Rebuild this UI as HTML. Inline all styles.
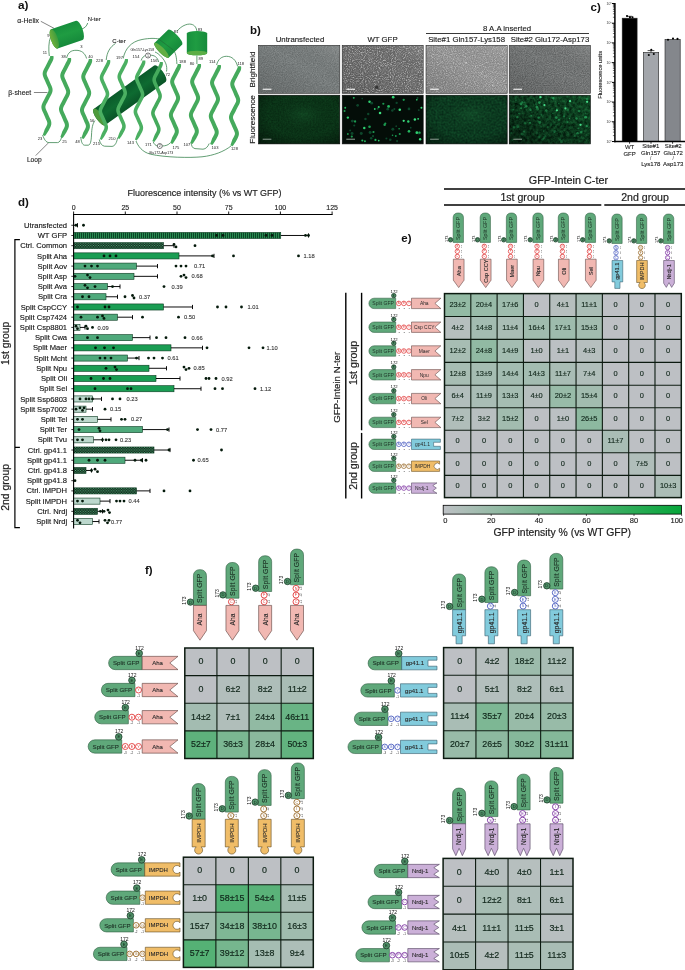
<!DOCTYPE html>
<html><head><meta charset="utf-8"><title>Figure</title>
<style>
html,body{margin:0;padding:0;background:#fff;}
svg{display:block;font-family:"Liberation Sans", sans-serif;}
text{font-family:"Liberation Sans", sans-serif;}
</style></head><body>
<svg width="685" height="970" viewBox="0 0 685 970">
<rect width="685" height="970" fill="#fff"/>
<defs>
<filter id="bf1" x="0" y="0" width="100%" height="100%" color-interpolation-filters="sRGB"><feTurbulence type="fractalNoise" baseFrequency="0.9" numOctaves="2" seed="2" result="t"/><feColorMatrix in="t" type="matrix" values="0.2 0 0 0 0.37  0.2 0 0 0 0.39  0.2 0 0 0 0.39  0 0 0 0 1" result="c"/><feComposite in="c" in2="SourceGraphic" operator="in"/></filter>
<filter id="bf2" x="0" y="0" width="100%" height="100%" color-interpolation-filters="sRGB"><feTurbulence type="fractalNoise" baseFrequency="0.93" numOctaves="2" seed="5" result="t"/><feColorMatrix in="t" type="matrix" values="1 0 0 0 0  1 0 0 0 0  1 0 0 0 0  0 0 0 0 1" result="g"/><feComponentTransfer in="g" result="c"><feFuncR type="table" tableValues="0.33 0.35 0.37 0.39 0.41 0.45 0.52 0.62 0.72 0.8 0.9"/><feFuncG type="table" tableValues="0.33 0.35 0.37 0.39 0.41 0.45 0.52 0.62 0.72 0.8 0.9"/><feFuncB type="table" tableValues="0.33 0.35 0.37 0.39 0.41 0.45 0.52 0.62 0.72 0.8 0.9"/></feComponentTransfer><feComposite in="c" in2="SourceGraphic" operator="in"/></filter>
<filter id="bf3" x="0" y="0" width="100%" height="100%" color-interpolation-filters="sRGB"><feTurbulence type="fractalNoise" baseFrequency="0.9" numOctaves="2" seed="7" result="t"/><feColorMatrix in="t" type="matrix" values="1 0 0 0 0  1 0 0 0 0  1 0 0 0 0  0 0 0 0 1" result="g"/><feComponentTransfer in="g" result="c"><feFuncR type="table" tableValues="0.45 0.48 0.51 0.54 0.56 0.59 0.64 0.69 0.76 0.85 1"/><feFuncG type="table" tableValues="0.45 0.48 0.51 0.54 0.56 0.59 0.64 0.69 0.76 0.85 1"/><feFuncB type="table" tableValues="0.45 0.48 0.51 0.54 0.56 0.59 0.64 0.69 0.76 0.85 1"/></feComponentTransfer><feComposite in="c" in2="SourceGraphic" operator="in"/></filter>
<filter id="bf4" x="0" y="0" width="100%" height="100%" color-interpolation-filters="sRGB"><feTurbulence type="fractalNoise" baseFrequency="0.9" numOctaves="2" seed="11" result="t"/><feColorMatrix in="t" type="matrix" values="0.26 0 0 0 0.32  0.26 0 0 0 0.33  0.26 0 0 0 0.33  0 0 0 0 1" result="c"/><feComposite in="c" in2="SourceGraphic" operator="in"/></filter>
<filter id="fl1" x="0" y="0" width="100%" height="100%" color-interpolation-filters="sRGB"><feTurbulence type="fractalNoise" baseFrequency="0.6" numOctaves="2" seed="4" result="t"/><feColorMatrix in="t" type="matrix" values="0.04 0 0 0 0.02  0.12 0 0 0 0.14  0.06 0 0 0 0.06  0 0 0 0 1" result="c"/><feComposite in="c" in2="SourceGraphic" operator="in"/></filter>
<filter id="fl3" x="0" y="0" width="100%" height="100%" color-interpolation-filters="sRGB"><feTurbulence type="fractalNoise" baseFrequency="0.5" numOctaves="2" seed="8" result="t"/><feColorMatrix in="t" type="matrix" values="0.07 0 0 0 0.01  0.22 0 0 0 0.12  0.11 0 0 0 0.07  0 0 0 0 1" result="c"/><feComposite in="c" in2="SourceGraphic" operator="in"/></filter>
<filter id="fl4" x="0" y="0" width="100%" height="100%" color-interpolation-filters="sRGB"><feTurbulence type="fractalNoise" baseFrequency="0.33" numOctaves="3" seed="9" result="t"/><feColorMatrix in="t" type="matrix" values="0.13 0 0 0 -0.02  0.42 0 0 0 0.02  0.23 0 0 0 -0  0 0 0 0 1" result="c"/><feComposite in="c" in2="SourceGraphic" operator="in"/></filter>
<filter id="blur1" x="-50%" y="-50%" width="200%" height="200%"><feGaussianBlur stdDeviation="0.55"/></filter>
<filter id="blur2" x="-50%" y="-50%" width="200%" height="200%"><feGaussianBlur stdDeviation="0.8"/></filter>
<linearGradient id="vg1" x1="0" y1="1" x2="1" y2="0"><stop offset="0" stop-color="#000" stop-opacity="0.16"/><stop offset="0.55" stop-color="#000" stop-opacity="0"/><stop offset="1" stop-color="#fff" stop-opacity="0.14"/></linearGradient>
<radialGradient id="vg2" cx="0.55" cy="0.4" r="0.8"><stop offset="0" stop-color="#2a8a4a" stop-opacity="0.2"/><stop offset="0.55" stop-color="#000" stop-opacity="0"/><stop offset="1" stop-color="#000" stop-opacity="0.5"/></radialGradient>
<linearGradient id="vg4" x1="0" y1="1" x2="1" y2="0"><stop offset="0" stop-color="#000" stop-opacity="0.45"/><stop offset="0.5" stop-color="#000" stop-opacity="0.05"/><stop offset="1" stop-color="#3c6" stop-opacity="0.12"/></linearGradient>
<linearGradient id="hA" x1="0" y1="0" x2="0" y2="1" gradientUnits="objectBoundingBox"><stop offset="0" stop-color="#178f3d"/><stop offset="0.45" stop-color="#1f9c42"/><stop offset="1" stop-color="#168a3b"/></linearGradient>
<linearGradient id="hB" x1="0" y1="0" x2="0" y2="1" gradientUnits="objectBoundingBox"><stop offset="0" stop-color="#0a5a2a"/><stop offset="0.5" stop-color="#0e6b31"/><stop offset="1" stop-color="#0a5427"/></linearGradient>
<linearGradient id="capA" x1="0" y1="0" x2="1" y2="0"><stop offset="0" stop-color="#74b03c"/><stop offset="1" stop-color="#3c9c3e"/></linearGradient>
<pattern id="pwt" width="2" height="8" patternUnits="userSpaceOnUse"><rect width="2" height="8" fill="#0a4527"/><rect x="0" width="1" height="8" fill="#27894e"/></pattern>
<pattern id="pck" width="2.554" height="2.554" patternUnits="userSpaceOnUse" patternTransform="translate(0.2 244.40)"><rect width="2.6" height="2.6" fill="#031208"/><circle cx="1.277" cy="1.277" r="0.7" fill="#5cba88"/><circle cx="0" cy="0" r="0.7" fill="#5cba88"/><circle cx="2.554" cy="0" r="0.7" fill="#5cba88"/><circle cx="0" cy="2.554" r="0.7" fill="#5cba88"/><circle cx="2.554" cy="2.554" r="0.7" fill="#5cba88"/></pattern>
<linearGradient id="cb" x1="0" y1="0" x2="1" y2="0"><stop offset="0" stop-color="#bdc0c4"/><stop offset="1" stop-color="#06a63a"/></linearGradient>
</defs>
<g><text x="250" y="34" font-size="11.5" text-anchor="start" font-weight="bold" fill="#111">b)</text>
<text x="300" y="42" font-size="7.8" text-anchor="middle" font-weight="normal" fill="#222" stroke="#222" stroke-width="0.14">Untransfected</text>
<text x="382.5" y="42" font-size="7.8" text-anchor="middle" font-weight="normal" fill="#222" stroke="#222" stroke-width="0.14">WT GFP</text>
<text x="466.6" y="42" font-size="7.8" text-anchor="middle" font-weight="normal" fill="#222" stroke="#222" stroke-width="0.14">Site#1 Gln157-Lys158</text>
<text x="550" y="42" font-size="7.8" text-anchor="middle" font-weight="normal" fill="#222" stroke="#222" stroke-width="0.14">Site#2 Glu172-Asp173</text>
<text x="507" y="31" font-size="7.8" text-anchor="middle" font-weight="normal" fill="#222" stroke="#222" stroke-width="0.14">8 A.A inserted</text>
<line x1="426" y1="33.5" x2="589" y2="33.5" stroke="#222" stroke-width="0.9"/>
<text x="255.3" y="69.5" font-size="8.1" text-anchor="middle" font-weight="normal" fill="#222" transform="rotate(-90 255.3 69.5)" stroke="#222" stroke-width="0.15">Brightfield</text>
<text x="255.3" y="119.5" font-size="8.1" text-anchor="middle" font-weight="normal" fill="#222" transform="rotate(-90 255.3 119.5)" stroke="#222" stroke-width="0.15">Fluorescence</text>
<rect x="258.6" y="45.3" width="81.2" height="48" fill="#888" filter="url(#bf1)"/>
<rect x="258.6" y="45.3" width="81.2" height="48" fill="url(#vg1)"/>
<rect x="342.2" y="45.3" width="81" height="48" fill="#888" filter="url(#bf2)"/>
<rect x="342.2" y="45.3" width="81" height="48" fill="url(#vg1)"/>
<rect x="426" y="45.3" width="81.2" height="48" fill="#888" filter="url(#bf3)"/>
<rect x="426" y="45.3" width="81.2" height="48" fill="url(#vg1)"/>
<rect x="509.2" y="45.3" width="81.2" height="48" fill="#888" filter="url(#bf4)"/>
<rect x="509.2" y="45.3" width="81.2" height="48" fill="url(#vg1)"/>
<circle cx="376.8" cy="87.3" r="1.8" fill="#222" opacity="0.7" filter="url(#blur1)"/>
<rect x="258.6" y="95.2" width="81.2" height="48.7" fill="#888" filter="url(#fl1)"/>
<rect x="258.6" y="95.2" width="81.2" height="48.7" fill="url(#vg2)"/>
<rect x="342.2" y="95.2" width="81" height="48.7" fill="#040d08"/>
<rect x="426" y="95.2" width="81.2" height="48.7" fill="#888" filter="url(#fl3)"/>
<rect x="426" y="95.2" width="81.2" height="48.7" fill="url(#vg2)"/>
<rect x="509.2" y="95.2" width="81.2" height="48.7" fill="#888" filter="url(#fl4)"/>
<rect x="509.2" y="95.2" width="81.2" height="48.7" fill="url(#vg4)"/>
<g filter="url(#blur1)"><circle cx="345.23" cy="107.7" r="0.94" fill="#25b860"/><circle cx="344.57" cy="110.99" r="1.02" fill="#1c9a50"/><circle cx="347.86" cy="117.56" r="1.18" fill="#2fd070"/><circle cx="355.08" cy="121.5" r="1.16" fill="#1c9a50"/><circle cx="353.77" cy="97.85" r="0.96" fill="#25b860"/><circle cx="347.86" cy="133.98" r="0.92" fill="#1c9a50"/><circle cx="351.8" cy="136.61" r="1.12" fill="#1c9a50"/><circle cx="362.31" cy="140.55" r="1.04" fill="#25b860"/><circle cx="364.94" cy="141.21" r="0.94" fill="#25b860"/><circle cx="369.54" cy="126.76" r="1.32" fill="#1c9a50"/><circle cx="364.28" cy="128.07" r="1.24" fill="#2fd070"/><circle cx="374.79" cy="109.02" r="0.9" fill="#2fd070"/><circle cx="378.74" cy="107.05" r="0.98" fill="#2fd070"/><circle cx="380.05" cy="112.96" r="1.29" fill="#3fe080"/><circle cx="383.34" cy="103.76" r="1.08" fill="#1c9a50"/><circle cx="384.65" cy="124.79" r="1.23" fill="#1c9a50"/><circle cx="385.31" cy="123.47" r="1.04" fill="#1c9a50"/><circle cx="388.59" cy="106.39" r="1.38" fill="#25b860"/><circle cx="393.19" cy="97.19" r="1.33" fill="#2fd070"/><circle cx="392.53" cy="135.3" r="0.82" fill="#1c9a50"/><circle cx="395.82" cy="135.96" r="0.93" fill="#1c9a50"/><circle cx="399.76" cy="109.67" r="1.27" fill="#3fe080"/><circle cx="399.76" cy="133.98" r="1.05" fill="#1c9a50"/><circle cx="403.7" cy="99.82" r="1.14" fill="#1c9a50"/><circle cx="403.7" cy="120.84" r="1.15" fill="#3fe080"/><circle cx="408.3" cy="121.5" r="1.21" fill="#2fd070"/><circle cx="408.96" cy="131.36" r="1.31" fill="#25b860"/><circle cx="414.87" cy="119.53" r="1.22" fill="#3fe080"/><circle cx="416.84" cy="132.67" r="1.38" fill="#2fd070"/><circle cx="419.47" cy="132.67" r="1.23" fill="#25b860"/><circle cx="420.13" cy="139.24" r="1.18" fill="#3fe080"/><circle cx="418.16" cy="118.87" r="0.97" fill="#2fd070"/><circle cx="373.48" cy="132.01" r="1.09" fill="#1c9a50"/><circle cx="378.74" cy="140.55" r="0.85" fill="#2fd070"/><circle cx="375.45" cy="139.9" r="1.05" fill="#25b860"/><circle cx="399.1" cy="128.73" r="0.81" fill="#1c9a50"/><circle cx="369.54" cy="101.79" r="1.26" fill="#2fd070"/><circle cx="416.84" cy="99.82" r="0.83" fill="#2fd070"/><circle cx="421.44" cy="107.7" r="1.03" fill="#3fe080"/><circle cx="386.42" cy="138.48" r="1" fill="#12603a" opacity="0.7"/><circle cx="362.17" cy="98.62" r="0.81" fill="#12603a" opacity="0.7"/><circle cx="352.33" cy="121.1" r="1.46" fill="#12603a" opacity="0.7"/><circle cx="418.8" cy="110.12" r="0.98" fill="#12603a" opacity="0.7"/><circle cx="397.11" cy="141.09" r="1.04" fill="#12603a" opacity="0.7"/><circle cx="371.74" cy="103.22" r="1.4" fill="#12603a" opacity="0.7"/><circle cx="373.01" cy="136.15" r="1.07" fill="#12603a" opacity="0.7"/><circle cx="410.75" cy="127.64" r="0.87" fill="#12603a" opacity="0.7"/><circle cx="418.91" cy="133.52" r="0.99" fill="#12603a" opacity="0.7"/><circle cx="392.84" cy="129.2" r="1.46" fill="#12603a" opacity="0.7"/><circle cx="377.68" cy="108.62" r="1.01" fill="#12603a" opacity="0.7"/><circle cx="370.1" cy="132.48" r="1.49" fill="#12603a" opacity="0.7"/><circle cx="368.25" cy="113.94" r="1.21" fill="#12603a" opacity="0.7"/><circle cx="354.26" cy="125.51" r="1.03" fill="#12603a" opacity="0.7"/><circle cx="371.17" cy="138.28" r="1.23" fill="#12603a" opacity="0.7"/><circle cx="365.48" cy="119.03" r="1.21" fill="#12603a" opacity="0.7"/><circle cx="417.52" cy="97.96" r="1.06" fill="#12603a" opacity="0.7"/><circle cx="392.35" cy="110.44" r="1.22" fill="#12603a" opacity="0.7"/><circle cx="357.66" cy="105.34" r="1.33" fill="#12603a" opacity="0.7"/><circle cx="408.98" cy="108.89" r="1.35" fill="#12603a" opacity="0.7"/><circle cx="352.08" cy="133.59" r="1.48" fill="#12603a" opacity="0.7"/><circle cx="396.65" cy="102.91" r="1.15" fill="#12603a" opacity="0.7"/><circle cx="394.34" cy="109.12" r="1.03" fill="#12603a" opacity="0.7"/><circle cx="396.21" cy="126.23" r="0.87" fill="#12603a" opacity="0.7"/><circle cx="390.26" cy="139.71" r="1.27" fill="#12603a" opacity="0.7"/><circle cx="361.28" cy="133.44" r="1.47" fill="#12603a" opacity="0.7"/><circle cx="350.16" cy="130.39" r="0.95" fill="#12603a" opacity="0.7"/><circle cx="387.77" cy="109.18" r="1.35" fill="#12603a" opacity="0.7"/></g>
<g filter="url(#blur1)"><circle cx="536.26" cy="103.79" r="1.22" fill="#2fc870" opacity="0.21"/><circle cx="552.8" cy="113.46" r="0.75" fill="#2fc870" opacity="0.39"/><circle cx="513.92" cy="116.51" r="0.76" fill="#2fc870" opacity="0.16"/><circle cx="544.11" cy="134.21" r="0.8" fill="#2fc870" opacity="0.2"/><circle cx="559.94" cy="139.65" r="1.16" fill="#2fc870" opacity="0.27"/><circle cx="587.15" cy="99.1" r="1.39" fill="#2fc870" opacity="0.4"/><circle cx="522.25" cy="102.3" r="0.95" fill="#2fc870" opacity="0.48"/><circle cx="525.1" cy="123.17" r="1.21" fill="#2fc870" opacity="0.25"/><circle cx="553.72" cy="99.83" r="0.75" fill="#2fc870" opacity="0.3"/><circle cx="564.07" cy="116.24" r="0.95" fill="#2fc870" opacity="0.43"/><circle cx="546.35" cy="110.49" r="1.34" fill="#2fc870" opacity="0.46"/><circle cx="530.04" cy="122.85" r="1.12" fill="#2fc870" opacity="0.42"/><circle cx="567.9" cy="109.96" r="1.48" fill="#2fc870" opacity="0.26"/><circle cx="543.61" cy="131.07" r="0.82" fill="#2fc870" opacity="0.29"/><circle cx="514.06" cy="127.07" r="1.31" fill="#2fc870" opacity="0.27"/><circle cx="579.29" cy="111.12" r="1.26" fill="#2fc870" opacity="0.49"/><circle cx="556.23" cy="117.53" r="1.37" fill="#2fc870" opacity="0.55"/><circle cx="547.98" cy="126.89" r="0.75" fill="#2fc870" opacity="0.39"/><circle cx="561.48" cy="141.69" r="1.36" fill="#2fc870" opacity="0.23"/><circle cx="541.09" cy="127.09" r="0.72" fill="#2fc870" opacity="0.29"/><circle cx="524.11" cy="102.27" r="0.75" fill="#2fc870" opacity="0.47"/><circle cx="521.09" cy="108.14" r="1.01" fill="#2fc870" opacity="0.46"/><circle cx="517.29" cy="117.21" r="1.14" fill="#2fc870" opacity="0.41"/><circle cx="574.9" cy="135.88" r="0.92" fill="#2fc870" opacity="0.32"/><circle cx="538.98" cy="136.79" r="1.47" fill="#2fc870" opacity="0.17"/><circle cx="524.74" cy="107.44" r="0.89" fill="#2fc870" opacity="0.34"/><circle cx="556.95" cy="108.82" r="0.7" fill="#2fc870" opacity="0.38"/><circle cx="539.8" cy="122.49" r="1.46" fill="#2fc870" opacity="0.38"/><circle cx="551.21" cy="124.79" r="1.24" fill="#2fc870" opacity="0.18"/><circle cx="581.16" cy="132.1" r="1.4" fill="#2fc870" opacity="0.49"/><circle cx="541.61" cy="114.95" r="0.78" fill="#2fc870" opacity="0.4"/><circle cx="515.86" cy="100.03" r="0.87" fill="#2fc870" opacity="0.23"/><circle cx="537.52" cy="99.37" r="0.7" fill="#2fc870" opacity="0.26"/><circle cx="518.91" cy="113.36" r="0.72" fill="#2fc870" opacity="0.43"/><circle cx="558.9" cy="103.68" r="0.9" fill="#2fc870" opacity="0.36"/><circle cx="539.4" cy="102.53" r="1.38" fill="#2fc870" opacity="0.6"/><circle cx="547.35" cy="118.77" r="0.77" fill="#2fc870" opacity="0.2"/><circle cx="537.73" cy="108.91" r="1.36" fill="#2fc870" opacity="0.24"/><circle cx="512.8" cy="139.79" r="1.12" fill="#2fc870" opacity="0.12"/><circle cx="553.37" cy="98.22" r="1.12" fill="#2fc870" opacity="0.66"/><circle cx="578.34" cy="128.33" r="0.91" fill="#2fc870" opacity="0.33"/><circle cx="524.03" cy="131.74" r="1.13" fill="#2fc870" opacity="0.32"/><circle cx="536.71" cy="107.04" r="1.35" fill="#2fc870" opacity="0.56"/><circle cx="577.51" cy="133.27" r="1.35" fill="#2fc870" opacity="0.45"/><circle cx="528.69" cy="120.29" r="0.98" fill="#2fc870" opacity="0.15"/><circle cx="513.18" cy="109.57" r="0.91" fill="#2fc870" opacity="0.37"/><circle cx="585.61" cy="117.13" r="1.45" fill="#2fc870" opacity="0.67"/><circle cx="585.49" cy="113.41" r="0.88" fill="#2fc870" opacity="0.32"/><circle cx="526.34" cy="106.2" r="1.2" fill="#2fc870" opacity="0.5"/><circle cx="576.55" cy="118.58" r="1.22" fill="#2fc870" opacity="0.55"/><circle cx="517.61" cy="126.73" r="1.43" fill="#2fc870" opacity="0.33"/><circle cx="569.51" cy="118.51" r="0.84" fill="#2fc870" opacity="0.52"/><circle cx="536.94" cy="133.04" r="1.48" fill="#2fc870" opacity="0.24"/><circle cx="542.31" cy="139.61" r="1.28" fill="#2fc870" opacity="0.17"/><circle cx="520.91" cy="103.8" r="1.42" fill="#2fc870" opacity="0.46"/><circle cx="522.4" cy="134.19" r="1.48" fill="#2fc870" opacity="0.28"/><circle cx="538.33" cy="121.69" r="0.8" fill="#2fc870" opacity="0.16"/><circle cx="586.73" cy="126.24" r="1.12" fill="#2fc870" opacity="0.6"/><circle cx="544.84" cy="136.23" r="1.36" fill="#2fc870" opacity="0.19"/><circle cx="530.64" cy="110.18" r="0.89" fill="#2fc870" opacity="0.38"/><circle cx="531.23" cy="115.86" r="0.8" fill="#2fc870" opacity="0.47"/><circle cx="538.6" cy="117.62" r="1.17" fill="#2fc870" opacity="0.48"/><circle cx="543.81" cy="138.3" r="1.1" fill="#2fc870" opacity="0.28"/><circle cx="551.83" cy="97.84" r="1.05" fill="#2fc870" opacity="0.29"/><circle cx="511.31" cy="132.96" r="0.84" fill="#2fc870" opacity="0.21"/><circle cx="567.57" cy="122.04" r="0.96" fill="#2fc870" opacity="0.39"/><circle cx="554.32" cy="132.29" r="0.78" fill="#2fc870" opacity="0.34"/><circle cx="530.38" cy="109.46" r="1.32" fill="#2fc870" opacity="0.35"/><circle cx="554.81" cy="131.2" r="1.43" fill="#2fc870" opacity="0.3"/><circle cx="558.78" cy="119.75" r="1.11" fill="#2fc870" opacity="0.45"/><circle cx="540.48" cy="97.19" r="1.15" fill="#45dc88"/><circle cx="565.45" cy="108.36" r="1.15" fill="#45dc88"/><circle cx="587.13" cy="101.79" r="1.15" fill="#45dc88"/><circle cx="570.05" cy="101.13" r="1.15" fill="#45dc88"/><circle cx="556.91" cy="110.33" r="1.15" fill="#45dc88"/><circle cx="580.56" cy="124.79" r="1.15" fill="#45dc88"/><circle cx="544.42" cy="105.07" r="1.15" fill="#45dc88"/></g>
<rect x="258.6" y="45.3" width="81.2" height="48" fill="none" stroke="#2a2a2a" stroke-width="0.6"/>
<rect x="258.6" y="95.2" width="81.2" height="48.7" fill="none" stroke="#0a0a0a" stroke-width="0.6"/>
<rect x="262.7" y="88.7" width="8.7" height="1.05" fill="#fff"/>
<rect x="262.7" y="138.7" width="8.7" height="1.05" fill="#8a9a90"/>
<rect x="342.2" y="45.3" width="81" height="48" fill="none" stroke="#2a2a2a" stroke-width="0.6"/>
<rect x="342.2" y="95.2" width="81" height="48.7" fill="none" stroke="#0a0a0a" stroke-width="0.6"/>
<rect x="346.3" y="88.7" width="8.7" height="1.05" fill="#fff"/>
<rect x="346.3" y="138.7" width="8.7" height="1.05" fill="#8a9a90"/>
<rect x="426" y="45.3" width="81.2" height="48" fill="none" stroke="#2a2a2a" stroke-width="0.6"/>
<rect x="426" y="95.2" width="81.2" height="48.7" fill="none" stroke="#0a0a0a" stroke-width="0.6"/>
<rect x="430.1" y="88.7" width="8.7" height="1.05" fill="#fff"/>
<rect x="430.1" y="138.7" width="8.7" height="1.05" fill="#8a9a90"/>
<rect x="509.2" y="45.3" width="81.2" height="48" fill="none" stroke="#2a2a2a" stroke-width="0.6"/>
<rect x="509.2" y="95.2" width="81.2" height="48.7" fill="none" stroke="#0a0a0a" stroke-width="0.6"/>
<rect x="513.3" y="88.7" width="8.7" height="1.05" fill="#fff"/>
<rect x="513.3" y="138.7" width="8.7" height="1.05" fill="#8a9a90"/></g>
<g><text x="18" y="8.7" font-size="11.8" text-anchor="start" font-weight="bold" fill="#111">a)</text>
<text x="17.3" y="22.9" font-size="6.9" text-anchor="start" font-weight="normal" fill="#222" stroke="#222" stroke-width="0.12">α-Helix</text>
<line x1="40.8" y1="21.3" x2="54" y2="28.3" stroke="#333" stroke-width="0.6"/>
<text x="87.7" y="21.4" font-size="5.8" text-anchor="start" font-weight="normal" fill="#222" stroke="#222" stroke-width="0.1">N-ter</text>
<text x="112.3" y="43.2" font-size="6" text-anchor="start" font-weight="normal" fill="#222" stroke="#222" stroke-width="0.11">C-ter</text>
<text x="8.2" y="94.8" font-size="6.85" text-anchor="start" font-weight="normal" fill="#222" stroke="#222" stroke-width="0.12">β-sheet</text>
<line x1="33.9" y1="92.5" x2="47.5" y2="92.5" stroke="#333" stroke-width="0.6"/>
<text x="26.9" y="162.1" font-size="6.65" text-anchor="start" font-weight="normal" fill="#222" stroke="#222" stroke-width="0.12">Loop</text>
<line x1="35.7" y1="155.6" x2="48.2" y2="143.1" stroke="#333" stroke-width="0.6"/>
<path d="M87.7,23 C86.8,26 84.8,28 81.8,29" fill="none" stroke="#2f7d45" stroke-width="0.75"/>
<path d="M50.6,37 C48.5,42 48.5,50 49.3,56" fill="none" stroke="#2f7d45" stroke-width="0.75"/>
<path d="M42.6,135 C44,139 46,142.6 49,142.6 L57.5,142.6 C59.5,142.6 61,140 61.7,136.8" fill="none" stroke="#2f7d45" stroke-width="0.75"/>
<path d="M66.6,58 C68,52.5 71,50.3 76,50.3 C81.5,50.3 85,53 86.6,58.5" fill="none" stroke="#2f7d45" stroke-width="0.75"/>
<path d="M80.7,137 C81.2,141 82,144.8 84.5,145.2 L88,145.2 C90.5,145.2 91.2,141 91.5,135 C91.8,128 92.5,124 95,120.5" fill="none" stroke="#2f7d45" stroke-width="0.75"/>
<path d="M115.5,43.5 C110,47 107,52 106.2,60" fill="none" stroke="#2f7d45" stroke-width="0.75"/>
<path d="M99.3,139.5 C100,143.5 102,145.8 104.5,146.2 L112,146.4 C115,146.2 116.8,142.5 117.6,137.7" fill="none" stroke="#2f7d45" stroke-width="0.75"/>
<path d="M123.2,58.5 C125,49 131,41.5 142,39.5 C150,38 155,38.2 159,39 L173.3,50 C175.5,52.5 176.6,57 176.9,64" fill="none" stroke="#2f7d45" stroke-width="0.75"/>
<path d="M141.2,60.5 C142,57.5 144,55.8 145.7,55.5" fill="none" stroke="#2f7d45" stroke-width="0.75"/>
<path d="M150.3,55.3 C154,55 157.5,57 158.7,62" fill="none" stroke="#2f7d45" stroke-width="0.75"/>
<path d="M166.5,71.5 C167.5,66 165.5,61.5 162,57.5 C159,54 156.5,52.5 155,52" fill="none" stroke="#2f7d45" stroke-width="0.75"/>
<path d="M176.8,31.5 C181,26 187,23.5 191,24.2 C195,25 196.5,28 196.9,31.5" fill="none" stroke="#2f7d45" stroke-width="0.75"/>
<path d="M196.9,55.5 L196.9,64" fill="none" stroke="#2f7d45" stroke-width="0.75"/>
<path d="M216.6,65 C218,59 222,56.3 226.5,56.3 C232,56.3 236,60 237.6,66.3" fill="none" stroke="#2f7d45" stroke-width="0.75"/>
<path d="M136,141 C138,146 142,152 150.5,154.2 C165,157.5 190,158 202,156.8 C214,155.5 224,151.5 231,146" fill="none" stroke="#2f7d45" stroke-width="0.75"/>
<path d="M153.2,141.8 C154,144 155.5,145.6 157.5,146" fill="none" stroke="#2f7d45" stroke-width="0.75"/>
<path d="M162.1,146 C165.5,146 168.5,145 170.3,142.8" fill="none" stroke="#2f7d45" stroke-width="0.75"/>
<path d="M191,142.5 C191.5,146 192.5,148.3 195,148.6 L203,149.2 C206,149 208,146.5 209.2,143.5" fill="none" stroke="#2f7d45" stroke-width="0.75"/>
<g transform="translate(54.3 38.9) rotate(-18.8)"><path d="M0,-10.2 L26.4,-10.2 A3.5,10.2 0 0 1 26.4,10.2 L0,10.2 A3.5,10.2 0 0 1 0,-10.2Z" fill="url(#hA)"/><ellipse cx="0" cy="0" rx="3.5" ry="10.2" fill="url(#capA)"/></g>
<g transform="translate(197 53) rotate(-90)"><path d="M0,-10.2 L19.6,-10.2 A2.3,10.2 0 0 1 19.6,10.2 L0,10.2 A2.3,10.2 0 0 1 0,-10.2Z" fill="url(#hA)"/><ellipse cx="0" cy="0" rx="2.3" ry="10.2" fill="#5cae46"/></g>
<g transform="translate(161.5 50.3) rotate(-44)"><path d="M0,-10.2 L19,-10.2 A2.8,10.2 0 0 1 19,10.2 L0,10.2 A2.8,10.2 0 0 1 0,-10.2Z" fill="url(#hA)"/><ellipse cx="0" cy="0" rx="2.8" ry="10.2" fill="#62ae44"/></g>
<path d="M158.7,39 L173.3,50" fill="none" stroke="#1f6e38" stroke-width="0.7"/>
<g transform="translate(99.5 117) rotate(-35.7)"><path d="M0,-10 L74.5,-10 A3.4,10 0 0 1 74.5,10 L0,10 A3.4,10 0 0 1 0,-10Z" fill="url(#hB)"/><ellipse cx="0" cy="0" rx="3.4" ry="10" fill="#4f9a3c"/></g>
<path d="M50.23,56.02 L50.08,57.09 L49.72,57.96 L49.25,58.97 L48.67,60.12 L47.99,61.36 L47.31,62.65 L46.66,63.94 L46.03,65.19 L45.4,66.42 L44.73,67.67 L44.03,68.98 L43.36,70.4 L42.85,71.96 L42.63,73.63 L42.79,75.3 L43.23,76.85 L43.81,78.26 L44.41,79.56 L44.98,80.79 L45.52,82.02 L46.05,83.29 L46.61,84.58 L47.2,85.86 L47.77,87.09 L48.24,88.21 L48.53,89.19 L48.61,90.04 L48.5,90.89 L48.18,91.85 L47.66,92.96 L47,94.17 L46.31,95.45 L45.65,96.74 L45.02,98.01 L44.39,99.25 L43.74,100.48 L43.04,101.76 L42.35,103.13 L41.76,104.63 L41.42,106.27 L41.43,107.96 L41.78,109.57 L42.32,111.03 L42.92,112.36 L43.51,113.62 L44.06,114.84 L44.58,116.09 L45.13,117.37 L45.71,118.67 L46.3,119.93 L46.82,121.09 L47.18,122.13 L47.35,123.02 L47.31,123.85 L47.08,124.76 L46.62,125.81 L46.01,126.99 L45.32,128.25 L44.65,129.54 L44.18,130.91 L43.74,132.25 L43.27,133.58 L42.77,134.93 L44.88,136.07 L45.75,134.9 L46.59,133.7 L47.41,132.52 L48.2,131.36 L48.85,130.13 L49.54,128.87 L50.24,127.52 L50.86,126.05 L51.27,124.44 L51.34,122.74 L51.05,121.11 L50.54,119.62 L49.94,118.26 L49.35,117 L48.79,115.77 L48.26,114.53 L47.73,113.25 L47.15,111.96 L46.56,110.69 L46.01,109.5 L45.61,108.43 L45.41,107.51 L45.4,106.68 L45.59,105.8 L46,104.77 L46.58,103.62 L47.26,102.38 L47.95,101.09 L48.6,99.8 L49.22,98.54 L49.85,97.31 L50.52,96.07 L51.23,94.76 L51.89,93.34 L52.4,91.78 L52.61,90.1 L52.46,88.43 L52.01,86.88 L51.43,85.48 L50.83,84.18 L50.26,82.95 L49.73,81.71 L49.2,80.45 L48.63,79.16 L48.04,77.87 L47.47,76.65 L47,75.53 L46.72,74.55 L46.63,73.7 L46.75,72.85 L47.07,71.89 L47.6,70.78 L48.25,69.57 L48.94,68.29 L49.6,67 L50.23,65.73 L50.86,64.49 L51.51,63.26 L52.21,61.98 L52.9,60.61 L53.43,59.08 L53.6,57.44 L53.43,55.98Z" fill="#45aa5c"/>
<path d="M67.83,58.02 L67.68,59.09 L67.32,59.96 L66.85,60.97 L66.27,62.12 L65.59,63.36 L64.91,64.65 L64.26,65.94 L63.63,67.19 L63,68.42 L62.33,69.67 L61.63,70.98 L60.96,72.4 L60.45,73.96 L60.23,75.63 L60.39,77.3 L60.83,78.85 L61.41,80.26 L62.01,81.56 L62.58,82.79 L63.12,84.02 L63.65,85.29 L64.21,86.58 L64.8,87.86 L65.37,89.09 L65.84,90.21 L66.13,91.19 L66.21,92.04 L66.1,92.89 L65.78,93.85 L65.26,94.96 L64.6,96.17 L63.91,97.45 L63.25,98.74 L62.62,100.01 L61.99,101.25 L61.34,102.48 L60.64,103.76 L59.95,105.13 L59.36,106.63 L59.02,108.27 L59.03,109.96 L59.38,111.57 L59.92,113.03 L60.52,114.36 L61.11,115.62 L61.66,116.84 L62.18,118.09 L62.73,119.37 L63.31,120.67 L63.9,121.93 L64.42,123.09 L64.78,124.13 L64.95,125.02 L64.91,125.85 L64.68,126.76 L64.22,127.81 L63.61,128.99 L62.92,130.25 L62.25,131.54 L61.78,132.91 L61.34,134.25 L60.87,135.58 L60.37,136.93 L62.48,138.07 L63.35,136.9 L64.19,135.7 L65.01,134.52 L65.8,133.36 L66.45,132.13 L67.14,130.87 L67.84,129.52 L68.46,128.05 L68.87,126.44 L68.94,124.74 L68.65,123.11 L68.14,121.62 L67.54,120.26 L66.95,119 L66.39,117.77 L65.86,116.53 L65.33,115.25 L64.75,113.96 L64.16,112.69 L63.61,111.5 L63.21,110.43 L63.01,109.51 L63,108.68 L63.19,107.8 L63.6,106.77 L64.18,105.62 L64.86,104.38 L65.55,103.09 L66.2,101.8 L66.82,100.54 L67.45,99.31 L68.12,98.07 L68.83,96.76 L69.49,95.34 L70,93.78 L70.21,92.1 L70.06,90.43 L69.61,88.88 L69.03,87.48 L68.43,86.18 L67.86,84.95 L67.33,83.71 L66.8,82.45 L66.23,81.16 L65.64,79.87 L65.07,78.65 L64.6,77.53 L64.32,76.55 L64.23,75.7 L64.35,74.85 L64.67,73.89 L65.2,72.78 L65.85,71.57 L66.54,70.29 L67.2,69 L67.83,67.73 L68.46,66.49 L69.11,65.26 L69.81,63.98 L70.5,62.61 L71.03,61.08 L71.2,59.44 L71.03,57.98Z" fill="#45aa5c"/>
<path d="M88.83,59.02 L88.68,60.09 L88.32,60.96 L87.85,61.97 L87.27,63.12 L86.59,64.36 L85.91,65.65 L85.26,66.94 L84.63,68.19 L84,69.42 L83.33,70.67 L82.63,71.98 L81.96,73.4 L81.45,74.96 L81.23,76.63 L81.39,78.3 L81.83,79.85 L82.41,81.26 L83.01,82.56 L83.58,83.79 L84.12,85.02 L84.65,86.29 L85.21,87.58 L85.8,88.86 L86.37,90.09 L86.84,91.21 L87.13,92.19 L87.21,93.04 L87.1,93.89 L86.78,94.85 L86.26,95.96 L85.6,97.17 L84.91,98.45 L84.25,99.74 L83.62,101.01 L82.99,102.25 L82.34,103.48 L81.64,104.76 L80.95,106.13 L80.36,107.63 L80.02,109.27 L80.03,110.96 L80.38,112.57 L80.92,114.03 L81.52,115.36 L82.11,116.62 L82.66,117.84 L83.18,119.09 L83.73,120.37 L84.31,121.67 L84.9,122.93 L85.42,124.09 L85.78,125.13 L85.95,126.02 L85.91,126.85 L85.68,127.76 L85.22,128.81 L84.61,129.99 L83.92,131.25 L83.25,132.54 L82.78,133.91 L82.34,135.25 L81.87,136.58 L81.37,137.93 L83.48,139.07 L84.35,137.9 L85.19,136.7 L86.01,135.52 L86.8,134.36 L87.45,133.13 L88.14,131.87 L88.84,130.52 L89.46,129.05 L89.87,127.44 L89.94,125.74 L89.65,124.11 L89.14,122.62 L88.54,121.26 L87.95,120 L87.39,118.77 L86.86,117.53 L86.33,116.25 L85.75,114.96 L85.16,113.69 L84.61,112.5 L84.21,111.43 L84.01,110.51 L84,109.68 L84.19,108.8 L84.6,107.77 L85.18,106.62 L85.86,105.38 L86.55,104.09 L87.2,102.8 L87.82,101.54 L88.45,100.31 L89.12,99.07 L89.83,97.76 L90.49,96.34 L91,94.78 L91.21,93.1 L91.06,91.43 L90.61,89.88 L90.03,88.48 L89.43,87.18 L88.86,85.95 L88.33,84.71 L87.8,83.45 L87.23,82.16 L86.64,80.87 L86.07,79.65 L85.6,78.53 L85.32,77.55 L85.23,76.7 L85.35,75.85 L85.67,74.89 L86.2,73.78 L86.85,72.57 L87.54,71.29 L88.2,70 L88.83,68.73 L89.46,67.49 L90.11,66.26 L90.81,64.98 L91.5,63.61 L92.03,62.08 L92.2,60.44 L92.03,58.98Z" fill="#45aa5c"/>
<path d="M107.29,60.01 L107.16,61.1 L106.81,62.02 L106.34,63.05 L105.75,64.21 L105.07,65.46 L104.38,66.74 L103.74,68.03 L103.11,69.28 L102.48,70.52 L101.81,71.77 L101.11,73.07 L100.45,74.47 L99.94,76 L99.73,77.64 L99.88,79.27 L100.32,80.79 L100.89,82.18 L101.49,83.47 L102.07,84.71 L102.6,85.94 L103.13,87.21 L103.69,88.5 L104.28,89.78 L104.86,91.01 L105.33,92.15 L105.62,93.15 L105.71,94.04 L105.6,94.93 L105.27,95.93 L104.73,97.05 L104.08,98.27 L103.39,99.54 L102.73,100.83 L102.1,102.1 L101.47,103.34 L100.82,104.58 L100.12,105.85 L99.43,107.21 L98.85,108.69 L98.52,110.29 L98.53,111.94 L98.87,113.51 L99.4,114.95 L100.01,116.28 L100.59,117.53 L101.14,118.76 L101.67,120.01 L102.21,121.29 L102.79,122.58 L103.38,123.84 L103.91,125.02 L104.28,126.08 L104.45,127 L104.41,127.88 L104.16,128.82 L103.7,129.9 L103.09,131.08 L102.4,132.34 L101.72,133.63 L101.24,134.99 L100.78,136.32 L100.29,137.65 L99.77,138.98 L101.67,140.02 L102.52,138.83 L103.35,137.63 L104.15,136.44 L104.93,135.27 L105.57,134.04 L106.26,132.77 L106.96,131.44 L107.57,129.99 L107.97,128.41 L108.04,126.76 L107.76,125.16 L107.25,123.69 L106.66,122.35 L106.06,121.08 L105.51,119.85 L104.98,118.61 L104.44,117.33 L103.87,116.04 L103.27,114.77 L102.73,113.57 L102.32,112.49 L102.11,111.54 L102.1,110.66 L102.3,109.74 L102.72,108.69 L103.31,107.53 L103.99,106.28 L104.67,104.99 L105.32,103.71 L105.94,102.45 L106.57,101.22 L107.25,99.97 L107.95,98.67 L108.61,97.26 L109.11,95.73 L109.31,94.1 L109.16,92.47 L108.72,90.95 L108.15,89.56 L107.55,88.27 L106.98,87.03 L106.44,85.79 L105.91,84.53 L105.35,83.24 L104.76,81.96 L104.19,80.73 L103.71,79.59 L103.42,78.59 L103.33,77.7 L103.45,76.81 L103.79,75.81 L104.32,74.69 L104.97,73.47 L105.66,72.2 L106.33,70.91 L106.96,69.64 L107.58,68.4 L108.24,67.16 L108.93,65.88 L109.62,64.52 L110.14,63.03 L110.32,61.42 L110.17,59.99Z" fill="#4bb062"/>
<path d="M124.99,59.01 L124.86,60.1 L124.51,61.02 L124.04,62.05 L123.45,63.21 L122.77,64.46 L122.08,65.74 L121.44,67.03 L120.81,68.28 L120.18,69.52 L119.51,70.77 L118.81,72.07 L118.15,73.47 L117.64,75 L117.43,76.64 L117.58,78.27 L118.02,79.79 L118.59,81.18 L119.19,82.47 L119.77,83.71 L120.3,84.94 L120.83,86.21 L121.39,87.5 L121.98,88.78 L122.56,90.01 L123.03,91.15 L123.32,92.15 L123.41,93.04 L123.3,93.93 L122.97,94.93 L122.43,96.05 L121.78,97.27 L121.09,98.54 L120.43,99.83 L119.8,101.1 L119.17,102.34 L118.52,103.58 L117.82,104.85 L117.13,106.21 L116.55,107.69 L116.22,109.29 L116.23,110.94 L116.57,112.51 L117.1,113.95 L117.71,115.28 L118.29,116.53 L118.84,117.76 L119.37,119.01 L119.91,120.29 L120.49,121.58 L121.08,122.84 L121.61,124.02 L121.98,125.08 L122.15,126 L122.11,126.88 L121.86,127.82 L121.4,128.9 L120.79,130.08 L120.1,131.34 L119.42,132.63 L118.94,133.99 L118.48,135.32 L117.99,136.65 L117.47,137.98 L119.37,139.02 L120.22,137.83 L121.05,136.63 L121.85,135.44 L122.63,134.27 L123.27,133.04 L123.96,131.77 L124.66,130.44 L125.27,128.99 L125.67,127.41 L125.74,125.76 L125.46,124.16 L124.95,122.69 L124.36,121.35 L123.76,120.08 L123.21,118.85 L122.68,117.61 L122.14,116.33 L121.57,115.04 L120.97,113.77 L120.43,112.57 L120.02,111.49 L119.81,110.54 L119.8,109.66 L120,108.74 L120.42,107.69 L121.01,106.53 L121.69,105.28 L122.37,103.99 L123.02,102.71 L123.64,101.45 L124.27,100.22 L124.95,98.97 L125.65,97.67 L126.31,96.26 L126.81,94.73 L127.01,93.1 L126.86,91.47 L126.42,89.95 L125.85,88.56 L125.25,87.27 L124.68,86.03 L124.14,84.79 L123.61,83.53 L123.05,82.24 L122.46,80.96 L121.89,79.73 L121.41,78.59 L121.12,77.59 L121.03,76.7 L121.15,75.81 L121.49,74.81 L122.02,73.69 L122.67,72.47 L123.36,71.2 L124.03,69.91 L124.66,68.64 L125.28,67.4 L125.94,66.16 L126.63,64.88 L127.32,63.52 L127.84,62.03 L128.02,60.42 L127.87,58.99Z" fill="#4bb062"/>
<path d="M142.39,60.51 L142.26,61.6 L141.91,62.52 L141.44,63.55 L140.85,64.71 L140.17,65.96 L139.48,67.24 L138.84,68.53 L138.21,69.78 L137.58,71.02 L136.91,72.27 L136.21,73.57 L135.55,74.97 L135.04,76.5 L134.83,78.14 L134.98,79.77 L135.42,81.29 L135.99,82.68 L136.59,83.97 L137.17,85.21 L137.7,86.44 L138.23,87.71 L138.79,89 L139.38,90.28 L139.96,91.51 L140.43,92.65 L140.72,93.65 L140.81,94.54 L140.7,95.43 L140.37,96.43 L139.83,97.55 L139.18,98.77 L138.49,100.04 L137.83,101.33 L137.2,102.6 L136.57,103.84 L135.92,105.08 L135.22,106.35 L134.53,107.71 L133.95,109.19 L133.62,110.79 L133.63,112.44 L133.97,114.01 L134.5,115.45 L135.11,116.78 L135.69,118.03 L136.24,119.26 L136.77,120.51 L137.31,121.79 L137.89,123.08 L138.48,124.34 L139.01,125.52 L139.38,126.58 L139.55,127.5 L139.51,128.38 L139.26,129.32 L138.8,130.4 L138.19,131.58 L137.5,132.84 L136.82,134.13 L136.34,135.49 L135.88,136.82 L135.39,138.15 L134.87,139.48 L136.77,140.52 L137.62,139.33 L138.45,138.13 L139.25,136.94 L140.03,135.77 L140.67,134.54 L141.36,133.27 L142.06,131.94 L142.67,130.49 L143.07,128.91 L143.14,127.26 L142.86,125.66 L142.35,124.19 L141.76,122.85 L141.16,121.58 L140.61,120.35 L140.08,119.11 L139.54,117.83 L138.97,116.54 L138.37,115.27 L137.83,114.07 L137.42,112.99 L137.21,112.04 L137.2,111.16 L137.4,110.24 L137.82,109.19 L138.41,108.03 L139.09,106.78 L139.77,105.49 L140.42,104.21 L141.04,102.95 L141.67,101.72 L142.35,100.47 L143.05,99.17 L143.71,97.76 L144.21,96.23 L144.41,94.6 L144.26,92.97 L143.82,91.45 L143.25,90.06 L142.65,88.77 L142.08,87.53 L141.54,86.29 L141.01,85.03 L140.45,83.74 L139.86,82.46 L139.29,81.23 L138.81,80.09 L138.52,79.09 L138.43,78.2 L138.55,77.31 L138.89,76.31 L139.42,75.19 L140.07,73.97 L140.76,72.7 L141.43,71.41 L142.06,70.14 L142.68,68.9 L143.34,67.66 L144.03,66.38 L144.72,65.02 L145.24,63.53 L145.42,61.92 L145.27,60.49Z" fill="#4bb062"/>
<path d="M159.89,62.01 L159.76,63.1 L159.41,64.02 L158.94,65.05 L158.35,66.21 L157.67,67.46 L156.98,68.74 L156.34,70.03 L155.71,71.28 L155.08,72.52 L154.41,73.77 L153.71,75.07 L153.05,76.47 L152.54,78 L152.33,79.64 L152.48,81.27 L152.92,82.79 L153.49,84.18 L154.09,85.47 L154.67,86.71 L155.2,87.94 L155.73,89.21 L156.29,90.5 L156.88,91.78 L157.46,93.01 L157.93,94.15 L158.22,95.15 L158.31,96.04 L158.2,96.93 L157.87,97.93 L157.33,99.05 L156.68,100.27 L155.99,101.54 L155.33,102.83 L154.7,104.1 L154.07,105.34 L153.42,106.58 L152.72,107.85 L152.03,109.21 L151.45,110.69 L151.12,112.29 L151.13,113.94 L151.47,115.51 L152,116.95 L152.61,118.28 L153.19,119.53 L153.74,120.76 L154.27,122.01 L154.81,123.29 L155.39,124.58 L155.98,125.84 L156.51,127.02 L156.88,128.08 L157.05,129 L157.01,129.88 L156.76,130.82 L156.3,131.9 L155.69,133.08 L155,134.34 L154.32,135.63 L153.84,136.99 L153.38,138.32 L152.89,139.65 L152.37,140.98 L154.27,142.02 L155.12,140.83 L155.95,139.63 L156.75,138.44 L157.53,137.27 L158.17,136.04 L158.86,134.77 L159.56,133.44 L160.17,131.99 L160.57,130.41 L160.64,128.76 L160.36,127.16 L159.85,125.69 L159.26,124.35 L158.66,123.08 L158.11,121.85 L157.58,120.61 L157.04,119.33 L156.47,118.04 L155.87,116.77 L155.33,115.57 L154.92,114.49 L154.71,113.54 L154.7,112.66 L154.9,111.74 L155.32,110.69 L155.91,109.53 L156.59,108.28 L157.27,106.99 L157.92,105.71 L158.54,104.45 L159.17,103.22 L159.85,101.97 L160.55,100.67 L161.21,99.26 L161.71,97.73 L161.91,96.1 L161.76,94.47 L161.32,92.95 L160.75,91.56 L160.15,90.27 L159.58,89.03 L159.04,87.79 L158.51,86.53 L157.95,85.24 L157.36,83.96 L156.79,82.73 L156.31,81.59 L156.02,80.59 L155.93,79.7 L156.05,78.81 L156.39,77.81 L156.92,76.69 L157.57,75.47 L158.26,74.2 L158.93,72.91 L159.56,71.64 L160.18,70.4 L160.84,69.16 L161.53,67.88 L162.22,66.52 L162.74,65.03 L162.92,63.42 L162.77,61.99Z" fill="#45aa5c"/>
<path d="M177.73,64.02 L177.58,65.09 L177.22,65.96 L176.75,66.97 L176.17,68.12 L175.49,69.36 L174.81,70.65 L174.16,71.94 L173.53,73.19 L172.9,74.42 L172.23,75.67 L171.53,76.98 L170.86,78.4 L170.35,79.96 L170.13,81.63 L170.29,83.3 L170.73,84.85 L171.31,86.26 L171.91,87.56 L172.48,88.79 L173.02,90.02 L173.55,91.29 L174.11,92.58 L174.7,93.86 L175.27,95.09 L175.74,96.21 L176.03,97.19 L176.11,98.04 L176,98.89 L175.68,99.85 L175.16,100.96 L174.5,102.17 L173.81,103.45 L173.15,104.74 L172.52,106.01 L171.89,107.25 L171.24,108.48 L170.54,109.76 L169.85,111.13 L169.26,112.63 L168.92,114.27 L168.93,115.96 L169.28,117.57 L169.82,119.03 L170.42,120.36 L171.01,121.62 L171.56,122.84 L172.08,124.09 L172.63,125.37 L173.21,126.67 L173.8,127.93 L174.32,129.09 L174.68,130.13 L174.85,131.02 L174.81,131.85 L174.58,132.76 L174.12,133.81 L173.51,134.99 L172.82,136.25 L172.15,137.54 L171.68,138.91 L171.24,140.25 L170.77,141.58 L170.27,142.93 L172.38,144.07 L173.25,142.9 L174.09,141.7 L174.91,140.52 L175.7,139.36 L176.35,138.13 L177.04,136.87 L177.74,135.52 L178.36,134.05 L178.77,132.44 L178.84,130.74 L178.55,129.11 L178.04,127.62 L177.44,126.26 L176.85,125 L176.29,123.77 L175.76,122.53 L175.23,121.25 L174.65,119.96 L174.06,118.69 L173.51,117.5 L173.11,116.43 L172.91,115.51 L172.9,114.68 L173.09,113.8 L173.5,112.77 L174.08,111.62 L174.76,110.38 L175.45,109.09 L176.1,107.8 L176.72,106.54 L177.35,105.31 L178.02,104.07 L178.73,102.76 L179.39,101.34 L179.9,99.78 L180.11,98.1 L179.96,96.43 L179.51,94.88 L178.93,93.48 L178.33,92.18 L177.76,90.95 L177.23,89.71 L176.7,88.45 L176.13,87.16 L175.54,85.87 L174.97,84.65 L174.5,83.53 L174.22,82.55 L174.13,81.7 L174.25,80.85 L174.57,79.89 L175.1,78.78 L175.75,77.57 L176.44,76.29 L177.1,75 L177.73,73.73 L178.36,72.49 L179.01,71.26 L179.71,69.98 L180.4,68.61 L180.93,67.08 L181.1,65.44 L180.93,63.98Z" fill="#45aa5c"/>
<path d="M197.73,64.02 L197.58,65.09 L197.22,65.96 L196.75,66.97 L196.17,68.12 L195.49,69.36 L194.81,70.65 L194.16,71.94 L193.53,73.19 L192.9,74.42 L192.23,75.67 L191.53,76.98 L190.86,78.4 L190.35,79.96 L190.13,81.63 L190.29,83.3 L190.73,84.85 L191.31,86.26 L191.91,87.56 L192.48,88.79 L193.02,90.02 L193.55,91.29 L194.11,92.58 L194.7,93.86 L195.27,95.09 L195.74,96.21 L196.03,97.19 L196.11,98.04 L196,98.89 L195.68,99.85 L195.16,100.96 L194.5,102.17 L193.81,103.45 L193.15,104.74 L192.52,106.01 L191.89,107.25 L191.24,108.48 L190.54,109.76 L189.85,111.13 L189.26,112.63 L188.92,114.27 L188.93,115.96 L189.28,117.57 L189.82,119.03 L190.42,120.36 L191.01,121.62 L191.56,122.84 L192.08,124.09 L192.63,125.37 L193.21,126.67 L193.8,127.93 L194.32,129.09 L194.68,130.13 L194.85,131.02 L194.81,131.85 L194.58,132.76 L194.12,133.81 L193.51,134.99 L192.82,136.25 L192.15,137.54 L191.68,138.91 L191.24,140.25 L190.77,141.58 L190.27,142.93 L192.38,144.07 L193.25,142.9 L194.09,141.7 L194.91,140.52 L195.7,139.36 L196.35,138.13 L197.04,136.87 L197.74,135.52 L198.36,134.05 L198.77,132.44 L198.84,130.74 L198.55,129.11 L198.04,127.62 L197.44,126.26 L196.85,125 L196.29,123.77 L195.76,122.53 L195.23,121.25 L194.65,119.96 L194.06,118.69 L193.51,117.5 L193.11,116.43 L192.91,115.51 L192.9,114.68 L193.09,113.8 L193.5,112.77 L194.08,111.62 L194.76,110.38 L195.45,109.09 L196.1,107.8 L196.72,106.54 L197.35,105.31 L198.02,104.07 L198.73,102.76 L199.39,101.34 L199.9,99.78 L200.11,98.1 L199.96,96.43 L199.51,94.88 L198.93,93.48 L198.33,92.18 L197.76,90.95 L197.23,89.71 L196.7,88.45 L196.13,87.16 L195.54,85.87 L194.97,84.65 L194.5,83.53 L194.22,82.55 L194.13,81.7 L194.25,80.85 L194.57,79.89 L195.1,78.78 L195.75,77.57 L196.44,76.29 L197.1,75 L197.73,73.73 L198.36,72.49 L199.01,71.26 L199.71,69.98 L200.4,68.61 L200.93,67.08 L201.1,65.44 L200.93,63.98Z" fill="#45aa5c"/>
<path d="M217.63,65.02 L217.48,66.09 L217.12,66.96 L216.65,67.97 L216.07,69.12 L215.39,70.36 L214.71,71.65 L214.06,72.94 L213.43,74.19 L212.8,75.42 L212.13,76.67 L211.43,77.98 L210.76,79.4 L210.25,80.96 L210.03,82.63 L210.19,84.3 L210.63,85.85 L211.21,87.26 L211.81,88.56 L212.38,89.79 L212.92,91.02 L213.45,92.29 L214.01,93.58 L214.6,94.86 L215.17,96.09 L215.64,97.21 L215.93,98.19 L216.01,99.04 L215.9,99.89 L215.58,100.85 L215.06,101.96 L214.4,103.17 L213.71,104.45 L213.05,105.74 L212.42,107.01 L211.79,108.25 L211.14,109.48 L210.44,110.76 L209.75,112.13 L209.16,113.63 L208.82,115.27 L208.83,116.96 L209.18,118.57 L209.72,120.03 L210.32,121.36 L210.91,122.62 L211.46,123.84 L211.98,125.09 L212.53,126.37 L213.11,127.67 L213.7,128.93 L214.22,130.09 L214.58,131.13 L214.75,132.02 L214.71,132.85 L214.48,133.76 L214.02,134.81 L213.41,135.99 L212.72,137.25 L212.05,138.54 L211.58,139.91 L211.14,141.25 L210.67,142.58 L210.17,143.93 L212.28,145.07 L213.15,143.9 L213.99,142.7 L214.81,141.52 L215.6,140.36 L216.25,139.13 L216.94,137.87 L217.64,136.52 L218.26,135.05 L218.67,133.44 L218.74,131.74 L218.45,130.11 L217.94,128.62 L217.34,127.26 L216.75,126 L216.19,124.77 L215.66,123.53 L215.13,122.25 L214.55,120.96 L213.96,119.69 L213.41,118.5 L213.01,117.43 L212.81,116.51 L212.8,115.68 L212.99,114.8 L213.4,113.77 L213.98,112.62 L214.66,111.38 L215.35,110.09 L216,108.8 L216.62,107.54 L217.25,106.31 L217.92,105.07 L218.63,103.76 L219.29,102.34 L219.8,100.78 L220.01,99.1 L219.86,97.43 L219.41,95.88 L218.83,94.48 L218.23,93.18 L217.66,91.95 L217.13,90.71 L216.6,89.45 L216.03,88.16 L215.44,86.87 L214.87,85.65 L214.4,84.53 L214.12,83.55 L214.03,82.7 L214.15,81.85 L214.47,80.89 L215,79.78 L215.65,78.57 L216.34,77.29 L217,76 L217.63,74.73 L218.26,73.49 L218.91,72.26 L219.61,70.98 L220.3,69.61 L220.83,68.08 L221,66.44 L220.83,64.98Z" fill="#45aa5c"/>
<path d="M237.83,66.32 L237.68,67.39 L237.32,68.26 L236.85,69.27 L236.27,70.42 L235.59,71.66 L234.91,72.95 L234.26,74.24 L233.63,75.49 L233,76.72 L232.33,77.97 L231.63,79.28 L230.96,80.7 L230.45,82.26 L230.23,83.93 L230.39,85.6 L230.83,87.15 L231.41,88.56 L232.01,89.86 L232.58,91.09 L233.12,92.32 L233.65,93.59 L234.21,94.88 L234.8,96.16 L235.37,97.39 L235.84,98.51 L236.13,99.49 L236.21,100.34 L236.1,101.19 L235.78,102.15 L235.26,103.26 L234.6,104.47 L233.91,105.75 L233.25,107.04 L232.62,108.31 L231.99,109.55 L231.34,110.78 L230.64,112.06 L229.95,113.43 L229.36,114.93 L229.02,116.57 L229.03,118.26 L229.38,119.87 L229.92,121.33 L230.52,122.66 L231.11,123.92 L231.66,125.14 L232.18,126.39 L232.73,127.67 L233.31,128.97 L233.9,130.23 L234.42,131.39 L234.78,132.43 L234.95,133.32 L234.91,134.15 L234.68,135.06 L234.22,136.11 L233.61,137.29 L232.92,138.55 L232.25,139.84 L231.78,141.21 L231.34,142.55 L230.87,143.88 L230.37,145.23 L232.48,146.37 L233.35,145.2 L234.19,144 L235.01,142.82 L235.8,141.66 L236.45,140.43 L237.14,139.17 L237.84,137.82 L238.46,136.35 L238.87,134.74 L238.94,133.04 L238.65,131.41 L238.14,129.92 L237.54,128.56 L236.95,127.3 L236.39,126.07 L235.86,124.83 L235.33,123.55 L234.75,122.26 L234.16,120.99 L233.61,119.8 L233.21,118.73 L233.01,117.81 L233,116.98 L233.19,116.1 L233.6,115.07 L234.18,113.92 L234.86,112.68 L235.55,111.39 L236.2,110.1 L236.82,108.84 L237.45,107.61 L238.12,106.37 L238.83,105.06 L239.49,103.64 L240,102.08 L240.21,100.4 L240.06,98.73 L239.61,97.18 L239.03,95.78 L238.43,94.48 L237.86,93.25 L237.33,92.01 L236.8,90.75 L236.23,89.46 L235.64,88.17 L235.07,86.95 L234.6,85.83 L234.32,84.85 L234.23,84 L234.35,83.15 L234.67,82.19 L235.2,81.08 L235.85,79.87 L236.54,78.59 L237.2,77.3 L237.83,76.03 L238.46,74.79 L239.11,73.56 L239.81,72.28 L240.5,70.91 L241.03,69.38 L241.2,67.74 L241.03,66.28Z" fill="#45aa5c"/>
<text x="48.5" y="36.6" font-size="4.1" text-anchor="middle" font-weight="normal" fill="#222">9</text>
<text x="81.5" y="48.4" font-size="4.1" text-anchor="middle" font-weight="normal" fill="#222">3</text>
<text x="44.8" y="54" font-size="4.1" text-anchor="middle" font-weight="normal" fill="#222">11</text>
<text x="63.5" y="58.4" font-size="4.1" text-anchor="middle" font-weight="normal" fill="#222">38</text>
<text x="90.5" y="58.4" font-size="4.1" text-anchor="middle" font-weight="normal" fill="#222">40</text>
<text x="99.5" y="61.9" font-size="4.1" text-anchor="middle" font-weight="normal" fill="#222">228</text>
<text x="119.5" y="58.9" font-size="4.1" text-anchor="middle" font-weight="normal" fill="#222">197</text>
<text x="136" y="58.4" font-size="4.1" text-anchor="middle" font-weight="normal" fill="#222">154</text>
<text x="154" y="62.4" font-size="4.1" text-anchor="middle" font-weight="normal" fill="#222">156</text>
<text x="182.5" y="62.9" font-size="4.1" text-anchor="middle" font-weight="normal" fill="#222">188</text>
<text x="176" y="32.9" font-size="4.1" text-anchor="middle" font-weight="normal" fill="#222">81</text>
<text x="200" y="30.9" font-size="4.1" text-anchor="middle" font-weight="normal" fill="#222">83</text>
<text x="200.7" y="60.4" font-size="4.1" text-anchor="middle" font-weight="normal" fill="#222">89</text>
<text x="192" y="64.7" font-size="4.1" text-anchor="middle" font-weight="normal" fill="#222">80</text>
<text x="212.2" y="63.2" font-size="4.1" text-anchor="middle" font-weight="normal" fill="#222">114</text>
<text x="240.8" y="64.7" font-size="4.1" text-anchor="middle" font-weight="normal" fill="#222">118</text>
<text x="167.8" y="75.9" font-size="4.1" text-anchor="middle" font-weight="normal" fill="#222">72</text>
<text x="92" y="121.9" font-size="4.1" text-anchor="middle" font-weight="normal" fill="#222">56</text>
<text x="40" y="139.9" font-size="4.1" text-anchor="middle" font-weight="normal" fill="#222">23</text>
<text x="64.5" y="142.9" font-size="4.1" text-anchor="middle" font-weight="normal" fill="#222">25</text>
<text x="77.5" y="142.9" font-size="4.1" text-anchor="middle" font-weight="normal" fill="#222">48</text>
<text x="96.5" y="144.9" font-size="4.1" text-anchor="middle" font-weight="normal" fill="#222">215</text>
<text x="112" y="140.4" font-size="4.1" text-anchor="middle" font-weight="normal" fill="#222">210</text>
<text x="130.5" y="144.4" font-size="4.1" text-anchor="middle" font-weight="normal" fill="#222">143</text>
<text x="148.3" y="145.9" font-size="4.1" text-anchor="middle" font-weight="normal" fill="#222">171</text>
<text x="175.8" y="148.6" font-size="4.1" text-anchor="middle" font-weight="normal" fill="#222">175</text>
<text x="186.8" y="146.4" font-size="4.1" text-anchor="middle" font-weight="normal" fill="#222">107</text>
<text x="215" y="148.6" font-size="4.1" text-anchor="middle" font-weight="normal" fill="#222">103</text>
<text x="234.5" y="150.4" font-size="4.1" text-anchor="middle" font-weight="normal" fill="#222">128</text>
<text x="142.4" y="51" font-size="3.5" text-anchor="middle" font-weight="normal" fill="#222">Gln157-Lys158</text>
<text x="161" y="153.8" font-size="3.5" text-anchor="middle" font-weight="normal" fill="#222">Glu172-Asp173</text>
<circle cx="148" cy="55.5" r="2.5" fill="#fff" stroke="#222" stroke-width="0.6"/>
<text x="148" y="56.8" font-size="3.6" text-anchor="middle" font-weight="normal" fill="#333">1</text>
<circle cx="159.8" cy="146" r="2.5" fill="#fff" stroke="#222" stroke-width="0.6"/>
<text x="159.8" y="147.3" font-size="3.6" text-anchor="middle" font-weight="normal" fill="#333">2</text></g>
<g><text x="590.5" y="11.2" font-size="11.5" text-anchor="start" font-weight="bold" fill="#111">c)</text>
<rect x="622.2" y="18.2" width="14.9" height="123.34" fill="#000" stroke="#222" stroke-width="0.6"/>
<rect x="643.4" y="52.3" width="15.3" height="89.24" fill="#a3a6ab" stroke="#222" stroke-width="0.6"/>
<rect x="665" y="39.4" width="15.2" height="102.14" fill="#84878c" stroke="#222" stroke-width="0.6"/>
<line x1="629.6" y1="16.3" x2="629.6" y2="18.2" stroke="#000" stroke-width="0.7"/>
<line x1="627" y1="16.3" x2="632.2" y2="16.3" stroke="#000" stroke-width="0.7"/>
<circle cx="627" cy="16" r="1.05" fill="#000"/>
<circle cx="630" cy="17.2" r="1.05" fill="#000"/>
<circle cx="632.5" cy="17.3" r="1.05" fill="#000"/>
<line x1="651" y1="50.6" x2="651" y2="52.3" stroke="#000" stroke-width="0.7"/>
<line x1="647.6" y1="50.6" x2="654.4" y2="50.6" stroke="#000" stroke-width="0.7"/>
<circle cx="651.3" cy="49.8" r="1.05" fill="#000"/>
<circle cx="648.8" cy="55" r="1.05" fill="#000"/>
<circle cx="653.8" cy="54" r="1.05" fill="#000"/>
<circle cx="668" cy="39.8" r="1.05" fill="#000"/>
<circle cx="673" cy="38.6" r="1.05" fill="#000"/>
<circle cx="677.5" cy="38.9" r="1.05" fill="#000"/>
<line x1="614.9" y1="2.9" x2="614.9" y2="142.24" stroke="#000" stroke-width="1.5"/>
<line x1="614.2" y1="141.54" x2="685" y2="141.54" stroke="#000" stroke-width="1.5"/>
<line x1="611.9" y1="3.5" x2="614.9" y2="3.5" stroke="#000" stroke-width="1"/>
<text x="611.7" y="4.7" font-size="3.4" text-anchor="end" fill="#333">10<tspan dy="-1.3" font-size="2.4">7</tspan></text>
<line x1="612.9" y1="17.28" x2="614.9" y2="17.28" stroke="#000" stroke-width="0.55"/>
<line x1="612.9" y1="13.81" x2="614.9" y2="13.81" stroke="#000" stroke-width="0.55"/>
<line x1="612.9" y1="11.35" x2="614.9" y2="11.35" stroke="#000" stroke-width="0.55"/>
<line x1="612.9" y1="9.44" x2="614.9" y2="9.44" stroke="#000" stroke-width="0.55"/>
<line x1="612.9" y1="7.87" x2="614.9" y2="7.87" stroke="#000" stroke-width="0.55"/>
<line x1="612.9" y1="6.55" x2="614.9" y2="6.55" stroke="#000" stroke-width="0.55"/>
<line x1="612.9" y1="5.41" x2="614.9" y2="5.41" stroke="#000" stroke-width="0.55"/>
<line x1="612.9" y1="4.4" x2="614.9" y2="4.4" stroke="#000" stroke-width="0.55"/>
<line x1="611.9" y1="23.22" x2="614.9" y2="23.22" stroke="#000" stroke-width="1"/>
<text x="611.7" y="24.42" font-size="3.4" text-anchor="end" fill="#333">10<tspan dy="-1.3" font-size="2.4">6</tspan></text>
<line x1="612.9" y1="37" x2="614.9" y2="37" stroke="#000" stroke-width="0.55"/>
<line x1="612.9" y1="33.53" x2="614.9" y2="33.53" stroke="#000" stroke-width="0.55"/>
<line x1="612.9" y1="31.07" x2="614.9" y2="31.07" stroke="#000" stroke-width="0.55"/>
<line x1="612.9" y1="29.16" x2="614.9" y2="29.16" stroke="#000" stroke-width="0.55"/>
<line x1="612.9" y1="27.59" x2="614.9" y2="27.59" stroke="#000" stroke-width="0.55"/>
<line x1="612.9" y1="26.27" x2="614.9" y2="26.27" stroke="#000" stroke-width="0.55"/>
<line x1="612.9" y1="25.13" x2="614.9" y2="25.13" stroke="#000" stroke-width="0.55"/>
<line x1="612.9" y1="24.12" x2="614.9" y2="24.12" stroke="#000" stroke-width="0.55"/>
<line x1="611.9" y1="42.94" x2="614.9" y2="42.94" stroke="#000" stroke-width="1"/>
<text x="611.7" y="44.14" font-size="3.4" text-anchor="end" fill="#333">10<tspan dy="-1.3" font-size="2.4">5</tspan></text>
<line x1="612.9" y1="56.72" x2="614.9" y2="56.72" stroke="#000" stroke-width="0.55"/>
<line x1="612.9" y1="53.25" x2="614.9" y2="53.25" stroke="#000" stroke-width="0.55"/>
<line x1="612.9" y1="50.79" x2="614.9" y2="50.79" stroke="#000" stroke-width="0.55"/>
<line x1="612.9" y1="48.88" x2="614.9" y2="48.88" stroke="#000" stroke-width="0.55"/>
<line x1="612.9" y1="47.31" x2="614.9" y2="47.31" stroke="#000" stroke-width="0.55"/>
<line x1="612.9" y1="45.99" x2="614.9" y2="45.99" stroke="#000" stroke-width="0.55"/>
<line x1="612.9" y1="44.85" x2="614.9" y2="44.85" stroke="#000" stroke-width="0.55"/>
<line x1="612.9" y1="43.84" x2="614.9" y2="43.84" stroke="#000" stroke-width="0.55"/>
<line x1="611.9" y1="62.66" x2="614.9" y2="62.66" stroke="#000" stroke-width="1"/>
<text x="611.7" y="63.86" font-size="3.4" text-anchor="end" fill="#333">10<tspan dy="-1.3" font-size="2.4">4</tspan></text>
<line x1="612.9" y1="76.44" x2="614.9" y2="76.44" stroke="#000" stroke-width="0.55"/>
<line x1="612.9" y1="72.97" x2="614.9" y2="72.97" stroke="#000" stroke-width="0.55"/>
<line x1="612.9" y1="70.51" x2="614.9" y2="70.51" stroke="#000" stroke-width="0.55"/>
<line x1="612.9" y1="68.6" x2="614.9" y2="68.6" stroke="#000" stroke-width="0.55"/>
<line x1="612.9" y1="67.03" x2="614.9" y2="67.03" stroke="#000" stroke-width="0.55"/>
<line x1="612.9" y1="65.71" x2="614.9" y2="65.71" stroke="#000" stroke-width="0.55"/>
<line x1="612.9" y1="64.57" x2="614.9" y2="64.57" stroke="#000" stroke-width="0.55"/>
<line x1="612.9" y1="63.56" x2="614.9" y2="63.56" stroke="#000" stroke-width="0.55"/>
<line x1="611.9" y1="82.38" x2="614.9" y2="82.38" stroke="#000" stroke-width="1"/>
<text x="611.7" y="83.58" font-size="3.4" text-anchor="end" fill="#333">10<tspan dy="-1.3" font-size="2.4">3</tspan></text>
<line x1="612.9" y1="96.16" x2="614.9" y2="96.16" stroke="#000" stroke-width="0.55"/>
<line x1="612.9" y1="92.69" x2="614.9" y2="92.69" stroke="#000" stroke-width="0.55"/>
<line x1="612.9" y1="90.23" x2="614.9" y2="90.23" stroke="#000" stroke-width="0.55"/>
<line x1="612.9" y1="88.32" x2="614.9" y2="88.32" stroke="#000" stroke-width="0.55"/>
<line x1="612.9" y1="86.75" x2="614.9" y2="86.75" stroke="#000" stroke-width="0.55"/>
<line x1="612.9" y1="85.43" x2="614.9" y2="85.43" stroke="#000" stroke-width="0.55"/>
<line x1="612.9" y1="84.29" x2="614.9" y2="84.29" stroke="#000" stroke-width="0.55"/>
<line x1="612.9" y1="83.28" x2="614.9" y2="83.28" stroke="#000" stroke-width="0.55"/>
<line x1="611.9" y1="102.1" x2="614.9" y2="102.1" stroke="#000" stroke-width="1"/>
<text x="611.7" y="103.3" font-size="3.4" text-anchor="end" fill="#333">10<tspan dy="-1.3" font-size="2.4">2</tspan></text>
<line x1="612.9" y1="115.88" x2="614.9" y2="115.88" stroke="#000" stroke-width="0.55"/>
<line x1="612.9" y1="112.41" x2="614.9" y2="112.41" stroke="#000" stroke-width="0.55"/>
<line x1="612.9" y1="109.95" x2="614.9" y2="109.95" stroke="#000" stroke-width="0.55"/>
<line x1="612.9" y1="108.04" x2="614.9" y2="108.04" stroke="#000" stroke-width="0.55"/>
<line x1="612.9" y1="106.47" x2="614.9" y2="106.47" stroke="#000" stroke-width="0.55"/>
<line x1="612.9" y1="105.15" x2="614.9" y2="105.15" stroke="#000" stroke-width="0.55"/>
<line x1="612.9" y1="104.01" x2="614.9" y2="104.01" stroke="#000" stroke-width="0.55"/>
<line x1="612.9" y1="103" x2="614.9" y2="103" stroke="#000" stroke-width="0.55"/>
<line x1="611.9" y1="121.82" x2="614.9" y2="121.82" stroke="#000" stroke-width="1"/>
<text x="611.7" y="123.02" font-size="3.4" text-anchor="end" fill="#333">10<tspan dy="-1.3" font-size="2.4">1</tspan></text>
<line x1="612.9" y1="135.6" x2="614.9" y2="135.6" stroke="#000" stroke-width="0.55"/>
<line x1="612.9" y1="132.13" x2="614.9" y2="132.13" stroke="#000" stroke-width="0.55"/>
<line x1="612.9" y1="129.67" x2="614.9" y2="129.67" stroke="#000" stroke-width="0.55"/>
<line x1="612.9" y1="127.76" x2="614.9" y2="127.76" stroke="#000" stroke-width="0.55"/>
<line x1="612.9" y1="126.19" x2="614.9" y2="126.19" stroke="#000" stroke-width="0.55"/>
<line x1="612.9" y1="124.87" x2="614.9" y2="124.87" stroke="#000" stroke-width="0.55"/>
<line x1="612.9" y1="123.73" x2="614.9" y2="123.73" stroke="#000" stroke-width="0.55"/>
<line x1="612.9" y1="122.72" x2="614.9" y2="122.72" stroke="#000" stroke-width="0.55"/>
<line x1="611.9" y1="141.54" x2="614.9" y2="141.54" stroke="#000" stroke-width="1"/>
<text x="611.7" y="142.74" font-size="3.4" text-anchor="end" fill="#333">10<tspan dy="-1.3" font-size="2.4">0</tspan></text>
<line x1="629.6" y1="141.54" x2="629.6" y2="143.74" stroke="#000" stroke-width="0.8"/>
<line x1="651" y1="141.54" x2="651" y2="143.74" stroke="#000" stroke-width="0.8"/>
<line x1="672.6" y1="141.54" x2="672.6" y2="143.74" stroke="#000" stroke-width="0.8"/>
<text x="602.2" y="74.8" font-size="5.7" text-anchor="middle" font-weight="normal" fill="#111" transform="rotate(-90 602.2 74.8)" stroke="#111" stroke-width="0.1">Fluorescence units</text>
<text x="629.6" y="149.2" font-size="6" text-anchor="middle" font-weight="normal" fill="#222" stroke="#222" stroke-width="0.11">WT</text>
<text x="629.6" y="156.4" font-size="6" text-anchor="middle" font-weight="normal" fill="#222" stroke="#222" stroke-width="0.11">GFP</text>
<text x="650.8" y="147.8" font-size="6" text-anchor="middle" font-weight="normal" fill="#222" stroke="#222" stroke-width="0.11">Site#1</text>
<text x="650.8" y="154.5" font-size="6" text-anchor="middle" font-weight="normal" fill="#222" stroke="#222" stroke-width="0.11">Gln157</text>
<text x="650.8" y="160" font-size="5" text-anchor="middle" font-weight="normal" fill="#222">/</text>
<text x="650.8" y="166.3" font-size="6" text-anchor="middle" font-weight="normal" fill="#222" stroke="#222" stroke-width="0.11">Lys178</text>
<text x="673.2" y="147.8" font-size="6" text-anchor="middle" font-weight="normal" fill="#222" stroke="#222" stroke-width="0.11">Site#2</text>
<text x="673.2" y="154.5" font-size="6" text-anchor="middle" font-weight="normal" fill="#222" stroke="#222" stroke-width="0.11">Glu172</text>
<text x="673.2" y="160" font-size="5" text-anchor="middle" font-weight="normal" fill="#222">/</text>
<text x="673.2" y="166.3" font-size="6" text-anchor="middle" font-weight="normal" fill="#222" stroke="#222" stroke-width="0.11">Asp173</text></g>
<g><text x="18" y="205.5" font-size="11.5" text-anchor="start" font-weight="bold" fill="#111">d)</text>
<text x="204.5" y="196.2" font-size="8.95" text-anchor="middle" font-weight="normal" fill="#222" stroke="#222" stroke-width="0.16">Fluorescence intensity (% vs WT GFP)</text>
<line x1="73.6" y1="211.5" x2="73.6" y2="214.5" stroke="#000" stroke-width="0.9"/>
<text x="73.6" y="209.8" font-size="7" text-anchor="middle" font-weight="normal" fill="#222" stroke="#222" stroke-width="0.13">0</text>
<line x1="125.3" y1="211.5" x2="125.3" y2="214.5" stroke="#000" stroke-width="0.9"/>
<text x="125.3" y="209.8" font-size="7" text-anchor="middle" font-weight="normal" fill="#222" stroke="#222" stroke-width="0.13">25</text>
<line x1="177" y1="211.5" x2="177" y2="214.5" stroke="#000" stroke-width="0.9"/>
<text x="177" y="209.8" font-size="7" text-anchor="middle" font-weight="normal" fill="#222" stroke="#222" stroke-width="0.13">50</text>
<line x1="228.7" y1="211.5" x2="228.7" y2="214.5" stroke="#000" stroke-width="0.9"/>
<text x="228.7" y="209.8" font-size="7" text-anchor="middle" font-weight="normal" fill="#222" stroke="#222" stroke-width="0.13">75</text>
<line x1="280.4" y1="211.5" x2="280.4" y2="214.5" stroke="#000" stroke-width="0.9"/>
<text x="280.4" y="209.8" font-size="7" text-anchor="middle" font-weight="normal" fill="#222" stroke="#222" stroke-width="0.13">100</text>
<line x1="332.1" y1="211.5" x2="332.1" y2="214.5" stroke="#000" stroke-width="0.9"/>
<text x="332.1" y="209.8" font-size="7" text-anchor="middle" font-weight="normal" fill="#222" stroke="#222" stroke-width="0.13">125</text>
<line x1="73.1" y1="214.5" x2="332.6" y2="214.5" stroke="#000" stroke-width="1.1"/>
<text x="67.1" y="227.85" font-size="7.6" text-anchor="end" font-weight="normal" fill="#151515" stroke="#151515" stroke-width="0.14">Utransfected</text>
<line x1="71.3" y1="225.25" x2="73.6" y2="225.25" stroke="#000" stroke-width="0.8"/>
<line x1="74" y1="225.25" x2="77.5" y2="225.25" stroke="#000" stroke-width="0.95"/>
<line x1="77.5" y1="223.15" x2="77.5" y2="227.35" stroke="#000" stroke-width="0.95"/>
<circle cx="76" cy="225.25" r="1.4" fill="#04190b"/>
<circle cx="83.5" cy="225.25" r="1.4" fill="#04190b"/>
<text x="67.1" y="238.07" font-size="7.6" text-anchor="end" font-weight="normal" fill="#151515" stroke="#151515" stroke-width="0.14">WT GFP</text>
<line x1="71.3" y1="235.47" x2="73.6" y2="235.47" stroke="#000" stroke-width="0.8"/>
<rect x="73.6" y="232.42" width="207.15" height="6.1" fill="url(#pwt)" stroke="#0a3a20" stroke-width="0.6"/>
<line x1="280.75" y1="235.47" x2="308.5" y2="235.47" stroke="#000" stroke-width="0.95"/>
<line x1="308.5" y1="233.37" x2="308.5" y2="237.57" stroke="#000" stroke-width="0.95"/>
<circle cx="216.5" cy="235.47" r="1.4" fill="#04190b"/>
<circle cx="223" cy="235.47" r="1.4" fill="#04190b"/>
<circle cx="266" cy="235.47" r="1.4" fill="#04190b"/>
<circle cx="272" cy="235.47" r="1.4" fill="#04190b"/>
<circle cx="305.5" cy="235.47" r="1.4" fill="#04190b"/>
<circle cx="308.5" cy="235.47" r="1.4" fill="#04190b"/>
<text x="67.1" y="248.28" font-size="7.6" text-anchor="end" font-weight="normal" fill="#151515" stroke="#151515" stroke-width="0.14">Ctrl. Common</text>
<line x1="71.3" y1="245.68" x2="73.6" y2="245.68" stroke="#000" stroke-width="0.8"/>
<rect x="73.6" y="242.63" width="89.9" height="6.1" fill="url(#pck)" stroke="#0a3a20" stroke-width="0.6"/>
<line x1="163.5" y1="245.68" x2="174" y2="245.68" stroke="#000" stroke-width="0.95"/>
<line x1="174" y1="243.58" x2="174" y2="247.78" stroke="#000" stroke-width="0.95"/>
<circle cx="174" cy="244.43" r="1.4" fill="#04190b"/>
<circle cx="176" cy="246.93" r="1.4" fill="#04190b"/>
<circle cx="195" cy="245.68" r="1.4" fill="#04190b"/>
<text x="67.1" y="258.5" font-size="7.6" text-anchor="end" font-weight="normal" fill="#151515" stroke="#151515" stroke-width="0.14">Split Aha</text>
<line x1="71.3" y1="255.9" x2="73.6" y2="255.9" stroke="#000" stroke-width="0.8"/>
<rect x="73.6" y="252.85" width="105.4" height="6.1" fill="#1a9d53" stroke="#0a3a20" stroke-width="0.6"/>
<line x1="179" y1="255.9" x2="214" y2="255.9" stroke="#000" stroke-width="0.95"/>
<line x1="214" y1="253.8" x2="214" y2="258" stroke="#000" stroke-width="0.95"/>
<circle cx="104" cy="255.9" r="1.4" fill="#04190b"/>
<circle cx="110" cy="255.9" r="1.4" fill="#04190b"/>
<circle cx="116" cy="255.9" r="1.4" fill="#04190b"/>
<circle cx="212.5" cy="255.9" r="1.4" fill="#04190b"/>
<circle cx="233.5" cy="255.9" r="1.4" fill="#04190b"/>
<circle cx="298.5" cy="255.9" r="1.4" fill="#04190b"/>
<text x="303.5" y="258" font-size="5.75" text-anchor="start" font-weight="normal" fill="#333" stroke="#333" stroke-width="0.1">1.18</text>
<text x="67.1" y="268.72" font-size="7.6" text-anchor="end" font-weight="normal" fill="#151515" stroke="#151515" stroke-width="0.14">Split Aov</text>
<line x1="71.3" y1="266.12" x2="73.6" y2="266.12" stroke="#000" stroke-width="0.8"/>
<rect x="73.6" y="263.07" width="62.9" height="6.1" fill="#4fa97b" stroke="#0a3a20" stroke-width="0.6"/>
<line x1="136.5" y1="266.12" x2="157.5" y2="266.12" stroke="#000" stroke-width="0.95"/>
<line x1="157.5" y1="264.02" x2="157.5" y2="268.22" stroke="#000" stroke-width="0.95"/>
<circle cx="85" cy="266.12" r="1.4" fill="#04190b"/>
<circle cx="91.5" cy="266.12" r="1.4" fill="#04190b"/>
<circle cx="97.5" cy="266.12" r="1.4" fill="#04190b"/>
<circle cx="176" cy="266.12" r="1.4" fill="#04190b"/>
<circle cx="181" cy="266.12" r="1.4" fill="#04190b"/>
<circle cx="186" cy="266.12" r="1.4" fill="#04190b"/>
<text x="194" y="268.22" font-size="5.75" text-anchor="start" font-weight="normal" fill="#333" stroke="#333" stroke-width="0.1">0.71</text>
<text x="67.1" y="278.94" font-size="7.6" text-anchor="end" font-weight="normal" fill="#151515" stroke="#151515" stroke-width="0.14">Split Asp</text>
<line x1="71.3" y1="276.33" x2="73.6" y2="276.33" stroke="#000" stroke-width="0.8"/>
<rect x="73.6" y="273.28" width="60.4" height="6.1" fill="#4fa97b" stroke="#0a3a20" stroke-width="0.6"/>
<line x1="134" y1="276.33" x2="157.5" y2="276.33" stroke="#000" stroke-width="0.95"/>
<line x1="157.5" y1="274.23" x2="157.5" y2="278.44" stroke="#000" stroke-width="0.95"/>
<circle cx="75" cy="276.33" r="1.4" fill="#04190b"/>
<circle cx="87.5" cy="275.08" r="1.4" fill="#04190b"/>
<circle cx="90" cy="277.58" r="1.4" fill="#04190b"/>
<circle cx="181" cy="276.33" r="1.4" fill="#04190b"/>
<circle cx="184" cy="275.08" r="1.4" fill="#04190b"/>
<circle cx="186" cy="277.58" r="1.4" fill="#04190b"/>
<text x="191.5" y="278.44" font-size="5.75" text-anchor="start" font-weight="normal" fill="#333" stroke="#333" stroke-width="0.1">0.68</text>
<text x="67.1" y="289.15" font-size="7.6" text-anchor="end" font-weight="normal" fill="#151515" stroke="#151515" stroke-width="0.14">Split Ava</text>
<line x1="71.3" y1="286.55" x2="73.6" y2="286.55" stroke="#000" stroke-width="0.8"/>
<rect x="73.6" y="283.5" width="33.9" height="6.1" fill="#4fa97b" stroke="#0a3a20" stroke-width="0.6"/>
<line x1="107.5" y1="286.55" x2="120" y2="286.55" stroke="#000" stroke-width="0.95"/>
<line x1="120" y1="284.45" x2="120" y2="288.65" stroke="#000" stroke-width="0.95"/>
<circle cx="85" cy="285.3" r="1.4" fill="#04190b"/>
<circle cx="87.5" cy="287.8" r="1.4" fill="#04190b"/>
<circle cx="95" cy="286.55" r="1.4" fill="#04190b"/>
<circle cx="112.5" cy="286.55" r="1.4" fill="#04190b"/>
<circle cx="164" cy="286.55" r="1.4" fill="#04190b"/>
<text x="171.5" y="288.65" font-size="5.75" text-anchor="start" font-weight="normal" fill="#333" stroke="#333" stroke-width="0.1">0.39</text>
<text x="67.1" y="299.37" font-size="7.6" text-anchor="end" font-weight="normal" fill="#151515" stroke="#151515" stroke-width="0.14">Split Cra</text>
<line x1="71.3" y1="296.77" x2="73.6" y2="296.77" stroke="#000" stroke-width="0.8"/>
<rect x="73.6" y="293.72" width="32.4" height="6.1" fill="#4fa97b" stroke="#0a3a20" stroke-width="0.6"/>
<line x1="106" y1="296.77" x2="117.5" y2="296.77" stroke="#000" stroke-width="0.95"/>
<line x1="117.5" y1="294.67" x2="117.5" y2="298.87" stroke="#000" stroke-width="0.95"/>
<circle cx="82.5" cy="296.77" r="1.4" fill="#04190b"/>
<circle cx="89" cy="296.77" r="1.4" fill="#04190b"/>
<circle cx="125" cy="296.77" r="1.4" fill="#04190b"/>
<circle cx="132.5" cy="295.52" r="1.4" fill="#04190b"/>
<circle cx="134" cy="298.02" r="1.4" fill="#04190b"/>
<text x="139" y="298.87" font-size="5.75" text-anchor="start" font-weight="normal" fill="#333" stroke="#333" stroke-width="0.1">0.37</text>
<text x="67.1" y="309.59" font-size="7.6" text-anchor="end" font-weight="normal" fill="#151515" stroke="#151515" stroke-width="0.14">Split CspCCY</text>
<line x1="71.3" y1="306.99" x2="73.6" y2="306.99" stroke="#000" stroke-width="0.8"/>
<rect x="73.6" y="303.94" width="89.9" height="6.1" fill="#1a9d53" stroke="#0a3a20" stroke-width="0.6"/>
<line x1="163.5" y1="306.99" x2="192.5" y2="306.99" stroke="#000" stroke-width="0.95"/>
<line x1="192.5" y1="304.89" x2="192.5" y2="309.09" stroke="#000" stroke-width="0.95"/>
<circle cx="77.5" cy="306.99" r="1.4" fill="#04190b"/>
<circle cx="105" cy="306.99" r="1.4" fill="#04190b"/>
<circle cx="109" cy="306.99" r="1.4" fill="#04190b"/>
<circle cx="217.5" cy="306.99" r="1.4" fill="#04190b"/>
<circle cx="226" cy="306.99" r="1.4" fill="#04190b"/>
<circle cx="241.5" cy="306.99" r="1.4" fill="#04190b"/>
<text x="247.5" y="309.09" font-size="5.75" text-anchor="start" font-weight="normal" fill="#333" stroke="#333" stroke-width="0.1">1.01</text>
<text x="67.1" y="319.8" font-size="7.6" text-anchor="end" font-weight="normal" fill="#151515" stroke="#151515" stroke-width="0.14">Split Csp7424</text>
<line x1="71.3" y1="317.2" x2="73.6" y2="317.2" stroke="#000" stroke-width="0.8"/>
<rect x="73.6" y="314.15" width="43.9" height="6.1" fill="#4fa97b" stroke="#0a3a20" stroke-width="0.6"/>
<line x1="117.5" y1="317.2" x2="132.5" y2="317.2" stroke="#000" stroke-width="0.95"/>
<line x1="132.5" y1="315.1" x2="132.5" y2="319.3" stroke="#000" stroke-width="0.95"/>
<circle cx="81" cy="317.2" r="1.4" fill="#04190b"/>
<circle cx="97.5" cy="317.2" r="1.4" fill="#04190b"/>
<circle cx="102.5" cy="315.95" r="1.4" fill="#04190b"/>
<circle cx="104" cy="318.45" r="1.4" fill="#04190b"/>
<circle cx="142.5" cy="317.2" r="1.4" fill="#04190b"/>
<circle cx="178.5" cy="317.2" r="1.4" fill="#04190b"/>
<text x="184" y="319.3" font-size="5.75" text-anchor="start" font-weight="normal" fill="#333" stroke="#333" stroke-width="0.1">0.50</text>
<text x="67.1" y="330.02" font-size="7.6" text-anchor="end" font-weight="normal" fill="#151515" stroke="#151515" stroke-width="0.14">Split Csp8801</text>
<line x1="71.3" y1="327.42" x2="73.6" y2="327.42" stroke="#000" stroke-width="0.8"/>
<rect x="73.6" y="324.37" width="6.4" height="6.1" fill="#bcd8cd" stroke="#0a3a20" stroke-width="0.6"/>
<line x1="80" y1="327.42" x2="85" y2="327.42" stroke="#000" stroke-width="0.95"/>
<line x1="85" y1="325.32" x2="85" y2="329.52" stroke="#000" stroke-width="0.95"/>
<circle cx="76" cy="326.17" r="1.4" fill="#04190b"/>
<circle cx="77.5" cy="328.67" r="1.4" fill="#04190b"/>
<circle cx="86" cy="326.17" r="1.4" fill="#04190b"/>
<circle cx="87.5" cy="328.67" r="1.4" fill="#04190b"/>
<circle cx="92.5" cy="327.42" r="1.4" fill="#04190b"/>
<text x="97.5" y="329.52" font-size="5.75" text-anchor="start" font-weight="normal" fill="#333" stroke="#333" stroke-width="0.1">0.09</text>
<text x="67.1" y="340.24" font-size="7.6" text-anchor="end" font-weight="normal" fill="#151515" stroke="#151515" stroke-width="0.14">Split Cwa</text>
<line x1="71.3" y1="337.64" x2="73.6" y2="337.64" stroke="#000" stroke-width="0.8"/>
<rect x="73.6" y="334.59" width="58.9" height="6.1" fill="#4fa97b" stroke="#0a3a20" stroke-width="0.6"/>
<line x1="132.5" y1="337.64" x2="150" y2="337.64" stroke="#000" stroke-width="0.95"/>
<line x1="150" y1="335.54" x2="150" y2="339.74" stroke="#000" stroke-width="0.95"/>
<circle cx="87.5" cy="337.64" r="1.4" fill="#04190b"/>
<circle cx="97.5" cy="337.64" r="1.4" fill="#04190b"/>
<circle cx="156.5" cy="337.64" r="1.4" fill="#04190b"/>
<circle cx="166" cy="337.64" r="1.4" fill="#04190b"/>
<circle cx="185" cy="337.64" r="1.4" fill="#04190b"/>
<text x="191.5" y="339.74" font-size="5.75" text-anchor="start" font-weight="normal" fill="#333" stroke="#333" stroke-width="0.1">0.66</text>
<text x="67.1" y="350.45" font-size="7.6" text-anchor="end" font-weight="normal" fill="#151515" stroke="#151515" stroke-width="0.14">Split Maer</text>
<line x1="71.3" y1="347.85" x2="73.6" y2="347.85" stroke="#000" stroke-width="0.8"/>
<rect x="73.6" y="344.8" width="97.4" height="6.1" fill="#1a9d53" stroke="#0a3a20" stroke-width="0.6"/>
<line x1="171" y1="347.85" x2="202.5" y2="347.85" stroke="#000" stroke-width="0.95"/>
<line x1="202.5" y1="345.75" x2="202.5" y2="349.95" stroke="#000" stroke-width="0.95"/>
<circle cx="95.5" cy="347.85" r="1.4" fill="#04190b"/>
<circle cx="104.5" cy="347.85" r="1.4" fill="#04190b"/>
<circle cx="113.5" cy="347.85" r="1.4" fill="#04190b"/>
<circle cx="207" cy="347.85" r="1.4" fill="#04190b"/>
<circle cx="249" cy="347.85" r="1.4" fill="#04190b"/>
<circle cx="263" cy="347.85" r="1.4" fill="#04190b"/>
<text x="266.5" y="349.95" font-size="5.75" text-anchor="start" font-weight="normal" fill="#333" stroke="#333" stroke-width="0.1">1.10</text>
<text x="67.1" y="360.67" font-size="7.6" text-anchor="end" font-weight="normal" fill="#151515" stroke="#151515" stroke-width="0.14">Split Mcht</text>
<line x1="71.3" y1="358.07" x2="73.6" y2="358.07" stroke="#000" stroke-width="0.8"/>
<rect x="73.6" y="355.02" width="53.9" height="6.1" fill="#4fa97b" stroke="#0a3a20" stroke-width="0.6"/>
<line x1="127.5" y1="358.07" x2="139" y2="358.07" stroke="#000" stroke-width="0.95"/>
<line x1="139" y1="355.97" x2="139" y2="360.17" stroke="#000" stroke-width="0.95"/>
<circle cx="100" cy="358.07" r="1.4" fill="#04190b"/>
<circle cx="105" cy="358.07" r="1.4" fill="#04190b"/>
<circle cx="111" cy="358.07" r="1.4" fill="#04190b"/>
<circle cx="136.5" cy="358.07" r="1.4" fill="#04190b"/>
<circle cx="148.5" cy="358.07" r="1.4" fill="#04190b"/>
<circle cx="154" cy="358.07" r="1.4" fill="#04190b"/>
<circle cx="162.5" cy="358.07" r="1.4" fill="#04190b"/>
<text x="167.5" y="360.17" font-size="5.75" text-anchor="start" font-weight="normal" fill="#333" stroke="#333" stroke-width="0.1">0.61</text>
<text x="67.1" y="370.89" font-size="7.6" text-anchor="end" font-weight="normal" fill="#151515" stroke="#151515" stroke-width="0.14">Split Npu</text>
<line x1="71.3" y1="368.29" x2="73.6" y2="368.29" stroke="#000" stroke-width="0.8"/>
<rect x="73.6" y="365.24" width="75.4" height="6.1" fill="#1a9d53" stroke="#0a3a20" stroke-width="0.6"/>
<line x1="149" y1="368.29" x2="166.5" y2="368.29" stroke="#000" stroke-width="0.95"/>
<line x1="166.5" y1="366.19" x2="166.5" y2="370.39" stroke="#000" stroke-width="0.95"/>
<circle cx="106" cy="368.29" r="1.4" fill="#04190b"/>
<circle cx="115" cy="367.04" r="1.4" fill="#04190b"/>
<circle cx="116.5" cy="369.54" r="1.4" fill="#04190b"/>
<circle cx="184" cy="367.04" r="1.4" fill="#04190b"/>
<circle cx="186" cy="369.54" r="1.4" fill="#04190b"/>
<circle cx="189" cy="368.29" r="1.4" fill="#04190b"/>
<text x="193.5" y="370.39" font-size="5.75" text-anchor="start" font-weight="normal" fill="#333" stroke="#333" stroke-width="0.1">0.85</text>
<text x="67.1" y="381.11" font-size="7.6" text-anchor="end" font-weight="normal" fill="#151515" stroke="#151515" stroke-width="0.14">Split Oli</text>
<line x1="71.3" y1="378.5" x2="73.6" y2="378.5" stroke="#000" stroke-width="0.8"/>
<rect x="73.6" y="375.45" width="82.4" height="6.1" fill="#1a9d53" stroke="#0a3a20" stroke-width="0.6"/>
<line x1="156" y1="378.5" x2="180" y2="378.5" stroke="#000" stroke-width="0.95"/>
<line x1="180" y1="376.4" x2="180" y2="380.61" stroke="#000" stroke-width="0.95"/>
<circle cx="91" cy="378.5" r="1.4" fill="#04190b"/>
<circle cx="103.5" cy="378.5" r="1.4" fill="#04190b"/>
<circle cx="110" cy="378.5" r="1.4" fill="#04190b"/>
<circle cx="206" cy="378.5" r="1.4" fill="#04190b"/>
<circle cx="209" cy="378.5" r="1.4" fill="#04190b"/>
<circle cx="216" cy="378.5" r="1.4" fill="#04190b"/>
<text x="221.5" y="380.61" font-size="5.75" text-anchor="start" font-weight="normal" fill="#333" stroke="#333" stroke-width="0.1">0.92</text>
<text x="67.1" y="391.32" font-size="7.6" text-anchor="end" font-weight="normal" fill="#151515" stroke="#151515" stroke-width="0.14">Split Sel</text>
<line x1="71.3" y1="388.72" x2="73.6" y2="388.72" stroke="#000" stroke-width="0.8"/>
<rect x="73.6" y="385.67" width="100.4" height="6.1" fill="#1a9d53" stroke="#0a3a20" stroke-width="0.6"/>
<line x1="174" y1="388.72" x2="201" y2="388.72" stroke="#000" stroke-width="0.95"/>
<line x1="201" y1="386.62" x2="201" y2="390.82" stroke="#000" stroke-width="0.95"/>
<circle cx="95" cy="388.72" r="1.4" fill="#04190b"/>
<circle cx="127.5" cy="388.72" r="1.4" fill="#04190b"/>
<circle cx="131" cy="388.72" r="1.4" fill="#04190b"/>
<circle cx="215" cy="388.72" r="1.4" fill="#04190b"/>
<circle cx="222.5" cy="388.72" r="1.4" fill="#04190b"/>
<circle cx="255" cy="388.72" r="1.4" fill="#04190b"/>
<text x="260" y="390.82" font-size="5.75" text-anchor="start" font-weight="normal" fill="#333" stroke="#333" stroke-width="0.1">1.12</text>
<text x="67.1" y="401.54" font-size="7.6" text-anchor="end" font-weight="normal" fill="#151515" stroke="#151515" stroke-width="0.14">Split Ssp6803</text>
<line x1="71.3" y1="398.94" x2="73.6" y2="398.94" stroke="#000" stroke-width="0.8"/>
<rect x="73.6" y="395.89" width="18.9" height="6.1" fill="#bcd8cd" stroke="#0a3a20" stroke-width="0.6"/>
<line x1="92.5" y1="398.94" x2="101.5" y2="398.94" stroke="#000" stroke-width="0.95"/>
<line x1="101.5" y1="396.84" x2="101.5" y2="401.04" stroke="#000" stroke-width="0.95"/>
<circle cx="80" cy="398.94" r="1.4" fill="#04190b"/>
<circle cx="86" cy="398.94" r="1.4" fill="#04190b"/>
<circle cx="89" cy="398.94" r="1.4" fill="#04190b"/>
<circle cx="92.5" cy="398.94" r="1.4" fill="#04190b"/>
<circle cx="112.5" cy="398.94" r="1.4" fill="#04190b"/>
<circle cx="120" cy="398.94" r="1.4" fill="#04190b"/>
<text x="126.5" y="401.04" font-size="5.75" text-anchor="start" font-weight="normal" fill="#333" stroke="#333" stroke-width="0.1">0.23</text>
<text x="67.1" y="411.76" font-size="7.6" text-anchor="end" font-weight="normal" fill="#151515" stroke="#151515" stroke-width="0.14">Split Ssp7002</text>
<line x1="71.3" y1="409.16" x2="73.6" y2="409.16" stroke="#000" stroke-width="0.8"/>
<rect x="73.6" y="406.11" width="12.4" height="6.1" fill="#bcd8cd" stroke="#0a3a20" stroke-width="0.6"/>
<line x1="86" y1="409.16" x2="92.5" y2="409.16" stroke="#000" stroke-width="0.95"/>
<line x1="92.5" y1="407.06" x2="92.5" y2="411.26" stroke="#000" stroke-width="0.95"/>
<circle cx="76" cy="409.16" r="1.4" fill="#04190b"/>
<circle cx="80" cy="407.91" r="1.4" fill="#04190b"/>
<circle cx="82.5" cy="410.41" r="1.4" fill="#04190b"/>
<circle cx="84" cy="407.91" r="1.4" fill="#04190b"/>
<circle cx="105" cy="409.16" r="1.4" fill="#04190b"/>
<text x="110" y="411.26" font-size="5.75" text-anchor="start" font-weight="normal" fill="#333" stroke="#333" stroke-width="0.1">0.15</text>
<text x="67.1" y="421.97" font-size="7.6" text-anchor="end" font-weight="normal" fill="#151515" stroke="#151515" stroke-width="0.14">Split Tel</text>
<line x1="71.3" y1="419.37" x2="73.6" y2="419.37" stroke="#000" stroke-width="0.8"/>
<rect x="73.6" y="416.32" width="23.9" height="6.1" fill="#bcd8cd" stroke="#0a3a20" stroke-width="0.6"/>
<line x1="97.5" y1="419.37" x2="111" y2="419.37" stroke="#000" stroke-width="0.95"/>
<line x1="111" y1="417.27" x2="111" y2="421.47" stroke="#000" stroke-width="0.95"/>
<circle cx="77.5" cy="419.37" r="1.4" fill="#04190b"/>
<circle cx="82.5" cy="419.37" r="1.4" fill="#04190b"/>
<circle cx="121.5" cy="419.37" r="1.4" fill="#04190b"/>
<circle cx="125" cy="419.37" r="1.4" fill="#04190b"/>
<text x="131" y="421.47" font-size="5.75" text-anchor="start" font-weight="normal" fill="#333" stroke="#333" stroke-width="0.1">0.27</text>
<text x="67.1" y="432.19" font-size="7.6" text-anchor="end" font-weight="normal" fill="#151515" stroke="#151515" stroke-width="0.14">Split Ter</text>
<line x1="71.3" y1="429.59" x2="73.6" y2="429.59" stroke="#000" stroke-width="0.8"/>
<rect x="73.6" y="426.54" width="68.9" height="6.1" fill="#4fa97b" stroke="#0a3a20" stroke-width="0.6"/>
<line x1="142.5" y1="429.59" x2="169" y2="429.59" stroke="#000" stroke-width="0.95"/>
<line x1="169" y1="427.49" x2="169" y2="431.69" stroke="#000" stroke-width="0.95"/>
<circle cx="79" cy="429.59" r="1.4" fill="#04190b"/>
<circle cx="99" cy="428.34" r="1.4" fill="#04190b"/>
<circle cx="100" cy="430.84" r="1.4" fill="#04190b"/>
<circle cx="167.5" cy="429.59" r="1.4" fill="#04190b"/>
<circle cx="197.5" cy="429.59" r="1.4" fill="#04190b"/>
<circle cx="211" cy="429.59" r="1.4" fill="#04190b"/>
<text x="216" y="431.69" font-size="5.75" text-anchor="start" font-weight="normal" fill="#333" stroke="#333" stroke-width="0.1">0.77</text>
<text x="67.1" y="442.41" font-size="7.6" text-anchor="end" font-weight="normal" fill="#151515" stroke="#151515" stroke-width="0.14">Split Tvu</text>
<line x1="71.3" y1="439.81" x2="73.6" y2="439.81" stroke="#000" stroke-width="0.8"/>
<rect x="73.6" y="436.76" width="19.9" height="6.1" fill="#bcd8cd" stroke="#0a3a20" stroke-width="0.6"/>
<line x1="93.5" y1="439.81" x2="102.5" y2="439.81" stroke="#000" stroke-width="0.95"/>
<line x1="102.5" y1="437.71" x2="102.5" y2="441.91" stroke="#000" stroke-width="0.95"/>
<circle cx="77.5" cy="439.81" r="1.4" fill="#04190b"/>
<circle cx="82.5" cy="439.81" r="1.4" fill="#04190b"/>
<circle cx="102.5" cy="439.81" r="1.4" fill="#04190b"/>
<circle cx="106" cy="439.81" r="1.4" fill="#04190b"/>
<circle cx="109" cy="439.81" r="1.4" fill="#04190b"/>
<circle cx="116" cy="439.81" r="1.4" fill="#04190b"/>
<text x="120" y="441.91" font-size="5.75" text-anchor="start" font-weight="normal" fill="#333" stroke="#333" stroke-width="0.1">0.23</text>
<text x="67.1" y="452.62" font-size="7.6" text-anchor="end" font-weight="normal" fill="#151515" stroke="#151515" stroke-width="0.14">Ctrl. gp41.1</text>
<line x1="71.3" y1="450.02" x2="73.6" y2="450.02" stroke="#000" stroke-width="0.8"/>
<rect x="73.6" y="446.97" width="80.4" height="6.1" fill="url(#pck)" stroke="#0a3a20" stroke-width="0.6"/>
<line x1="154" y1="450.02" x2="170" y2="450.02" stroke="#000" stroke-width="0.95"/>
<line x1="170" y1="447.92" x2="170" y2="452.12" stroke="#000" stroke-width="0.95"/>
<circle cx="169" cy="450.02" r="1.4" fill="#04190b"/>
<circle cx="221.5" cy="450.02" r="1.4" fill="#04190b"/>
<text x="67.1" y="462.84" font-size="7.6" text-anchor="end" font-weight="normal" fill="#151515" stroke="#151515" stroke-width="0.14">Split gp41.1</text>
<line x1="71.3" y1="460.24" x2="73.6" y2="460.24" stroke="#000" stroke-width="0.8"/>
<rect x="73.6" y="457.19" width="51.4" height="6.1" fill="#4fa97b" stroke="#0a3a20" stroke-width="0.6"/>
<line x1="125" y1="460.24" x2="142.5" y2="460.24" stroke="#000" stroke-width="0.95"/>
<line x1="142.5" y1="458.14" x2="142.5" y2="462.34" stroke="#000" stroke-width="0.95"/>
<circle cx="89" cy="460.24" r="1.4" fill="#04190b"/>
<circle cx="97.5" cy="460.24" r="1.4" fill="#04190b"/>
<circle cx="105" cy="460.24" r="1.4" fill="#04190b"/>
<circle cx="135" cy="460.24" r="1.4" fill="#04190b"/>
<circle cx="141.5" cy="460.24" r="1.4" fill="#04190b"/>
<circle cx="146" cy="460.24" r="1.4" fill="#04190b"/>
<circle cx="193.5" cy="460.24" r="1.4" fill="#04190b"/>
<text x="197.5" y="462.34" font-size="5.75" text-anchor="start" font-weight="normal" fill="#333" stroke="#333" stroke-width="0.1">0.65</text>
<text x="67.1" y="473.06" font-size="7.6" text-anchor="end" font-weight="normal" fill="#151515" stroke="#151515" stroke-width="0.14">Ctrl. gp41.8</text>
<line x1="71.3" y1="470.46" x2="73.6" y2="470.46" stroke="#000" stroke-width="0.8"/>
<rect x="73.6" y="467.41" width="12.4" height="6.1" fill="url(#pck)" stroke="#0a3a20" stroke-width="0.6"/>
<line x1="86" y1="470.46" x2="91.5" y2="470.46" stroke="#000" stroke-width="0.95"/>
<line x1="91.5" y1="468.36" x2="91.5" y2="472.56" stroke="#000" stroke-width="0.95"/>
<circle cx="91.5" cy="470.46" r="1.4" fill="#04190b"/>
<circle cx="95" cy="469.21" r="1.4" fill="#04190b"/>
<circle cx="97.5" cy="471.71" r="1.4" fill="#04190b"/>
<text x="67.1" y="483.28" font-size="7.6" text-anchor="end" font-weight="normal" fill="#151515" stroke="#151515" stroke-width="0.14">Split gp41.8</text>
<line x1="71.3" y1="480.68" x2="73.6" y2="480.68" stroke="#000" stroke-width="0.8"/>
<circle cx="75" cy="480.68" r="1.4" fill="#04190b"/>
<text x="67.1" y="493.49" font-size="7.6" text-anchor="end" font-weight="normal" fill="#151515" stroke="#151515" stroke-width="0.14">Ctrl. IMPDH</text>
<line x1="71.3" y1="490.89" x2="73.6" y2="490.89" stroke="#000" stroke-width="0.8"/>
<rect x="73.6" y="487.84" width="62.9" height="6.1" fill="url(#pck)" stroke="#0a3a20" stroke-width="0.6"/>
<line x1="136.5" y1="490.89" x2="150" y2="490.89" stroke="#000" stroke-width="0.95"/>
<line x1="150" y1="488.79" x2="150" y2="492.99" stroke="#000" stroke-width="0.95"/>
<circle cx="164" cy="490.89" r="1.4" fill="#04190b"/>
<circle cx="190" cy="490.89" r="1.4" fill="#04190b"/>
<text x="67.1" y="503.71" font-size="7.6" text-anchor="end" font-weight="normal" fill="#151515" stroke="#151515" stroke-width="0.14">Split IMPDH</text>
<line x1="71.3" y1="501.11" x2="73.6" y2="501.11" stroke="#000" stroke-width="0.8"/>
<rect x="73.6" y="498.06" width="26.4" height="6.1" fill="#bcd8cd" stroke="#0a3a20" stroke-width="0.6"/>
<line x1="100" y1="501.11" x2="110" y2="501.11" stroke="#000" stroke-width="0.95"/>
<line x1="110" y1="499.01" x2="110" y2="503.21" stroke="#000" stroke-width="0.95"/>
<circle cx="77.5" cy="501.11" r="1.4" fill="#04190b"/>
<circle cx="82.5" cy="501.11" r="1.4" fill="#04190b"/>
<circle cx="116.5" cy="501.11" r="1.4" fill="#04190b"/>
<circle cx="120" cy="501.11" r="1.4" fill="#04190b"/>
<circle cx="124" cy="501.11" r="1.4" fill="#04190b"/>
<text x="128.5" y="503.21" font-size="5.75" text-anchor="start" font-weight="normal" fill="#333" stroke="#333" stroke-width="0.1">0.44</text>
<text x="67.1" y="513.93" font-size="7.6" text-anchor="end" font-weight="normal" fill="#151515" stroke="#151515" stroke-width="0.14">Ctrl. Nrdj</text>
<line x1="71.3" y1="511.33" x2="73.6" y2="511.33" stroke="#000" stroke-width="0.8"/>
<rect x="73.6" y="508.28" width="23.9" height="6.1" fill="url(#pck)" stroke="#0a3a20" stroke-width="0.6"/>
<line x1="97.5" y1="511.33" x2="102.5" y2="511.33" stroke="#000" stroke-width="0.95"/>
<line x1="102.5" y1="509.23" x2="102.5" y2="513.43" stroke="#000" stroke-width="0.95"/>
<circle cx="100.5" cy="511.33" r="1.4" fill="#04190b"/>
<circle cx="104" cy="511.33" r="1.4" fill="#04190b"/>
<circle cx="108" cy="510.08" r="1.4" fill="#04190b"/>
<circle cx="109.5" cy="512.58" r="1.4" fill="#04190b"/>
<text x="67.1" y="524.14" font-size="7.6" text-anchor="end" font-weight="normal" fill="#151515" stroke="#151515" stroke-width="0.14">Split Nrdj</text>
<line x1="71.3" y1="521.54" x2="73.6" y2="521.54" stroke="#000" stroke-width="0.8"/>
<rect x="73.6" y="518.49" width="18.9" height="6.1" fill="#bcd8cd" stroke="#0a3a20" stroke-width="0.6"/>
<line x1="92.5" y1="521.54" x2="99" y2="521.54" stroke="#000" stroke-width="0.95"/>
<line x1="99" y1="519.44" x2="99" y2="523.64" stroke="#000" stroke-width="0.95"/>
<circle cx="77.5" cy="520.29" r="1.4" fill="#04190b"/>
<circle cx="80" cy="522.79" r="1.4" fill="#04190b"/>
<circle cx="105" cy="520.29" r="1.4" fill="#04190b"/>
<circle cx="107.5" cy="522.79" r="1.4" fill="#04190b"/>
<circle cx="109" cy="520.29" r="1.4" fill="#04190b"/>
<text x="111" y="523.64" font-size="5.75" text-anchor="start" font-weight="normal" fill="#333" stroke="#333" stroke-width="0.1">0.77</text>
<line x1="73.6" y1="214" x2="73.6" y2="528.5" stroke="#000" stroke-width="1.1"/>
<path d="M19.9,239.6 L14.9,239.6 L14.9,527.6 L19.9,527.6 M14.9,447.4 L19.9,447.4" fill="none" stroke="#000" stroke-width="1.2"/>
<text x="8.7" y="343.3" font-size="10.4" text-anchor="middle" font-weight="normal" fill="#222" transform="rotate(-90 8.7 343.3)" stroke="#222" stroke-width="0.19">1st group</text>
<text x="8.7" y="487.3" font-size="10.4" text-anchor="middle" font-weight="normal" fill="#222" transform="rotate(-90 8.7 487.3)" stroke="#222" stroke-width="0.19">2nd group</text></g>
<g><text x="401.3" y="241.5" font-size="11.5" text-anchor="start" font-weight="bold" fill="#111">e)</text>
<text x="568.4" y="183.8" font-size="10.8" text-anchor="middle" font-weight="normal" fill="#222" stroke="#222" stroke-width="0.19">GFP-Intein C-ter</text>
<line x1="444" y1="189" x2="685" y2="189" stroke="#000" stroke-width="1.45"/>
<text x="522.5" y="201.2" font-size="10.6" text-anchor="middle" font-weight="normal" fill="#222" stroke="#222" stroke-width="0.19">1st group</text>
<text x="645" y="201.2" font-size="10.6" text-anchor="middle" font-weight="normal" fill="#222" stroke="#222" stroke-width="0.19">2nd group</text>
<line x1="444" y1="205" x2="601.3" y2="205" stroke="#000" stroke-width="1.45"/>
<line x1="604.3" y1="205" x2="685" y2="205" stroke="#000" stroke-width="1.45"/>
<path d="M453.15,242.4 V217.53 A4.53,4.53 0 0 1 457.68,213 H458.92 A4.53,4.53 0 0 1 463.45,217.53 V242.4 Z" fill="#5fa87a" stroke="#2d5c40" stroke-width="0.55"/>
<text x="460.24" y="228.5" font-size="5.4" text-anchor="middle" font-weight="normal" fill="#1d3326" transform="rotate(-90 460.24 228.5)">Split GFP</text>
<circle cx="450.55" cy="239.8" r="2.2" fill="#4f9068" stroke="#1d3f2b" stroke-width="0.8"/>
<text x="450.55" y="240.8" font-size="2.8" text-anchor="middle" font-weight="normal" fill="#12281b">D</text>
<text x="447.55" y="238.8" font-size="3.8" text-anchor="middle" font-weight="normal" fill="#111" transform="rotate(-90 447.55 238.8)">173</text>
<circle cx="457.3" cy="256.4" r="2.2" fill="#fff" stroke="#e23a3a" stroke-width="0.75"/>
<text x="457.3" y="257.39" font-size="2.75" text-anchor="middle" font-weight="normal" fill="#e23a3a">C</text>
<text x="461.9" y="256.4" font-size="2.4" text-anchor="middle" font-weight="normal" fill="#333" transform="rotate(-90 461.9 256.4)">+1</text>
<circle cx="457.3" cy="251.35" r="2.2" fill="#fff" stroke="#e23a3a" stroke-width="0.75"/>
<text x="457.3" y="252.34" font-size="2.75" text-anchor="middle" font-weight="normal" fill="#e23a3a">F</text>
<text x="461.9" y="251.35" font-size="2.4" text-anchor="middle" font-weight="normal" fill="#333" transform="rotate(-90 461.9 251.35)">+2</text>
<circle cx="457.3" cy="246.3" r="2.2" fill="#fff" stroke="#e23a3a" stroke-width="0.75"/>
<text x="457.3" y="247.29" font-size="2.75" text-anchor="middle" font-weight="normal" fill="#e23a3a">N</text>
<text x="461.9" y="246.3" font-size="2.4" text-anchor="middle" font-weight="normal" fill="#333" transform="rotate(-90 461.9 246.3)">+3</text>
<path d="M453.35,259.2 H464.05 V280.2 L458.7,287.6 L453.35,280.2 Z" fill="#f1b8b2" stroke="#5a3f3c" stroke-width="0.55"/>
<text x="460.72" y="271.2" font-size="5.6" text-anchor="middle" font-weight="normal" fill="#2a2a2a" transform="rotate(-90 460.72 271.2)" stroke="#2a2a2a" stroke-width="0.1">Aha</text>
<path d="M480.15,242.4 V217.53 A4.53,4.53 0 0 1 484.68,213 H485.92 A4.53,4.53 0 0 1 490.45,217.53 V242.4 Z" fill="#5fa87a" stroke="#2d5c40" stroke-width="0.55"/>
<text x="487.24" y="228.5" font-size="5.4" text-anchor="middle" font-weight="normal" fill="#1d3326" transform="rotate(-90 487.24 228.5)">Split GFP</text>
<circle cx="477.55" cy="239.8" r="2.2" fill="#4f9068" stroke="#1d3f2b" stroke-width="0.8"/>
<text x="477.55" y="240.8" font-size="2.8" text-anchor="middle" font-weight="normal" fill="#12281b">D</text>
<text x="474.55" y="238.8" font-size="3.8" text-anchor="middle" font-weight="normal" fill="#111" transform="rotate(-90 474.55 238.8)">173</text>
<circle cx="484.3" cy="256.4" r="2.2" fill="#fff" stroke="#e23a3a" stroke-width="0.75"/>
<text x="484.3" y="257.39" font-size="2.75" text-anchor="middle" font-weight="normal" fill="#e23a3a">C</text>
<text x="488.9" y="256.4" font-size="2.4" text-anchor="middle" font-weight="normal" fill="#333" transform="rotate(-90 488.9 256.4)">+1</text>
<circle cx="484.3" cy="251.35" r="2.2" fill="#fff" stroke="#e23a3a" stroke-width="0.75"/>
<text x="484.3" y="252.34" font-size="2.75" text-anchor="middle" font-weight="normal" fill="#e23a3a">F</text>
<text x="488.9" y="251.35" font-size="2.4" text-anchor="middle" font-weight="normal" fill="#333" transform="rotate(-90 488.9 251.35)">+2</text>
<circle cx="484.3" cy="246.3" r="2.2" fill="#fff" stroke="#e23a3a" stroke-width="0.75"/>
<text x="484.3" y="247.29" font-size="2.75" text-anchor="middle" font-weight="normal" fill="#e23a3a">N</text>
<text x="488.9" y="246.3" font-size="2.4" text-anchor="middle" font-weight="normal" fill="#333" transform="rotate(-90 488.9 246.3)">+3</text>
<path d="M480.35,259.2 H491.05 V280.2 L485.7,287.6 L480.35,280.2 Z" fill="#f1b8b2" stroke="#5a3f3c" stroke-width="0.55"/>
<text x="487.72" y="271.2" font-size="5.6" text-anchor="middle" font-weight="normal" fill="#2a2a2a" transform="rotate(-90 487.72 271.2)" stroke="#2a2a2a" stroke-width="0.1">Csp CCY</text>
<path d="M506.35,242.4 V217.53 A4.53,4.53 0 0 1 510.88,213 H512.12 A4.53,4.53 0 0 1 516.65,217.53 V242.4 Z" fill="#5fa87a" stroke="#2d5c40" stroke-width="0.55"/>
<text x="513.44" y="228.5" font-size="5.4" text-anchor="middle" font-weight="normal" fill="#1d3326" transform="rotate(-90 513.44 228.5)">Split GFP</text>
<circle cx="503.75" cy="239.8" r="2.2" fill="#4f9068" stroke="#1d3f2b" stroke-width="0.8"/>
<text x="503.75" y="240.8" font-size="2.8" text-anchor="middle" font-weight="normal" fill="#12281b">D</text>
<text x="500.75" y="238.8" font-size="3.8" text-anchor="middle" font-weight="normal" fill="#111" transform="rotate(-90 500.75 238.8)">173</text>
<circle cx="510.5" cy="256.4" r="2.2" fill="#fff" stroke="#e23a3a" stroke-width="0.75"/>
<text x="510.5" y="257.39" font-size="2.75" text-anchor="middle" font-weight="normal" fill="#e23a3a">C</text>
<text x="515.1" y="256.4" font-size="2.4" text-anchor="middle" font-weight="normal" fill="#333" transform="rotate(-90 515.1 256.4)">+1</text>
<circle cx="510.5" cy="251.35" r="2.2" fill="#fff" stroke="#e23a3a" stroke-width="0.75"/>
<text x="510.5" y="252.34" font-size="2.75" text-anchor="middle" font-weight="normal" fill="#e23a3a">F</text>
<text x="515.1" y="251.35" font-size="2.4" text-anchor="middle" font-weight="normal" fill="#333" transform="rotate(-90 515.1 251.35)">+2</text>
<circle cx="510.5" cy="246.3" r="2.2" fill="#fff" stroke="#e23a3a" stroke-width="0.75"/>
<text x="510.5" y="247.29" font-size="2.75" text-anchor="middle" font-weight="normal" fill="#e23a3a">N</text>
<text x="515.1" y="246.3" font-size="2.4" text-anchor="middle" font-weight="normal" fill="#333" transform="rotate(-90 515.1 246.3)">+3</text>
<path d="M506.55,259.2 H517.25 V280.2 L511.9,287.6 L506.55,280.2 Z" fill="#f1b8b2" stroke="#5a3f3c" stroke-width="0.55"/>
<text x="513.92" y="271.2" font-size="5.6" text-anchor="middle" font-weight="normal" fill="#2a2a2a" transform="rotate(-90 513.92 271.2)" stroke="#2a2a2a" stroke-width="0.1">Maer</text>
<path d="M532.85,242.4 V217.53 A4.53,4.53 0 0 1 537.38,213 H538.62 A4.53,4.53 0 0 1 543.15,217.53 V242.4 Z" fill="#5fa87a" stroke="#2d5c40" stroke-width="0.55"/>
<text x="539.94" y="228.5" font-size="5.4" text-anchor="middle" font-weight="normal" fill="#1d3326" transform="rotate(-90 539.94 228.5)">Split GFP</text>
<circle cx="530.25" cy="239.8" r="2.2" fill="#4f9068" stroke="#1d3f2b" stroke-width="0.8"/>
<text x="530.25" y="240.8" font-size="2.8" text-anchor="middle" font-weight="normal" fill="#12281b">D</text>
<text x="527.25" y="238.8" font-size="3.8" text-anchor="middle" font-weight="normal" fill="#111" transform="rotate(-90 527.25 238.8)">173</text>
<circle cx="537" cy="256.4" r="2.2" fill="#fff" stroke="#e23a3a" stroke-width="0.75"/>
<text x="537" y="257.39" font-size="2.75" text-anchor="middle" font-weight="normal" fill="#e23a3a">C</text>
<text x="541.6" y="256.4" font-size="2.4" text-anchor="middle" font-weight="normal" fill="#333" transform="rotate(-90 541.6 256.4)">+1</text>
<circle cx="537" cy="251.35" r="2.2" fill="#fff" stroke="#e23a3a" stroke-width="0.75"/>
<text x="537" y="252.34" font-size="2.75" text-anchor="middle" font-weight="normal" fill="#e23a3a">F</text>
<text x="541.6" y="251.35" font-size="2.4" text-anchor="middle" font-weight="normal" fill="#333" transform="rotate(-90 541.6 251.35)">+2</text>
<circle cx="537" cy="246.3" r="2.2" fill="#fff" stroke="#e23a3a" stroke-width="0.75"/>
<text x="537" y="247.29" font-size="2.75" text-anchor="middle" font-weight="normal" fill="#e23a3a">N</text>
<text x="541.6" y="246.3" font-size="2.4" text-anchor="middle" font-weight="normal" fill="#333" transform="rotate(-90 541.6 246.3)">+3</text>
<path d="M533.05,259.2 H543.75 V280.2 L538.4,287.6 L533.05,280.2 Z" fill="#f1b8b2" stroke="#5a3f3c" stroke-width="0.55"/>
<text x="540.42" y="271.2" font-size="5.6" text-anchor="middle" font-weight="normal" fill="#2a2a2a" transform="rotate(-90 540.42 271.2)" stroke="#2a2a2a" stroke-width="0.1">Npu</text>
<path d="M558.25,242.4 V217.53 A4.53,4.53 0 0 1 562.78,213 H564.02 A4.53,4.53 0 0 1 568.55,217.53 V242.4 Z" fill="#5fa87a" stroke="#2d5c40" stroke-width="0.55"/>
<text x="565.34" y="228.5" font-size="5.4" text-anchor="middle" font-weight="normal" fill="#1d3326" transform="rotate(-90 565.34 228.5)">Split GFP</text>
<circle cx="555.65" cy="239.8" r="2.2" fill="#4f9068" stroke="#1d3f2b" stroke-width="0.8"/>
<text x="555.65" y="240.8" font-size="2.8" text-anchor="middle" font-weight="normal" fill="#12281b">D</text>
<text x="552.65" y="238.8" font-size="3.8" text-anchor="middle" font-weight="normal" fill="#111" transform="rotate(-90 552.65 238.8)">173</text>
<circle cx="562.4" cy="256.4" r="2.2" fill="#fff" stroke="#e23a3a" stroke-width="0.75"/>
<text x="562.4" y="257.39" font-size="2.75" text-anchor="middle" font-weight="normal" fill="#e23a3a">C</text>
<text x="567" y="256.4" font-size="2.4" text-anchor="middle" font-weight="normal" fill="#333" transform="rotate(-90 567 256.4)">+1</text>
<circle cx="562.4" cy="251.35" r="2.2" fill="#fff" stroke="#e23a3a" stroke-width="0.75"/>
<text x="562.4" y="252.34" font-size="2.75" text-anchor="middle" font-weight="normal" fill="#e23a3a">F</text>
<text x="567" y="251.35" font-size="2.4" text-anchor="middle" font-weight="normal" fill="#333" transform="rotate(-90 567 251.35)">+2</text>
<circle cx="562.4" cy="246.3" r="2.2" fill="#fff" stroke="#e23a3a" stroke-width="0.75"/>
<text x="562.4" y="247.29" font-size="2.75" text-anchor="middle" font-weight="normal" fill="#e23a3a">N</text>
<text x="567" y="246.3" font-size="2.4" text-anchor="middle" font-weight="normal" fill="#333" transform="rotate(-90 567 246.3)">+3</text>
<path d="M558.45,259.2 H569.15 V280.2 L563.8,287.6 L558.45,280.2 Z" fill="#f1b8b2" stroke="#5a3f3c" stroke-width="0.55"/>
<text x="565.82" y="271.2" font-size="5.6" text-anchor="middle" font-weight="normal" fill="#2a2a2a" transform="rotate(-90 565.82 271.2)" stroke="#2a2a2a" stroke-width="0.1">Oli</text>
<path d="M585.25,242.4 V217.53 A4.53,4.53 0 0 1 589.78,213 H591.02 A4.53,4.53 0 0 1 595.55,217.53 V242.4 Z" fill="#5fa87a" stroke="#2d5c40" stroke-width="0.55"/>
<text x="592.34" y="228.5" font-size="5.4" text-anchor="middle" font-weight="normal" fill="#1d3326" transform="rotate(-90 592.34 228.5)">Split GFP</text>
<circle cx="582.65" cy="239.8" r="2.2" fill="#4f9068" stroke="#1d3f2b" stroke-width="0.8"/>
<text x="582.65" y="240.8" font-size="2.8" text-anchor="middle" font-weight="normal" fill="#12281b">D</text>
<text x="579.65" y="238.8" font-size="3.8" text-anchor="middle" font-weight="normal" fill="#111" transform="rotate(-90 579.65 238.8)">173</text>
<circle cx="589.4" cy="256.4" r="2.2" fill="#fff" stroke="#e23a3a" stroke-width="0.75"/>
<text x="589.4" y="257.39" font-size="2.75" text-anchor="middle" font-weight="normal" fill="#e23a3a">C</text>
<text x="594" y="256.4" font-size="2.4" text-anchor="middle" font-weight="normal" fill="#333" transform="rotate(-90 594 256.4)">+1</text>
<circle cx="589.4" cy="251.35" r="2.2" fill="#fff" stroke="#e23a3a" stroke-width="0.75"/>
<text x="589.4" y="252.34" font-size="2.75" text-anchor="middle" font-weight="normal" fill="#e23a3a">F</text>
<text x="594" y="251.35" font-size="2.4" text-anchor="middle" font-weight="normal" fill="#333" transform="rotate(-90 594 251.35)">+2</text>
<circle cx="589.4" cy="246.3" r="2.2" fill="#fff" stroke="#e23a3a" stroke-width="0.75"/>
<text x="589.4" y="247.29" font-size="2.75" text-anchor="middle" font-weight="normal" fill="#e23a3a">N</text>
<text x="594" y="246.3" font-size="2.4" text-anchor="middle" font-weight="normal" fill="#333" transform="rotate(-90 594 246.3)">+3</text>
<path d="M585.45,259.2 H596.15 V280.2 L590.8,287.6 L585.45,280.2 Z" fill="#f1b8b2" stroke="#5a3f3c" stroke-width="0.55"/>
<text x="592.82" y="271.2" font-size="5.6" text-anchor="middle" font-weight="normal" fill="#2a2a2a" transform="rotate(-90 592.82 271.2)" stroke="#2a2a2a" stroke-width="0.1">Sel</text>
<path d="M611.85,243.45 V218.58 A4.53,4.53 0 0 1 616.38,214.05 H617.62 A4.53,4.53 0 0 1 622.15,218.58 V243.45 Z" fill="#5fa87a" stroke="#2d5c40" stroke-width="0.55"/>
<text x="618.94" y="229.55" font-size="5.4" text-anchor="middle" font-weight="normal" fill="#1d3326" transform="rotate(-90 618.94 229.55)">Split GFP</text>
<circle cx="609.25" cy="240.85" r="2.2" fill="#4f9068" stroke="#1d3f2b" stroke-width="0.8"/>
<text x="609.25" y="241.85" font-size="2.8" text-anchor="middle" font-weight="normal" fill="#12281b">D</text>
<text x="606.25" y="239.85" font-size="3.8" text-anchor="middle" font-weight="normal" fill="#111" transform="rotate(-90 606.25 239.85)">173</text>
<circle cx="616" cy="257.7" r="2.2" fill="#fff" stroke="#4a5cc0" stroke-width="0.75"/>
<text x="616" y="258.69" font-size="2.75" text-anchor="middle" font-weight="normal" fill="#4a5cc0">C</text>
<text x="620.6" y="257.7" font-size="2.4" text-anchor="middle" font-weight="normal" fill="#333" transform="rotate(-90 620.6 257.7)">+1</text>
<circle cx="616" cy="252.65" r="2.2" fill="#fff" stroke="#4a5cc0" stroke-width="0.75"/>
<text x="616" y="253.64" font-size="2.75" text-anchor="middle" font-weight="normal" fill="#4a5cc0">F</text>
<text x="620.6" y="252.65" font-size="2.4" text-anchor="middle" font-weight="normal" fill="#333" transform="rotate(-90 620.6 252.65)">+2</text>
<circle cx="616" cy="247.6" r="2.2" fill="#fff" stroke="#4a5cc0" stroke-width="0.75"/>
<text x="616" y="248.59" font-size="2.75" text-anchor="middle" font-weight="normal" fill="#4a5cc0">N</text>
<text x="620.6" y="247.6" font-size="2.4" text-anchor="middle" font-weight="normal" fill="#333" transform="rotate(-90 620.6 247.6)">+3</text>
<path d="M612.05,260.5 H622.75 V281.9 H620 V288.4 H614.8 V281.9 H612.05 Z" fill="#82cbdc" stroke="#33596a" stroke-width="0.55"/>
<text x="619.42" y="271.2" font-size="5.6" text-anchor="middle" font-weight="normal" fill="#2a2a2a" transform="rotate(-90 619.42 271.2)" stroke="#2a2a2a" stroke-width="0.1">gp41.1</text>
<path d="M636.45,243.45 V218.58 A4.53,4.53 0 0 1 640.98,214.05 H642.22 A4.53,4.53 0 0 1 646.75,218.58 V243.45 Z" fill="#5fa87a" stroke="#2d5c40" stroke-width="0.55"/>
<text x="643.54" y="229.55" font-size="5.4" text-anchor="middle" font-weight="normal" fill="#1d3326" transform="rotate(-90 643.54 229.55)">Split GFP</text>
<circle cx="633.85" cy="240.85" r="2.2" fill="#4f9068" stroke="#1d3f2b" stroke-width="0.8"/>
<text x="633.85" y="241.85" font-size="2.8" text-anchor="middle" font-weight="normal" fill="#12281b">D</text>
<text x="630.85" y="239.85" font-size="3.8" text-anchor="middle" font-weight="normal" fill="#111" transform="rotate(-90 630.85 239.85)">173</text>
<circle cx="640.6" cy="257.7" r="2.2" fill="#fff" stroke="#9a6a28" stroke-width="0.75"/>
<text x="640.6" y="258.69" font-size="2.75" text-anchor="middle" font-weight="normal" fill="#9a6a28">C</text>
<text x="645.2" y="257.7" font-size="2.4" text-anchor="middle" font-weight="normal" fill="#333" transform="rotate(-90 645.2 257.7)">+1</text>
<circle cx="640.6" cy="252.65" r="2.2" fill="#fff" stroke="#9a6a28" stroke-width="0.75"/>
<text x="640.6" y="253.64" font-size="2.75" text-anchor="middle" font-weight="normal" fill="#9a6a28">F</text>
<text x="645.2" y="252.65" font-size="2.4" text-anchor="middle" font-weight="normal" fill="#333" transform="rotate(-90 645.2 252.65)">+2</text>
<circle cx="640.6" cy="247.6" r="2.2" fill="#fff" stroke="#9a6a28" stroke-width="0.75"/>
<text x="640.6" y="248.59" font-size="2.75" text-anchor="middle" font-weight="normal" fill="#9a6a28">N</text>
<text x="645.2" y="247.6" font-size="2.4" text-anchor="middle" font-weight="normal" fill="#333" transform="rotate(-90 645.2 247.6)">+3</text>
<path d="M636.65,260.5 H647.35 V282.5 H643.8 A3.3,3.3 0 1 1 640.2,282.5 H636.65 Z" fill="#f0bd68" stroke="#5f4a22" stroke-width="0.55"/>
<text x="644.02" y="271.5" font-size="5.6" text-anchor="middle" font-weight="normal" fill="#2a2a2a" transform="rotate(-90 644.02 271.5)" stroke="#2a2a2a" stroke-width="0.1">IMPDH</text>
<path d="M663.45,243.45 V218.58 A4.53,4.53 0 0 1 667.98,214.05 H669.22 A4.53,4.53 0 0 1 673.75,218.58 V243.45 Z" fill="#5fa87a" stroke="#2d5c40" stroke-width="0.55"/>
<text x="670.54" y="229.55" font-size="5.4" text-anchor="middle" font-weight="normal" fill="#1d3326" transform="rotate(-90 670.54 229.55)">Split GFP</text>
<circle cx="660.85" cy="240.85" r="2.2" fill="#4f9068" stroke="#1d3f2b" stroke-width="0.8"/>
<text x="660.85" y="241.85" font-size="2.8" text-anchor="middle" font-weight="normal" fill="#12281b">D</text>
<text x="657.85" y="239.85" font-size="3.8" text-anchor="middle" font-weight="normal" fill="#111" transform="rotate(-90 657.85 239.85)">173</text>
<circle cx="667.6" cy="257.7" r="2.2" fill="#fff" stroke="#7b2fa0" stroke-width="0.75"/>
<text x="667.6" y="258.69" font-size="2.75" text-anchor="middle" font-weight="normal" fill="#7b2fa0">C</text>
<text x="672.2" y="257.7" font-size="2.4" text-anchor="middle" font-weight="normal" fill="#333" transform="rotate(-90 672.2 257.7)">+1</text>
<circle cx="667.6" cy="252.65" r="2.2" fill="#fff" stroke="#7b2fa0" stroke-width="0.75"/>
<text x="667.6" y="253.64" font-size="2.75" text-anchor="middle" font-weight="normal" fill="#7b2fa0">F</text>
<text x="672.2" y="252.65" font-size="2.4" text-anchor="middle" font-weight="normal" fill="#333" transform="rotate(-90 672.2 252.65)">+2</text>
<circle cx="667.6" cy="247.6" r="2.2" fill="#fff" stroke="#7b2fa0" stroke-width="0.75"/>
<text x="667.6" y="248.59" font-size="2.75" text-anchor="middle" font-weight="normal" fill="#7b2fa0">N</text>
<text x="672.2" y="247.6" font-size="2.4" text-anchor="middle" font-weight="normal" fill="#333" transform="rotate(-90 672.2 247.6)">+3</text>
<path d="M663.65,260.5 H674.35 V283.2 L671.67,287.4 L669,282.6 L666.33,287.4 L663.65,283.2 Z" fill="#cbb0d8" stroke="#4d3e5a" stroke-width="0.55"/>
<text x="671.02" y="271.85" font-size="5.6" text-anchor="middle" font-weight="normal" fill="#2a2a2a" transform="rotate(-90 671.02 271.85)" stroke="#2a2a2a" stroke-width="0.1">Nrdj-1</text>
<path d="M395.7,298.2 H374.1 A5.2,5.2 0 0 0 374.1,308.6 H395.7 Z" fill="#5fa87a" stroke="#2d5c40" stroke-width="0.55"/>
<text x="383.1" y="305.23" font-size="5.07" text-anchor="middle" font-weight="normal" fill="#1d3326">Split GFP</text>
<circle cx="393.8" cy="295.6" r="2.2" fill="#4f9068" stroke="#1d3f2b" stroke-width="0.8"/>
<text x="393.8" y="296.6" font-size="2.8" text-anchor="middle" font-weight="normal" fill="#12281b">E</text>
<text x="394.1" y="292.9" font-size="4.2" text-anchor="middle" font-weight="normal" fill="#111">172</text>
<circle cx="408.9" cy="303.4" r="2.3" fill="#fff" stroke="#e23a3a" stroke-width="0.75"/>
<text x="408.9" y="304.44" font-size="2.88" text-anchor="middle" font-weight="normal" fill="#e23a3a">Y</text>
<text x="408.9" y="308.8" font-size="2.4" text-anchor="middle" font-weight="normal" fill="#333">-1</text>
<circle cx="403.85" cy="303.4" r="2.3" fill="#fff" stroke="#e23a3a" stroke-width="0.75"/>
<text x="403.85" y="304.44" font-size="2.88" text-anchor="middle" font-weight="normal" fill="#e23a3a">E</text>
<text x="403.85" y="308.8" font-size="2.4" text-anchor="middle" font-weight="normal" fill="#333">-2</text>
<circle cx="398.8" cy="303.4" r="2.3" fill="#fff" stroke="#e23a3a" stroke-width="0.75"/>
<text x="398.8" y="304.44" font-size="2.88" text-anchor="middle" font-weight="normal" fill="#e23a3a">A</text>
<text x="398.8" y="308.8" font-size="2.4" text-anchor="middle" font-weight="normal" fill="#333">-3</text>
<path d="M411.5,298.2 H440.9 L434.9,303.4 L440.9,308.6 H411.5 Z" fill="#f1b8b2" stroke="#5a3f3c" stroke-width="0.55"/>
<text x="424.25" y="305.16" font-size="4.9" text-anchor="middle" font-weight="normal" fill="#2a2a2a">Aha</text>
<path d="M395.7,322 H374.1 A5.2,5.2 0 0 0 374.1,332.4 H395.7 Z" fill="#5fa87a" stroke="#2d5c40" stroke-width="0.55"/>
<text x="383.1" y="329.03" font-size="5.07" text-anchor="middle" font-weight="normal" fill="#1d3326">Split GFP</text>
<circle cx="393.8" cy="319.4" r="2.2" fill="#4f9068" stroke="#1d3f2b" stroke-width="0.8"/>
<text x="393.8" y="320.4" font-size="2.8" text-anchor="middle" font-weight="normal" fill="#12281b">E</text>
<text x="394.1" y="316.7" font-size="4.2" text-anchor="middle" font-weight="normal" fill="#111">172</text>
<circle cx="408.9" cy="327.2" r="2.3" fill="#fff" stroke="#e23a3a" stroke-width="0.75"/>
<text x="408.9" y="328.24" font-size="2.88" text-anchor="middle" font-weight="normal" fill="#e23a3a">Y</text>
<text x="408.9" y="332.6" font-size="2.4" text-anchor="middle" font-weight="normal" fill="#333">-1</text>
<circle cx="403.85" cy="327.2" r="2.3" fill="#fff" stroke="#e23a3a" stroke-width="0.75"/>
<text x="403.85" y="328.24" font-size="2.88" text-anchor="middle" font-weight="normal" fill="#e23a3a">E</text>
<text x="403.85" y="332.6" font-size="2.4" text-anchor="middle" font-weight="normal" fill="#333">-2</text>
<circle cx="398.8" cy="327.2" r="2.3" fill="#fff" stroke="#e23a3a" stroke-width="0.75"/>
<text x="398.8" y="328.24" font-size="2.88" text-anchor="middle" font-weight="normal" fill="#e23a3a">A</text>
<text x="398.8" y="332.6" font-size="2.4" text-anchor="middle" font-weight="normal" fill="#333">-3</text>
<path d="M411.5,322 H440.9 L434.9,327.2 L440.9,332.4 H411.5 Z" fill="#f1b8b2" stroke="#5a3f3c" stroke-width="0.55"/>
<text x="424.25" y="328.96" font-size="4.9" text-anchor="middle" font-weight="normal" fill="#2a2a2a">Csp CCY</text>
<path d="M395.7,345.8 H374.1 A5.2,5.2 0 0 0 374.1,356.2 H395.7 Z" fill="#5fa87a" stroke="#2d5c40" stroke-width="0.55"/>
<text x="383.1" y="352.83" font-size="5.07" text-anchor="middle" font-weight="normal" fill="#1d3326">Split GFP</text>
<circle cx="393.8" cy="343.2" r="2.2" fill="#4f9068" stroke="#1d3f2b" stroke-width="0.8"/>
<text x="393.8" y="344.2" font-size="2.8" text-anchor="middle" font-weight="normal" fill="#12281b">E</text>
<text x="394.1" y="340.5" font-size="4.2" text-anchor="middle" font-weight="normal" fill="#111">172</text>
<circle cx="408.9" cy="351" r="2.3" fill="#fff" stroke="#e23a3a" stroke-width="0.75"/>
<text x="408.9" y="352.04" font-size="2.88" text-anchor="middle" font-weight="normal" fill="#e23a3a">Y</text>
<text x="408.9" y="356.4" font-size="2.4" text-anchor="middle" font-weight="normal" fill="#333">-1</text>
<circle cx="403.85" cy="351" r="2.3" fill="#fff" stroke="#e23a3a" stroke-width="0.75"/>
<text x="403.85" y="352.04" font-size="2.88" text-anchor="middle" font-weight="normal" fill="#e23a3a">E</text>
<text x="403.85" y="356.4" font-size="2.4" text-anchor="middle" font-weight="normal" fill="#333">-2</text>
<circle cx="398.8" cy="351" r="2.3" fill="#fff" stroke="#e23a3a" stroke-width="0.75"/>
<text x="398.8" y="352.04" font-size="2.88" text-anchor="middle" font-weight="normal" fill="#e23a3a">A</text>
<text x="398.8" y="356.4" font-size="2.4" text-anchor="middle" font-weight="normal" fill="#333">-3</text>
<path d="M411.5,345.8 H440.9 L434.9,351 L440.9,356.2 H411.5 Z" fill="#f1b8b2" stroke="#5a3f3c" stroke-width="0.55"/>
<text x="424.25" y="352.76" font-size="4.9" text-anchor="middle" font-weight="normal" fill="#2a2a2a">Maer</text>
<path d="M395.7,369.6 H374.1 A5.2,5.2 0 0 0 374.1,380 H395.7 Z" fill="#5fa87a" stroke="#2d5c40" stroke-width="0.55"/>
<text x="383.1" y="376.63" font-size="5.07" text-anchor="middle" font-weight="normal" fill="#1d3326">Split GFP</text>
<circle cx="393.8" cy="367" r="2.2" fill="#4f9068" stroke="#1d3f2b" stroke-width="0.8"/>
<text x="393.8" y="368" font-size="2.8" text-anchor="middle" font-weight="normal" fill="#12281b">E</text>
<text x="394.1" y="364.3" font-size="4.2" text-anchor="middle" font-weight="normal" fill="#111">172</text>
<circle cx="408.9" cy="374.8" r="2.3" fill="#fff" stroke="#e23a3a" stroke-width="0.75"/>
<text x="408.9" y="375.83" font-size="2.88" text-anchor="middle" font-weight="normal" fill="#e23a3a">Y</text>
<text x="408.9" y="380.2" font-size="2.4" text-anchor="middle" font-weight="normal" fill="#333">-1</text>
<circle cx="403.85" cy="374.8" r="2.3" fill="#fff" stroke="#e23a3a" stroke-width="0.75"/>
<text x="403.85" y="375.83" font-size="2.88" text-anchor="middle" font-weight="normal" fill="#e23a3a">E</text>
<text x="403.85" y="380.2" font-size="2.4" text-anchor="middle" font-weight="normal" fill="#333">-2</text>
<circle cx="398.8" cy="374.8" r="2.3" fill="#fff" stroke="#e23a3a" stroke-width="0.75"/>
<text x="398.8" y="375.83" font-size="2.88" text-anchor="middle" font-weight="normal" fill="#e23a3a">A</text>
<text x="398.8" y="380.2" font-size="2.4" text-anchor="middle" font-weight="normal" fill="#333">-3</text>
<path d="M411.5,369.6 H440.9 L434.9,374.8 L440.9,380 H411.5 Z" fill="#f1b8b2" stroke="#5a3f3c" stroke-width="0.55"/>
<text x="424.25" y="376.56" font-size="4.9" text-anchor="middle" font-weight="normal" fill="#2a2a2a">Npu</text>
<path d="M395.7,393.4 H374.1 A5.2,5.2 0 0 0 374.1,403.8 H395.7 Z" fill="#5fa87a" stroke="#2d5c40" stroke-width="0.55"/>
<text x="383.1" y="400.43" font-size="5.07" text-anchor="middle" font-weight="normal" fill="#1d3326">Split GFP</text>
<circle cx="393.8" cy="390.8" r="2.2" fill="#4f9068" stroke="#1d3f2b" stroke-width="0.8"/>
<text x="393.8" y="391.8" font-size="2.8" text-anchor="middle" font-weight="normal" fill="#12281b">E</text>
<text x="394.1" y="388.1" font-size="4.2" text-anchor="middle" font-weight="normal" fill="#111">172</text>
<circle cx="408.9" cy="398.6" r="2.3" fill="#fff" stroke="#e23a3a" stroke-width="0.75"/>
<text x="408.9" y="399.63" font-size="2.88" text-anchor="middle" font-weight="normal" fill="#e23a3a">Y</text>
<text x="408.9" y="404" font-size="2.4" text-anchor="middle" font-weight="normal" fill="#333">-1</text>
<circle cx="403.85" cy="398.6" r="2.3" fill="#fff" stroke="#e23a3a" stroke-width="0.75"/>
<text x="403.85" y="399.63" font-size="2.88" text-anchor="middle" font-weight="normal" fill="#e23a3a">E</text>
<text x="403.85" y="404" font-size="2.4" text-anchor="middle" font-weight="normal" fill="#333">-2</text>
<circle cx="398.8" cy="398.6" r="2.3" fill="#fff" stroke="#e23a3a" stroke-width="0.75"/>
<text x="398.8" y="399.63" font-size="2.88" text-anchor="middle" font-weight="normal" fill="#e23a3a">A</text>
<text x="398.8" y="404" font-size="2.4" text-anchor="middle" font-weight="normal" fill="#333">-3</text>
<path d="M411.5,393.4 H440.9 L434.9,398.6 L440.9,403.8 H411.5 Z" fill="#f1b8b2" stroke="#5a3f3c" stroke-width="0.55"/>
<text x="424.25" y="400.36" font-size="4.9" text-anchor="middle" font-weight="normal" fill="#2a2a2a">Oli</text>
<path d="M395.7,417.2 H374.1 A5.2,5.2 0 0 0 374.1,427.6 H395.7 Z" fill="#5fa87a" stroke="#2d5c40" stroke-width="0.55"/>
<text x="383.1" y="424.23" font-size="5.07" text-anchor="middle" font-weight="normal" fill="#1d3326">Split GFP</text>
<circle cx="393.8" cy="414.6" r="2.2" fill="#4f9068" stroke="#1d3f2b" stroke-width="0.8"/>
<text x="393.8" y="415.6" font-size="2.8" text-anchor="middle" font-weight="normal" fill="#12281b">E</text>
<text x="394.1" y="411.9" font-size="4.2" text-anchor="middle" font-weight="normal" fill="#111">172</text>
<circle cx="408.9" cy="422.4" r="2.3" fill="#fff" stroke="#e23a3a" stroke-width="0.75"/>
<text x="408.9" y="423.44" font-size="2.88" text-anchor="middle" font-weight="normal" fill="#e23a3a">Y</text>
<text x="408.9" y="427.8" font-size="2.4" text-anchor="middle" font-weight="normal" fill="#333">-1</text>
<circle cx="403.85" cy="422.4" r="2.3" fill="#fff" stroke="#e23a3a" stroke-width="0.75"/>
<text x="403.85" y="423.44" font-size="2.88" text-anchor="middle" font-weight="normal" fill="#e23a3a">E</text>
<text x="403.85" y="427.8" font-size="2.4" text-anchor="middle" font-weight="normal" fill="#333">-2</text>
<circle cx="398.8" cy="422.4" r="2.3" fill="#fff" stroke="#e23a3a" stroke-width="0.75"/>
<text x="398.8" y="423.44" font-size="2.88" text-anchor="middle" font-weight="normal" fill="#e23a3a">A</text>
<text x="398.8" y="427.8" font-size="2.4" text-anchor="middle" font-weight="normal" fill="#333">-3</text>
<path d="M411.5,417.2 H440.9 L434.9,422.4 L440.9,427.6 H411.5 Z" fill="#f1b8b2" stroke="#5a3f3c" stroke-width="0.55"/>
<text x="424.25" y="424.16" font-size="4.9" text-anchor="middle" font-weight="normal" fill="#2a2a2a">Sel</text>
<path d="M395.7,439.1 H374.1 A5.2,5.2 0 0 0 374.1,449.5 H395.7 Z" fill="#5fa87a" stroke="#2d5c40" stroke-width="0.55"/>
<text x="383.1" y="446.13" font-size="5.07" text-anchor="middle" font-weight="normal" fill="#1d3326">Split GFP</text>
<circle cx="393.8" cy="436.5" r="2.2" fill="#4f9068" stroke="#1d3f2b" stroke-width="0.8"/>
<text x="393.8" y="437.5" font-size="2.8" text-anchor="middle" font-weight="normal" fill="#12281b">E</text>
<text x="394.1" y="433.8" font-size="4.2" text-anchor="middle" font-weight="normal" fill="#111">172</text>
<circle cx="408.9" cy="444.3" r="2.3" fill="#fff" stroke="#4a5cc0" stroke-width="0.75"/>
<text x="408.9" y="445.34" font-size="2.88" text-anchor="middle" font-weight="normal" fill="#4a5cc0">Y</text>
<text x="408.9" y="449.7" font-size="2.4" text-anchor="middle" font-weight="normal" fill="#333">-1</text>
<circle cx="403.85" cy="444.3" r="2.3" fill="#fff" stroke="#4a5cc0" stroke-width="0.75"/>
<text x="403.85" y="445.34" font-size="2.88" text-anchor="middle" font-weight="normal" fill="#4a5cc0">E</text>
<text x="403.85" y="449.7" font-size="2.4" text-anchor="middle" font-weight="normal" fill="#333">-2</text>
<circle cx="398.8" cy="444.3" r="2.3" fill="#fff" stroke="#4a5cc0" stroke-width="0.75"/>
<text x="398.8" y="445.34" font-size="2.88" text-anchor="middle" font-weight="normal" fill="#4a5cc0">A</text>
<text x="398.8" y="449.7" font-size="2.4" text-anchor="middle" font-weight="normal" fill="#333">-3</text>
<path d="M411.5,439.1 H440.4 V442.3 H433.6 V446.3 H440.4 V449.5 H411.5 Z" fill="#82cbdc" stroke="#33596a" stroke-width="0.55"/>
<text x="422.57" y="446.06" font-size="4.9" text-anchor="middle" font-weight="normal" fill="#2a2a2a">gp41.1</text>
<path d="M395.7,461 H374.1 A5.2,5.2 0 0 0 374.1,471.4 H395.7 Z" fill="#5fa87a" stroke="#2d5c40" stroke-width="0.55"/>
<text x="383.1" y="468.03" font-size="5.07" text-anchor="middle" font-weight="normal" fill="#1d3326">Split GFP</text>
<circle cx="393.8" cy="458.4" r="2.2" fill="#4f9068" stroke="#1d3f2b" stroke-width="0.8"/>
<text x="393.8" y="459.4" font-size="2.8" text-anchor="middle" font-weight="normal" fill="#12281b">E</text>
<text x="394.1" y="455.7" font-size="4.2" text-anchor="middle" font-weight="normal" fill="#111">172</text>
<circle cx="408.9" cy="466.2" r="2.3" fill="#fff" stroke="#9a6a28" stroke-width="0.75"/>
<text x="408.9" y="467.24" font-size="2.88" text-anchor="middle" font-weight="normal" fill="#9a6a28">Y</text>
<text x="408.9" y="471.6" font-size="2.4" text-anchor="middle" font-weight="normal" fill="#333">-1</text>
<circle cx="403.85" cy="466.2" r="2.3" fill="#fff" stroke="#9a6a28" stroke-width="0.75"/>
<text x="403.85" y="467.24" font-size="2.88" text-anchor="middle" font-weight="normal" fill="#9a6a28">E</text>
<text x="403.85" y="471.6" font-size="2.4" text-anchor="middle" font-weight="normal" fill="#333">-2</text>
<circle cx="398.8" cy="466.2" r="2.3" fill="#fff" stroke="#9a6a28" stroke-width="0.75"/>
<text x="398.8" y="467.24" font-size="2.88" text-anchor="middle" font-weight="normal" fill="#9a6a28">A</text>
<text x="398.8" y="471.6" font-size="2.4" text-anchor="middle" font-weight="normal" fill="#333">-3</text>
<path d="M411.5,461 H439.6 V464.2 A3.1,3.1 0 1 0 439.6,468.2 V471.4 H411.5 Z" fill="#f0bd68" stroke="#5f4a22" stroke-width="0.55"/>
<text x="422.4" y="467.96" font-size="4.9" text-anchor="middle" font-weight="normal" fill="#2a2a2a">IMPDH</text>
<path d="M395.7,482.9 H374.1 A5.2,5.2 0 0 0 374.1,493.3 H395.7 Z" fill="#5fa87a" stroke="#2d5c40" stroke-width="0.55"/>
<text x="383.1" y="489.93" font-size="5.07" text-anchor="middle" font-weight="normal" fill="#1d3326">Split GFP</text>
<circle cx="393.8" cy="480.3" r="2.2" fill="#4f9068" stroke="#1d3f2b" stroke-width="0.8"/>
<text x="393.8" y="481.3" font-size="2.8" text-anchor="middle" font-weight="normal" fill="#12281b">E</text>
<text x="394.1" y="477.6" font-size="4.2" text-anchor="middle" font-weight="normal" fill="#111">172</text>
<circle cx="408.9" cy="488.1" r="2.3" fill="#fff" stroke="#7b2fa0" stroke-width="0.75"/>
<text x="408.9" y="489.14" font-size="2.88" text-anchor="middle" font-weight="normal" fill="#7b2fa0">Y</text>
<text x="408.9" y="493.5" font-size="2.4" text-anchor="middle" font-weight="normal" fill="#333">-1</text>
<circle cx="403.85" cy="488.1" r="2.3" fill="#fff" stroke="#7b2fa0" stroke-width="0.75"/>
<text x="403.85" y="489.14" font-size="2.88" text-anchor="middle" font-weight="normal" fill="#7b2fa0">E</text>
<text x="403.85" y="493.5" font-size="2.4" text-anchor="middle" font-weight="normal" fill="#333">-2</text>
<circle cx="398.8" cy="488.1" r="2.3" fill="#fff" stroke="#7b2fa0" stroke-width="0.75"/>
<text x="398.8" y="489.14" font-size="2.88" text-anchor="middle" font-weight="normal" fill="#7b2fa0">A</text>
<text x="398.8" y="493.5" font-size="2.4" text-anchor="middle" font-weight="normal" fill="#333">-3</text>
<path d="M411.5,482.9 H437 L432.8,485.5 L436.4,488.1 L432.8,490.7 L437,493.3 H411.5 Z" fill="#cbb0d8" stroke="#4d3e5a" stroke-width="0.55"/>
<text x="421.7" y="489.86" font-size="4.9" text-anchor="middle" font-weight="normal" fill="#2a2a2a">Nrdj-1</text>
<rect x="444.5" y="293.6" width="26.41" height="23" fill="#93baa4"/>
<rect x="470.81" y="293.6" width="26.41" height="23" fill="#98bba8"/>
<rect x="497.12" y="293.6" width="26.41" height="23" fill="#9ebcad"/>
<rect x="523.43" y="293.6" width="26.41" height="23" fill="#bdc0c4"/>
<rect x="549.74" y="293.6" width="26.41" height="23" fill="#b6bfbe"/>
<rect x="576.06" y="293.6" width="26.41" height="23" fill="#a9bdb5"/>
<rect x="602.37" y="293.6" width="26.41" height="23" fill="#bdc0c4"/>
<rect x="628.68" y="293.6" width="26.41" height="23" fill="#bdc0c4"/>
<rect x="654.99" y="293.6" width="26.41" height="23" fill="#bdc0c4"/>
<rect x="444.5" y="316.5" width="26.41" height="23" fill="#b6bfbe"/>
<rect x="470.81" y="316.5" width="26.41" height="23" fill="#a3bcb1"/>
<rect x="497.12" y="316.5" width="26.41" height="23" fill="#a9bdb5"/>
<rect x="523.43" y="316.5" width="26.41" height="23" fill="#a0bcae"/>
<rect x="549.74" y="316.5" width="26.41" height="23" fill="#9ebcad"/>
<rect x="576.06" y="316.5" width="26.41" height="23" fill="#a2bcaf"/>
<rect x="602.37" y="316.5" width="26.41" height="23" fill="#bdc0c4"/>
<rect x="628.68" y="316.5" width="26.41" height="23" fill="#bdc0c4"/>
<rect x="654.99" y="316.5" width="26.41" height="23" fill="#bdc0c4"/>
<rect x="444.5" y="339.4" width="26.41" height="23.1" fill="#a7bdb3"/>
<rect x="470.81" y="339.4" width="26.41" height="23.1" fill="#91baa3"/>
<rect x="497.12" y="339.4" width="26.41" height="23.1" fill="#a3bcb1"/>
<rect x="523.43" y="339.4" width="26.41" height="23.1" fill="#bbc0c3"/>
<rect x="549.74" y="339.4" width="26.41" height="23.1" fill="#bbc0c3"/>
<rect x="576.06" y="339.4" width="26.41" height="23.1" fill="#b6bfbe"/>
<rect x="602.37" y="339.4" width="26.41" height="23.1" fill="#bdc0c4"/>
<rect x="628.68" y="339.4" width="26.41" height="23.1" fill="#bdc0c4"/>
<rect x="654.99" y="339.4" width="26.41" height="23.1" fill="#bdc0c4"/>
<rect x="444.5" y="362.4" width="26.41" height="22.9" fill="#a7bdb3"/>
<rect x="470.81" y="362.4" width="26.41" height="22.9" fill="#a5bdb2"/>
<rect x="497.12" y="362.4" width="26.41" height="22.9" fill="#a3bcb1"/>
<rect x="523.43" y="362.4" width="26.41" height="22.9" fill="#a3bcb1"/>
<rect x="549.74" y="362.4" width="26.41" height="22.9" fill="#a9bdb5"/>
<rect x="576.06" y="362.4" width="26.41" height="22.9" fill="#b0beba"/>
<rect x="602.37" y="362.4" width="26.41" height="22.9" fill="#bdc0c4"/>
<rect x="628.68" y="362.4" width="26.41" height="22.9" fill="#bdc0c4"/>
<rect x="654.99" y="362.4" width="26.41" height="22.9" fill="#bdc0c4"/>
<rect x="444.5" y="385.2" width="26.41" height="22.7" fill="#b2bebc"/>
<rect x="470.81" y="385.2" width="26.41" height="22.7" fill="#a9bdb5"/>
<rect x="497.12" y="385.2" width="26.41" height="22.7" fill="#a5bdb2"/>
<rect x="523.43" y="385.2" width="26.41" height="22.7" fill="#b6bfbe"/>
<rect x="549.74" y="385.2" width="26.41" height="22.7" fill="#98bba8"/>
<rect x="576.06" y="385.2" width="26.41" height="22.7" fill="#a2bcaf"/>
<rect x="602.37" y="385.2" width="26.41" height="22.7" fill="#bdc0c4"/>
<rect x="628.68" y="385.2" width="26.41" height="22.7" fill="#bdc0c4"/>
<rect x="654.99" y="385.2" width="26.41" height="22.7" fill="#bdc0c4"/>
<rect x="444.5" y="407.8" width="26.41" height="22.5" fill="#b0beba"/>
<rect x="470.81" y="407.8" width="26.41" height="22.5" fill="#b8bfc0"/>
<rect x="497.12" y="407.8" width="26.41" height="22.5" fill="#a2bcaf"/>
<rect x="523.43" y="407.8" width="26.41" height="22.5" fill="#bdc0c4"/>
<rect x="549.74" y="407.8" width="26.41" height="22.5" fill="#bbc0c3"/>
<rect x="576.06" y="407.8" width="26.41" height="22.5" fill="#8db9a0"/>
<rect x="602.37" y="407.8" width="26.41" height="22.5" fill="#bdc0c4"/>
<rect x="628.68" y="407.8" width="26.41" height="22.5" fill="#bdc0c4"/>
<rect x="654.99" y="407.8" width="26.41" height="22.5" fill="#bdc0c4"/>
<rect x="444.5" y="430.2" width="26.41" height="22.7" fill="#bdc0c4"/>
<rect x="470.81" y="430.2" width="26.41" height="22.7" fill="#bdc0c4"/>
<rect x="497.12" y="430.2" width="26.41" height="22.7" fill="#bdc0c4"/>
<rect x="523.43" y="430.2" width="26.41" height="22.7" fill="#bdc0c4"/>
<rect x="549.74" y="430.2" width="26.41" height="22.7" fill="#bdc0c4"/>
<rect x="576.06" y="430.2" width="26.41" height="22.7" fill="#bdc0c4"/>
<rect x="602.37" y="430.2" width="26.41" height="22.7" fill="#a9bdb5"/>
<rect x="628.68" y="430.2" width="26.41" height="22.7" fill="#bdc0c4"/>
<rect x="654.99" y="430.2" width="26.41" height="22.7" fill="#bdc0c4"/>
<rect x="444.5" y="452.8" width="26.41" height="22.7" fill="#bdc0c4"/>
<rect x="470.81" y="452.8" width="26.41" height="22.7" fill="#bdc0c4"/>
<rect x="497.12" y="452.8" width="26.41" height="22.7" fill="#bdc0c4"/>
<rect x="523.43" y="452.8" width="26.41" height="22.7" fill="#bdc0c4"/>
<rect x="549.74" y="452.8" width="26.41" height="22.7" fill="#bdc0c4"/>
<rect x="576.06" y="452.8" width="26.41" height="22.7" fill="#bdc0c4"/>
<rect x="602.37" y="452.8" width="26.41" height="22.7" fill="#bdc0c4"/>
<rect x="628.68" y="452.8" width="26.41" height="22.7" fill="#b0beba"/>
<rect x="654.99" y="452.8" width="26.41" height="22.7" fill="#bdc0c4"/>
<rect x="444.5" y="475.4" width="26.41" height="22.3" fill="#bdc0c4"/>
<rect x="470.81" y="475.4" width="26.41" height="22.3" fill="#bdc0c4"/>
<rect x="497.12" y="475.4" width="26.41" height="22.3" fill="#bdc0c4"/>
<rect x="523.43" y="475.4" width="26.41" height="22.3" fill="#bdc0c4"/>
<rect x="549.74" y="475.4" width="26.41" height="22.3" fill="#bdc0c4"/>
<rect x="576.06" y="475.4" width="26.41" height="22.3" fill="#bdc0c4"/>
<rect x="602.37" y="475.4" width="26.41" height="22.3" fill="#bdc0c4"/>
<rect x="628.68" y="475.4" width="26.41" height="22.3" fill="#bdc0c4"/>
<rect x="654.99" y="475.4" width="26.41" height="22.3" fill="#abbdb6"/>
<line x1="444.5" y1="316.5" x2="681.3" y2="316.5" stroke="#0c1a10" stroke-width="1.1"/>
<line x1="444.5" y1="339.4" x2="681.3" y2="339.4" stroke="#0c1a10" stroke-width="1.1"/>
<line x1="444.5" y1="362.4" x2="681.3" y2="362.4" stroke="#0c1a10" stroke-width="1.1"/>
<line x1="444.5" y1="385.2" x2="681.3" y2="385.2" stroke="#0c1a10" stroke-width="1.1"/>
<line x1="444.5" y1="407.8" x2="681.3" y2="407.8" stroke="#0c1a10" stroke-width="1.1"/>
<line x1="444.5" y1="430.2" x2="681.3" y2="430.2" stroke="#0c1a10" stroke-width="1.1"/>
<line x1="444.5" y1="452.8" x2="681.3" y2="452.8" stroke="#0c1a10" stroke-width="1.1"/>
<line x1="444.5" y1="475.4" x2="681.3" y2="475.4" stroke="#0c1a10" stroke-width="1.1"/>
<line x1="470.81" y1="293.6" x2="470.81" y2="497.6" stroke="#0c1a10" stroke-width="1.1"/>
<line x1="497.12" y1="293.6" x2="497.12" y2="497.6" stroke="#0c1a10" stroke-width="1.1"/>
<line x1="523.43" y1="293.6" x2="523.43" y2="497.6" stroke="#0c1a10" stroke-width="1.1"/>
<line x1="549.74" y1="293.6" x2="549.74" y2="497.6" stroke="#0c1a10" stroke-width="1.1"/>
<line x1="576.06" y1="293.6" x2="576.06" y2="497.6" stroke="#0c1a10" stroke-width="1.1"/>
<line x1="602.37" y1="293.6" x2="602.37" y2="497.6" stroke="#0c1a10" stroke-width="1.1"/>
<line x1="628.68" y1="293.6" x2="628.68" y2="497.6" stroke="#0c1a10" stroke-width="1.1"/>
<line x1="654.99" y1="293.6" x2="654.99" y2="497.6" stroke="#0c1a10" stroke-width="1.1"/>
<rect x="444.5" y="293.6" width="236.8" height="204" fill="none" stroke="#0c1a10" stroke-width="1.5"/>
<text x="457.66" y="307.03" font-size="7.45" text-anchor="middle" font-weight="normal" fill="#10261a" stroke="#10261a" stroke-width="0.13">23±2</text>
<text x="483.97" y="307.03" font-size="7.45" text-anchor="middle" font-weight="normal" fill="#10261a" stroke="#10261a" stroke-width="0.13">20±4</text>
<text x="510.28" y="307.03" font-size="7.45" text-anchor="middle" font-weight="normal" fill="#10261a" stroke="#10261a" stroke-width="0.13">17±6</text>
<text x="536.59" y="307.03" font-size="7.45" text-anchor="middle" font-weight="normal" fill="#10261a" stroke="#10261a" stroke-width="0.13">0</text>
<text x="562.9" y="307.03" font-size="7.45" text-anchor="middle" font-weight="normal" fill="#10261a" stroke="#10261a" stroke-width="0.13">4±1</text>
<text x="589.21" y="307.03" font-size="7.45" text-anchor="middle" font-weight="normal" fill="#10261a" stroke="#10261a" stroke-width="0.13">11±1</text>
<text x="615.52" y="307.03" font-size="7.45" text-anchor="middle" font-weight="normal" fill="#10261a" stroke="#10261a" stroke-width="0.13">0</text>
<text x="641.83" y="307.03" font-size="7.45" text-anchor="middle" font-weight="normal" fill="#10261a" stroke="#10261a" stroke-width="0.13">0</text>
<text x="668.14" y="307.03" font-size="7.45" text-anchor="middle" font-weight="normal" fill="#10261a" stroke="#10261a" stroke-width="0.13">0</text>
<text x="457.66" y="329.93" font-size="7.45" text-anchor="middle" font-weight="normal" fill="#10261a" stroke="#10261a" stroke-width="0.13">4±2</text>
<text x="483.97" y="329.93" font-size="7.45" text-anchor="middle" font-weight="normal" fill="#10261a" stroke="#10261a" stroke-width="0.13">14±8</text>
<text x="510.28" y="329.93" font-size="7.45" text-anchor="middle" font-weight="normal" fill="#10261a" stroke="#10261a" stroke-width="0.13">11±4</text>
<text x="536.59" y="329.93" font-size="7.45" text-anchor="middle" font-weight="normal" fill="#10261a" stroke="#10261a" stroke-width="0.13">16±4</text>
<text x="562.9" y="329.93" font-size="7.45" text-anchor="middle" font-weight="normal" fill="#10261a" stroke="#10261a" stroke-width="0.13">17±1</text>
<text x="589.21" y="329.93" font-size="7.45" text-anchor="middle" font-weight="normal" fill="#10261a" stroke="#10261a" stroke-width="0.13">15±3</text>
<text x="615.52" y="329.93" font-size="7.45" text-anchor="middle" font-weight="normal" fill="#10261a" stroke="#10261a" stroke-width="0.13">0</text>
<text x="641.83" y="329.93" font-size="7.45" text-anchor="middle" font-weight="normal" fill="#10261a" stroke="#10261a" stroke-width="0.13">0</text>
<text x="668.14" y="329.93" font-size="7.45" text-anchor="middle" font-weight="normal" fill="#10261a" stroke="#10261a" stroke-width="0.13">0</text>
<text x="457.66" y="352.88" font-size="7.45" text-anchor="middle" font-weight="normal" fill="#10261a" stroke="#10261a" stroke-width="0.13">12±2</text>
<text x="483.97" y="352.88" font-size="7.45" text-anchor="middle" font-weight="normal" fill="#10261a" stroke="#10261a" stroke-width="0.13">24±8</text>
<text x="510.28" y="352.88" font-size="7.45" text-anchor="middle" font-weight="normal" fill="#10261a" stroke="#10261a" stroke-width="0.13">14±9</text>
<text x="536.59" y="352.88" font-size="7.45" text-anchor="middle" font-weight="normal" fill="#10261a" stroke="#10261a" stroke-width="0.13">1±0</text>
<text x="562.9" y="352.88" font-size="7.45" text-anchor="middle" font-weight="normal" fill="#10261a" stroke="#10261a" stroke-width="0.13">1±1</text>
<text x="589.21" y="352.88" font-size="7.45" text-anchor="middle" font-weight="normal" fill="#10261a" stroke="#10261a" stroke-width="0.13">4±3</text>
<text x="615.52" y="352.88" font-size="7.45" text-anchor="middle" font-weight="normal" fill="#10261a" stroke="#10261a" stroke-width="0.13">0</text>
<text x="641.83" y="352.88" font-size="7.45" text-anchor="middle" font-weight="normal" fill="#10261a" stroke="#10261a" stroke-width="0.13">0</text>
<text x="668.14" y="352.88" font-size="7.45" text-anchor="middle" font-weight="normal" fill="#10261a" stroke="#10261a" stroke-width="0.13">0</text>
<text x="457.66" y="375.78" font-size="7.45" text-anchor="middle" font-weight="normal" fill="#10261a" stroke="#10261a" stroke-width="0.13">12±8</text>
<text x="483.97" y="375.78" font-size="7.45" text-anchor="middle" font-weight="normal" fill="#10261a" stroke="#10261a" stroke-width="0.13">13±9</text>
<text x="510.28" y="375.78" font-size="7.45" text-anchor="middle" font-weight="normal" fill="#10261a" stroke="#10261a" stroke-width="0.13">14±4</text>
<text x="536.59" y="375.78" font-size="7.45" text-anchor="middle" font-weight="normal" fill="#10261a" stroke="#10261a" stroke-width="0.13">14±3</text>
<text x="562.9" y="375.78" font-size="7.45" text-anchor="middle" font-weight="normal" fill="#10261a" stroke="#10261a" stroke-width="0.13">11±7</text>
<text x="589.21" y="375.78" font-size="7.45" text-anchor="middle" font-weight="normal" fill="#10261a" stroke="#10261a" stroke-width="0.13">7±4</text>
<text x="615.52" y="375.78" font-size="7.45" text-anchor="middle" font-weight="normal" fill="#10261a" stroke="#10261a" stroke-width="0.13">0</text>
<text x="641.83" y="375.78" font-size="7.45" text-anchor="middle" font-weight="normal" fill="#10261a" stroke="#10261a" stroke-width="0.13">0</text>
<text x="668.14" y="375.78" font-size="7.45" text-anchor="middle" font-weight="normal" fill="#10261a" stroke="#10261a" stroke-width="0.13">0</text>
<text x="457.66" y="398.48" font-size="7.45" text-anchor="middle" font-weight="normal" fill="#10261a" stroke="#10261a" stroke-width="0.13">6±4</text>
<text x="483.97" y="398.48" font-size="7.45" text-anchor="middle" font-weight="normal" fill="#10261a" stroke="#10261a" stroke-width="0.13">11±9</text>
<text x="510.28" y="398.48" font-size="7.45" text-anchor="middle" font-weight="normal" fill="#10261a" stroke="#10261a" stroke-width="0.13">13±3</text>
<text x="536.59" y="398.48" font-size="7.45" text-anchor="middle" font-weight="normal" fill="#10261a" stroke="#10261a" stroke-width="0.13">4±0</text>
<text x="562.9" y="398.48" font-size="7.45" text-anchor="middle" font-weight="normal" fill="#10261a" stroke="#10261a" stroke-width="0.13">20±2</text>
<text x="589.21" y="398.48" font-size="7.45" text-anchor="middle" font-weight="normal" fill="#10261a" stroke="#10261a" stroke-width="0.13">15±4</text>
<text x="615.52" y="398.48" font-size="7.45" text-anchor="middle" font-weight="normal" fill="#10261a" stroke="#10261a" stroke-width="0.13">0</text>
<text x="641.83" y="398.48" font-size="7.45" text-anchor="middle" font-weight="normal" fill="#10261a" stroke="#10261a" stroke-width="0.13">0</text>
<text x="668.14" y="398.48" font-size="7.45" text-anchor="middle" font-weight="normal" fill="#10261a" stroke="#10261a" stroke-width="0.13">0</text>
<text x="457.66" y="420.98" font-size="7.45" text-anchor="middle" font-weight="normal" fill="#10261a" stroke="#10261a" stroke-width="0.13">7±2</text>
<text x="483.97" y="420.98" font-size="7.45" text-anchor="middle" font-weight="normal" fill="#10261a" stroke="#10261a" stroke-width="0.13">3±2</text>
<text x="510.28" y="420.98" font-size="7.45" text-anchor="middle" font-weight="normal" fill="#10261a" stroke="#10261a" stroke-width="0.13">15±2</text>
<text x="536.59" y="420.98" font-size="7.45" text-anchor="middle" font-weight="normal" fill="#10261a" stroke="#10261a" stroke-width="0.13">0</text>
<text x="562.9" y="420.98" font-size="7.45" text-anchor="middle" font-weight="normal" fill="#10261a" stroke="#10261a" stroke-width="0.13">1±0</text>
<text x="589.21" y="420.98" font-size="7.45" text-anchor="middle" font-weight="normal" fill="#10261a" stroke="#10261a" stroke-width="0.13">26±5</text>
<text x="615.52" y="420.98" font-size="7.45" text-anchor="middle" font-weight="normal" fill="#10261a" stroke="#10261a" stroke-width="0.13">0</text>
<text x="641.83" y="420.98" font-size="7.45" text-anchor="middle" font-weight="normal" fill="#10261a" stroke="#10261a" stroke-width="0.13">0</text>
<text x="668.14" y="420.98" font-size="7.45" text-anchor="middle" font-weight="normal" fill="#10261a" stroke="#10261a" stroke-width="0.13">0</text>
<text x="457.66" y="443.48" font-size="7.45" text-anchor="middle" font-weight="normal" fill="#10261a" stroke="#10261a" stroke-width="0.13">0</text>
<text x="483.97" y="443.48" font-size="7.45" text-anchor="middle" font-weight="normal" fill="#10261a" stroke="#10261a" stroke-width="0.13">0</text>
<text x="510.28" y="443.48" font-size="7.45" text-anchor="middle" font-weight="normal" fill="#10261a" stroke="#10261a" stroke-width="0.13">0</text>
<text x="536.59" y="443.48" font-size="7.45" text-anchor="middle" font-weight="normal" fill="#10261a" stroke="#10261a" stroke-width="0.13">0</text>
<text x="562.9" y="443.48" font-size="7.45" text-anchor="middle" font-weight="normal" fill="#10261a" stroke="#10261a" stroke-width="0.13">0</text>
<text x="589.21" y="443.48" font-size="7.45" text-anchor="middle" font-weight="normal" fill="#10261a" stroke="#10261a" stroke-width="0.13">0</text>
<text x="615.52" y="443.48" font-size="7.45" text-anchor="middle" font-weight="normal" fill="#10261a" stroke="#10261a" stroke-width="0.13">11±7</text>
<text x="641.83" y="443.48" font-size="7.45" text-anchor="middle" font-weight="normal" fill="#10261a" stroke="#10261a" stroke-width="0.13">0</text>
<text x="668.14" y="443.48" font-size="7.45" text-anchor="middle" font-weight="normal" fill="#10261a" stroke="#10261a" stroke-width="0.13">0</text>
<text x="457.66" y="466.08" font-size="7.45" text-anchor="middle" font-weight="normal" fill="#10261a" stroke="#10261a" stroke-width="0.13">0</text>
<text x="483.97" y="466.08" font-size="7.45" text-anchor="middle" font-weight="normal" fill="#10261a" stroke="#10261a" stroke-width="0.13">0</text>
<text x="510.28" y="466.08" font-size="7.45" text-anchor="middle" font-weight="normal" fill="#10261a" stroke="#10261a" stroke-width="0.13">0</text>
<text x="536.59" y="466.08" font-size="7.45" text-anchor="middle" font-weight="normal" fill="#10261a" stroke="#10261a" stroke-width="0.13">0</text>
<text x="562.9" y="466.08" font-size="7.45" text-anchor="middle" font-weight="normal" fill="#10261a" stroke="#10261a" stroke-width="0.13">0</text>
<text x="589.21" y="466.08" font-size="7.45" text-anchor="middle" font-weight="normal" fill="#10261a" stroke="#10261a" stroke-width="0.13">0</text>
<text x="615.52" y="466.08" font-size="7.45" text-anchor="middle" font-weight="normal" fill="#10261a" stroke="#10261a" stroke-width="0.13">0</text>
<text x="641.83" y="466.08" font-size="7.45" text-anchor="middle" font-weight="normal" fill="#10261a" stroke="#10261a" stroke-width="0.13">7±5</text>
<text x="668.14" y="466.08" font-size="7.45" text-anchor="middle" font-weight="normal" fill="#10261a" stroke="#10261a" stroke-width="0.13">0</text>
<text x="457.66" y="488.48" font-size="7.45" text-anchor="middle" font-weight="normal" fill="#10261a" stroke="#10261a" stroke-width="0.13">0</text>
<text x="483.97" y="488.48" font-size="7.45" text-anchor="middle" font-weight="normal" fill="#10261a" stroke="#10261a" stroke-width="0.13">0</text>
<text x="510.28" y="488.48" font-size="7.45" text-anchor="middle" font-weight="normal" fill="#10261a" stroke="#10261a" stroke-width="0.13">0</text>
<text x="536.59" y="488.48" font-size="7.45" text-anchor="middle" font-weight="normal" fill="#10261a" stroke="#10261a" stroke-width="0.13">0</text>
<text x="562.9" y="488.48" font-size="7.45" text-anchor="middle" font-weight="normal" fill="#10261a" stroke="#10261a" stroke-width="0.13">0</text>
<text x="589.21" y="488.48" font-size="7.45" text-anchor="middle" font-weight="normal" fill="#10261a" stroke="#10261a" stroke-width="0.13">0</text>
<text x="615.52" y="488.48" font-size="7.45" text-anchor="middle" font-weight="normal" fill="#10261a" stroke="#10261a" stroke-width="0.13">0</text>
<text x="641.83" y="488.48" font-size="7.45" text-anchor="middle" font-weight="normal" fill="#10261a" stroke="#10261a" stroke-width="0.13">0</text>
<text x="668.14" y="488.48" font-size="7.45" text-anchor="middle" font-weight="normal" fill="#10261a" stroke="#10261a" stroke-width="0.13">10±3</text>
<line x1="345.8" y1="292.8" x2="345.8" y2="498.5" stroke="#000" stroke-width="1.4"/>
<line x1="361.6" y1="292.8" x2="361.6" y2="430.3" stroke="#000" stroke-width="1.4"/>
<line x1="361.6" y1="432.9" x2="361.6" y2="498.5" stroke="#000" stroke-width="1.4"/>
<text x="339.6" y="387.3" font-size="9.7" text-anchor="middle" font-weight="normal" fill="#222" transform="rotate(-90 339.6 387.3)" stroke="#222" stroke-width="0.17">GFP-Intein N-ter</text>
<text x="357.2" y="363" font-size="10.6" text-anchor="middle" font-weight="normal" fill="#222" transform="rotate(-90 357.2 363)" stroke="#222" stroke-width="0.19">1st group</text>
<text x="357.2" y="466" font-size="10.6" text-anchor="middle" font-weight="normal" fill="#222" transform="rotate(-90 357.2 466)" stroke="#222" stroke-width="0.19">2nd group</text>
<rect x="443.2" y="505.3" width="238.4" height="8.8" fill="url(#cb)" stroke="#000" stroke-width="0.8"/>
<line x1="443.6" y1="514" x2="443.6" y2="516" stroke="#000" stroke-width="0.6"/>
<text x="443.2" y="523.2" font-size="7.5" text-anchor="start" font-weight="normal" fill="#222" stroke="#222" stroke-width="0.13">0</text>
<line x1="491.2" y1="514" x2="491.2" y2="516" stroke="#000" stroke-width="0.6"/>
<text x="491.2" y="523.2" font-size="7.5" text-anchor="middle" font-weight="normal" fill="#222" stroke="#222" stroke-width="0.13">20</text>
<line x1="538.8" y1="514" x2="538.8" y2="516" stroke="#000" stroke-width="0.6"/>
<text x="538.8" y="523.2" font-size="7.5" text-anchor="middle" font-weight="normal" fill="#222" stroke="#222" stroke-width="0.13">40</text>
<line x1="586.4" y1="514" x2="586.4" y2="516" stroke="#000" stroke-width="0.6"/>
<text x="586.4" y="523.2" font-size="7.5" text-anchor="middle" font-weight="normal" fill="#222" stroke="#222" stroke-width="0.13">60</text>
<line x1="634" y1="514" x2="634" y2="516" stroke="#000" stroke-width="0.6"/>
<text x="634" y="523.2" font-size="7.5" text-anchor="middle" font-weight="normal" fill="#222" stroke="#222" stroke-width="0.13">80</text>
<line x1="681.6" y1="514" x2="681.6" y2="516" stroke="#000" stroke-width="0.6"/>
<text x="683" y="523.2" font-size="7.5" text-anchor="end" font-weight="normal" fill="#222" stroke="#222" stroke-width="0.13">100</text>
<text x="562.3" y="535.8" font-size="10.4" text-anchor="middle" font-weight="normal" fill="#222" stroke="#222" stroke-width="0.19">GFP intensity % (vs WT GFP)</text></g>
<g><text x="144.9" y="574.3" font-size="11.5" text-anchor="start" font-weight="bold" fill="#111">f)</text>
<path d="M193.45,605.4 V575.42 A5.72,5.72 0 0 1 199.17,569.7 H200.73 A5.72,5.72 0 0 1 206.45,575.42 V605.4 Z" fill="#5fa87a" stroke="#2d5c40" stroke-width="0.6"/>
<text x="202.43" y="588.35" font-size="6.9" text-anchor="middle" font-weight="normal" fill="#1d3326" transform="rotate(-90 202.43 588.35)" stroke="#1d3326" stroke-width="0.12">Split GFP</text>
<circle cx="190.45" cy="602.1" r="3.2" fill="#4f9068" stroke="#1d3f2b" stroke-width="0.8"/>
<text x="190.45" y="603.5" font-size="4" text-anchor="middle" font-weight="normal" fill="#12281b">D</text>
<text x="186.05" y="600.6" font-size="5" text-anchor="middle" font-weight="normal" fill="#111" transform="rotate(-90 186.05 600.6)">173</text>
<path d="M193.45,605.4 H206.45 V630.7 L199.95,640.2 L193.45,630.7 Z" fill="#f1b8b2" stroke="#5a3f3c" stroke-width="0.6"/>
<text x="202.38" y="619.55" font-size="6.75" text-anchor="middle" font-weight="normal" fill="#2a2a2a" transform="rotate(-90 202.38 619.55)" stroke="#2a2a2a" stroke-width="0.12">Aha</text>
<path d="M225.95,598.2 V568.22 A5.72,5.72 0 0 1 231.67,562.5 H233.23 A5.72,5.72 0 0 1 238.95,568.22 V598.2 Z" fill="#5fa87a" stroke="#2d5c40" stroke-width="0.6"/>
<text x="234.93" y="581.15" font-size="6.9" text-anchor="middle" font-weight="normal" fill="#1d3326" transform="rotate(-90 234.93 581.15)" stroke="#1d3326" stroke-width="0.12">Split GFP</text>
<circle cx="222.95" cy="594.9" r="3.2" fill="#4f9068" stroke="#1d3f2b" stroke-width="0.8"/>
<text x="222.95" y="596.3" font-size="4" text-anchor="middle" font-weight="normal" fill="#12281b">D</text>
<text x="218.55" y="593.4" font-size="5" text-anchor="middle" font-weight="normal" fill="#111" transform="rotate(-90 218.55 593.4)">173</text>
<circle cx="231.45" cy="601.8" r="3" fill="#fff" stroke="#e23a3a" stroke-width="0.9"/>
<text x="231.45" y="603.15" font-size="3.75" text-anchor="middle" font-weight="normal" fill="#e23a3a">C</text>
<text x="237.25" y="601.8" font-size="3" text-anchor="middle" font-weight="normal" fill="#333" transform="rotate(-90 237.25 601.8)">+1</text>
<path d="M225.95,605.4 H238.95 V630.7 L232.45,640.2 L225.95,630.7 Z" fill="#f1b8b2" stroke="#5a3f3c" stroke-width="0.6"/>
<text x="234.88" y="619.55" font-size="6.75" text-anchor="middle" font-weight="normal" fill="#2a2a2a" transform="rotate(-90 234.88 619.55)" stroke="#2a2a2a" stroke-width="0.12">Aha</text>
<path d="M258.65,591.5 V561.52 A5.72,5.72 0 0 1 264.37,555.8 H265.93 A5.72,5.72 0 0 1 271.65,561.52 V591.5 Z" fill="#5fa87a" stroke="#2d5c40" stroke-width="0.6"/>
<text x="267.63" y="574.45" font-size="6.9" text-anchor="middle" font-weight="normal" fill="#1d3326" transform="rotate(-90 267.63 574.45)" stroke="#1d3326" stroke-width="0.12">Split GFP</text>
<circle cx="255.65" cy="588.2" r="3.2" fill="#4f9068" stroke="#1d3f2b" stroke-width="0.8"/>
<text x="255.65" y="589.6" font-size="4" text-anchor="middle" font-weight="normal" fill="#12281b">D</text>
<text x="251.25" y="586.7" font-size="5" text-anchor="middle" font-weight="normal" fill="#111" transform="rotate(-90 251.25 586.7)">173</text>
<circle cx="264.15" cy="601.8" r="3" fill="#fff" stroke="#e23a3a" stroke-width="0.9"/>
<text x="264.15" y="603.15" font-size="3.75" text-anchor="middle" font-weight="normal" fill="#e23a3a">C</text>
<text x="269.95" y="601.8" font-size="3" text-anchor="middle" font-weight="normal" fill="#333" transform="rotate(-90 269.95 601.8)">+1</text>
<circle cx="264.15" cy="595.1" r="3" fill="#fff" stroke="#e23a3a" stroke-width="0.9"/>
<text x="264.15" y="596.45" font-size="3.75" text-anchor="middle" font-weight="normal" fill="#e23a3a">F</text>
<text x="269.95" y="595.1" font-size="3" text-anchor="middle" font-weight="normal" fill="#333" transform="rotate(-90 269.95 595.1)">+2</text>
<path d="M258.65,605.4 H271.65 V630.7 L265.15,640.2 L258.65,630.7 Z" fill="#f1b8b2" stroke="#5a3f3c" stroke-width="0.6"/>
<text x="267.58" y="619.55" font-size="6.75" text-anchor="middle" font-weight="normal" fill="#2a2a2a" transform="rotate(-90 267.58 619.55)" stroke="#2a2a2a" stroke-width="0.12">Aha</text>
<path d="M290.5,584.8 V554.82 A5.72,5.72 0 0 1 296.22,549.1 H297.78 A5.72,5.72 0 0 1 303.5,554.82 V584.8 Z" fill="#5fa87a" stroke="#2d5c40" stroke-width="0.6"/>
<text x="299.48" y="567.75" font-size="6.9" text-anchor="middle" font-weight="normal" fill="#1d3326" transform="rotate(-90 299.48 567.75)" stroke="#1d3326" stroke-width="0.12">Split GFP</text>
<circle cx="287.5" cy="581.5" r="3.2" fill="#4f9068" stroke="#1d3f2b" stroke-width="0.8"/>
<text x="287.5" y="582.9" font-size="4" text-anchor="middle" font-weight="normal" fill="#12281b">D</text>
<text x="283.1" y="580" font-size="5" text-anchor="middle" font-weight="normal" fill="#111" transform="rotate(-90 283.1 580)">173</text>
<circle cx="296" cy="601.8" r="3" fill="#fff" stroke="#e23a3a" stroke-width="0.9"/>
<text x="296" y="603.15" font-size="3.75" text-anchor="middle" font-weight="normal" fill="#e23a3a">C</text>
<text x="301.8" y="601.8" font-size="3" text-anchor="middle" font-weight="normal" fill="#333" transform="rotate(-90 301.8 601.8)">+1</text>
<circle cx="296" cy="595.1" r="3" fill="#fff" stroke="#e23a3a" stroke-width="0.9"/>
<text x="296" y="596.45" font-size="3.75" text-anchor="middle" font-weight="normal" fill="#e23a3a">F</text>
<text x="301.8" y="595.1" font-size="3" text-anchor="middle" font-weight="normal" fill="#333" transform="rotate(-90 301.8 595.1)">+2</text>
<circle cx="296" cy="588.4" r="3" fill="#fff" stroke="#e23a3a" stroke-width="0.9"/>
<text x="296" y="589.75" font-size="3.75" text-anchor="middle" font-weight="normal" fill="#e23a3a">N</text>
<text x="301.8" y="588.4" font-size="3" text-anchor="middle" font-weight="normal" fill="#333" transform="rotate(-90 301.8 588.4)">+3</text>
<path d="M290.5,605.4 H303.5 V630.7 L297,640.2 L290.5,630.7 Z" fill="#f1b8b2" stroke="#5a3f3c" stroke-width="0.6"/>
<text x="299.43" y="619.55" font-size="6.75" text-anchor="middle" font-weight="normal" fill="#2a2a2a" transform="rotate(-90 299.43 619.55)" stroke="#2a2a2a" stroke-width="0.12">Aha</text>
<path d="M142.2,656.35 H115.25 A6.65,6.65 0 0 0 115.25,669.65 H142.2 Z" fill="#5fa87a" stroke="#2d5c40" stroke-width="0.6"/>
<text x="126.2" y="665.23" font-size="6.2" text-anchor="middle" font-weight="normal" fill="#1d3326" stroke="#1d3326" stroke-width="0.11">Split GFP</text>
<circle cx="139.2" cy="653.35" r="3.3" fill="#4f9068" stroke="#1d3f2b" stroke-width="0.8"/>
<text x="139.2" y="654.85" font-size="4" text-anchor="middle" font-weight="normal" fill="#12281b">E</text>
<text x="139.5" y="649.75" font-size="5" text-anchor="middle" font-weight="normal" fill="#111">172</text>
<path d="M142.2,656.35 H178 L169.8,663 L178,669.65 H142.2 Z" fill="#f1b8b2" stroke="#5a3f3c" stroke-width="0.6"/>
<text x="157.5" y="665.16" font-size="6" text-anchor="middle" font-weight="normal" fill="#2a2a2a" stroke="#2a2a2a" stroke-width="0.11">Aha</text>
<path d="M134.95,683.35 H108 A6.65,6.65 0 0 0 108,696.65 H134.95 Z" fill="#5fa87a" stroke="#2d5c40" stroke-width="0.6"/>
<text x="118.95" y="692.23" font-size="6.2" text-anchor="middle" font-weight="normal" fill="#1d3326" stroke="#1d3326" stroke-width="0.11">Split GFP</text>
<circle cx="131.95" cy="680.35" r="3.3" fill="#4f9068" stroke="#1d3f2b" stroke-width="0.8"/>
<text x="131.95" y="681.85" font-size="4" text-anchor="middle" font-weight="normal" fill="#12281b">E</text>
<text x="132.25" y="676.75" font-size="5" text-anchor="middle" font-weight="normal" fill="#111">172</text>
<circle cx="138.5" cy="690" r="3" fill="#fff" stroke="#e23a3a" stroke-width="0.9"/>
<text x="138.5" y="691.35" font-size="3.75" text-anchor="middle" font-weight="normal" fill="#e23a3a">Y</text>
<text x="138.5" y="697.25" font-size="3" text-anchor="middle" font-weight="normal" fill="#333">-1</text>
<path d="M142.2,683.35 H178 L169.8,690 L178,696.65 H142.2 Z" fill="#f1b8b2" stroke="#5a3f3c" stroke-width="0.6"/>
<text x="157.5" y="692.16" font-size="6" text-anchor="middle" font-weight="normal" fill="#2a2a2a" stroke="#2a2a2a" stroke-width="0.11">Aha</text>
<path d="M128.35,710.55 H101.4 A6.65,6.65 0 0 0 101.4,723.85 H128.35 Z" fill="#5fa87a" stroke="#2d5c40" stroke-width="0.6"/>
<text x="112.35" y="719.43" font-size="6.2" text-anchor="middle" font-weight="normal" fill="#1d3326" stroke="#1d3326" stroke-width="0.11">Split GFP</text>
<circle cx="125.35" cy="707.55" r="3.3" fill="#4f9068" stroke="#1d3f2b" stroke-width="0.8"/>
<text x="125.35" y="709.05" font-size="4" text-anchor="middle" font-weight="normal" fill="#12281b">E</text>
<text x="125.65" y="703.95" font-size="5" text-anchor="middle" font-weight="normal" fill="#111">172</text>
<circle cx="138.5" cy="717.2" r="3" fill="#fff" stroke="#e23a3a" stroke-width="0.9"/>
<text x="138.5" y="718.55" font-size="3.75" text-anchor="middle" font-weight="normal" fill="#e23a3a">Y</text>
<text x="138.5" y="724.45" font-size="3" text-anchor="middle" font-weight="normal" fill="#333">-1</text>
<circle cx="131.9" cy="717.2" r="3" fill="#fff" stroke="#e23a3a" stroke-width="0.9"/>
<text x="131.9" y="718.55" font-size="3.75" text-anchor="middle" font-weight="normal" fill="#e23a3a">E</text>
<text x="131.9" y="724.45" font-size="3" text-anchor="middle" font-weight="normal" fill="#333">-2</text>
<path d="M142.2,710.55 H178 L169.8,717.2 L178,723.85 H142.2 Z" fill="#f1b8b2" stroke="#5a3f3c" stroke-width="0.6"/>
<text x="157.5" y="719.36" font-size="6" text-anchor="middle" font-weight="normal" fill="#2a2a2a" stroke="#2a2a2a" stroke-width="0.11">Aha</text>
<path d="M121.75,739.85 H94.8 A6.65,6.65 0 0 0 94.8,753.15 H121.75 Z" fill="#5fa87a" stroke="#2d5c40" stroke-width="0.6"/>
<text x="105.75" y="748.73" font-size="6.2" text-anchor="middle" font-weight="normal" fill="#1d3326" stroke="#1d3326" stroke-width="0.11">Split GFP</text>
<circle cx="118.75" cy="736.85" r="3.3" fill="#4f9068" stroke="#1d3f2b" stroke-width="0.8"/>
<text x="118.75" y="738.35" font-size="4" text-anchor="middle" font-weight="normal" fill="#12281b">E</text>
<text x="119.05" y="733.25" font-size="5" text-anchor="middle" font-weight="normal" fill="#111">172</text>
<circle cx="138.5" cy="746.5" r="3" fill="#fff" stroke="#e23a3a" stroke-width="0.9"/>
<text x="138.5" y="747.85" font-size="3.75" text-anchor="middle" font-weight="normal" fill="#e23a3a">Y</text>
<text x="138.5" y="753.75" font-size="3" text-anchor="middle" font-weight="normal" fill="#333">-1</text>
<circle cx="131.9" cy="746.5" r="3" fill="#fff" stroke="#e23a3a" stroke-width="0.9"/>
<text x="131.9" y="747.85" font-size="3.75" text-anchor="middle" font-weight="normal" fill="#e23a3a">E</text>
<text x="131.9" y="753.75" font-size="3" text-anchor="middle" font-weight="normal" fill="#333">-2</text>
<circle cx="125.3" cy="746.5" r="3" fill="#fff" stroke="#e23a3a" stroke-width="0.9"/>
<text x="125.3" y="747.85" font-size="3.75" text-anchor="middle" font-weight="normal" fill="#e23a3a">A</text>
<text x="125.3" y="753.75" font-size="3" text-anchor="middle" font-weight="normal" fill="#333">-3</text>
<path d="M142.2,739.85 H178 L169.8,746.5 L178,753.15 H142.2 Z" fill="#f1b8b2" stroke="#5a3f3c" stroke-width="0.6"/>
<text x="157.5" y="748.66" font-size="6" text-anchor="middle" font-weight="normal" fill="#2a2a2a" stroke="#2a2a2a" stroke-width="0.11">Aha</text>
<rect x="184.8" y="648" width="32.23" height="27.73" fill="#bdc0c4"/>
<rect x="216.93" y="648" width="32.23" height="27.73" fill="#bdc0c4"/>
<rect x="249.05" y="648" width="32.23" height="27.73" fill="#bdc0c4"/>
<rect x="281.18" y="648" width="32.23" height="27.73" fill="#bdc0c4"/>
<rect x="184.8" y="675.62" width="32.23" height="27.73" fill="#bdc0c4"/>
<rect x="216.93" y="675.62" width="32.23" height="27.73" fill="#b2bebc"/>
<rect x="249.05" y="675.62" width="32.23" height="27.73" fill="#aebeb9"/>
<rect x="281.18" y="675.62" width="32.23" height="27.73" fill="#a9bdb5"/>
<rect x="184.8" y="703.25" width="32.23" height="27.73" fill="#a3bcb1"/>
<rect x="216.93" y="703.25" width="32.23" height="27.73" fill="#b0beba"/>
<rect x="249.05" y="703.25" width="32.23" height="27.73" fill="#91baa3"/>
<rect x="281.18" y="703.25" width="32.23" height="27.73" fill="#69b485"/>
<rect x="184.8" y="730.88" width="32.23" height="27.73" fill="#5eb27c"/>
<rect x="216.93" y="730.88" width="32.23" height="27.73" fill="#7bb792"/>
<rect x="249.05" y="730.88" width="32.23" height="27.73" fill="#8ab99d"/>
<rect x="281.18" y="730.88" width="32.23" height="27.73" fill="#62b37f"/>
<line x1="184.8" y1="675.62" x2="313.3" y2="675.62" stroke="#0c1a10" stroke-width="1.1"/>
<line x1="184.8" y1="703.25" x2="313.3" y2="703.25" stroke="#0c1a10" stroke-width="1.1"/>
<line x1="184.8" y1="730.88" x2="313.3" y2="730.88" stroke="#0c1a10" stroke-width="1.1"/>
<line x1="216.93" y1="648" x2="216.93" y2="758.5" stroke="#0c1a10" stroke-width="1.1"/>
<line x1="249.05" y1="648" x2="249.05" y2="758.5" stroke="#0c1a10" stroke-width="1.1"/>
<line x1="281.18" y1="648" x2="281.18" y2="758.5" stroke="#0c1a10" stroke-width="1.1"/>
<rect x="184.8" y="648" width="128.5" height="110.5" fill="none" stroke="#0c1a10" stroke-width="1.5"/>
<text x="200.86" y="664.32" font-size="8.9" text-anchor="middle" font-weight="normal" fill="#10261a" stroke="#10261a" stroke-width="0.16">0</text>
<text x="232.99" y="664.32" font-size="8.9" text-anchor="middle" font-weight="normal" fill="#10261a" stroke="#10261a" stroke-width="0.16">0</text>
<text x="265.11" y="664.32" font-size="8.9" text-anchor="middle" font-weight="normal" fill="#10261a" stroke="#10261a" stroke-width="0.16">0</text>
<text x="297.24" y="664.32" font-size="8.9" text-anchor="middle" font-weight="normal" fill="#10261a" stroke="#10261a" stroke-width="0.16">0</text>
<text x="200.86" y="691.94" font-size="8.9" text-anchor="middle" font-weight="normal" fill="#10261a" stroke="#10261a" stroke-width="0.16">0</text>
<text x="232.99" y="691.94" font-size="8.9" text-anchor="middle" font-weight="normal" fill="#10261a" stroke="#10261a" stroke-width="0.16">6±2</text>
<text x="265.11" y="691.94" font-size="8.9" text-anchor="middle" font-weight="normal" fill="#10261a" stroke="#10261a" stroke-width="0.16">8±2</text>
<text x="297.24" y="691.94" font-size="8.9" text-anchor="middle" font-weight="normal" fill="#10261a" stroke="#10261a" stroke-width="0.16">11±2</text>
<text x="200.86" y="719.57" font-size="8.9" text-anchor="middle" font-weight="normal" fill="#10261a" stroke="#10261a" stroke-width="0.16">14±2</text>
<text x="232.99" y="719.57" font-size="8.9" text-anchor="middle" font-weight="normal" fill="#10261a" stroke="#10261a" stroke-width="0.16">7±1</text>
<text x="265.11" y="719.57" font-size="8.9" text-anchor="middle" font-weight="normal" fill="#10261a" stroke="#10261a" stroke-width="0.16">24±4</text>
<text x="297.24" y="719.57" font-size="8.9" text-anchor="middle" font-weight="normal" fill="#10261a" stroke="#10261a" stroke-width="0.16">46±11</text>
<text x="200.86" y="747.19" font-size="8.9" text-anchor="middle" font-weight="normal" fill="#10261a" stroke="#10261a" stroke-width="0.16">52±7</text>
<text x="232.99" y="747.19" font-size="8.9" text-anchor="middle" font-weight="normal" fill="#10261a" stroke="#10261a" stroke-width="0.16">36±3</text>
<text x="265.11" y="747.19" font-size="8.9" text-anchor="middle" font-weight="normal" fill="#10261a" stroke="#10261a" stroke-width="0.16">28±4</text>
<text x="297.24" y="747.19" font-size="8.9" text-anchor="middle" font-weight="normal" fill="#10261a" stroke="#10261a" stroke-width="0.16">50±3</text>
<path d="M452.6,609.7 V579.72 A5.72,5.72 0 0 1 458.32,574 H459.88 A5.72,5.72 0 0 1 465.6,579.72 V609.7 Z" fill="#5fa87a" stroke="#2d5c40" stroke-width="0.6"/>
<text x="461.58" y="592.65" font-size="6.9" text-anchor="middle" font-weight="normal" fill="#1d3326" transform="rotate(-90 461.58 592.65)" stroke="#1d3326" stroke-width="0.12">Split GFP</text>
<circle cx="449.6" cy="606.4" r="3.2" fill="#4f9068" stroke="#1d3f2b" stroke-width="0.8"/>
<text x="449.6" y="607.8" font-size="4" text-anchor="middle" font-weight="normal" fill="#12281b">D</text>
<text x="445.2" y="604.9" font-size="5" text-anchor="middle" font-weight="normal" fill="#111" transform="rotate(-90 445.2 604.9)">173</text>
<path d="M452.6,609.7 H465.6 V635.8 H462.15 V643.8 H456.05 V635.8 H452.6 Z" fill="#82cbdc" stroke="#33596a" stroke-width="0.6"/>
<text x="461.55" y="622.75" font-size="6.8" text-anchor="middle" font-weight="normal" fill="#2a2a2a" transform="rotate(-90 461.55 622.75)" stroke="#2a2a2a" stroke-width="0.12">gp41.1</text>
<path d="M484.9,602.5 V572.52 A5.72,5.72 0 0 1 490.62,566.8 H492.18 A5.72,5.72 0 0 1 497.9,572.52 V602.5 Z" fill="#5fa87a" stroke="#2d5c40" stroke-width="0.6"/>
<text x="493.88" y="585.45" font-size="6.9" text-anchor="middle" font-weight="normal" fill="#1d3326" transform="rotate(-90 493.88 585.45)" stroke="#1d3326" stroke-width="0.12">Split GFP</text>
<circle cx="481.9" cy="599.2" r="3.2" fill="#4f9068" stroke="#1d3f2b" stroke-width="0.8"/>
<text x="481.9" y="600.6" font-size="4" text-anchor="middle" font-weight="normal" fill="#12281b">D</text>
<text x="477.5" y="597.7" font-size="5" text-anchor="middle" font-weight="normal" fill="#111" transform="rotate(-90 477.5 597.7)">173</text>
<circle cx="490.4" cy="606.1" r="3" fill="#fff" stroke="#4a5cc0" stroke-width="0.9"/>
<text x="490.4" y="607.45" font-size="3.75" text-anchor="middle" font-weight="normal" fill="#4a5cc0">S</text>
<text x="496.2" y="606.1" font-size="3" text-anchor="middle" font-weight="normal" fill="#333" transform="rotate(-90 496.2 606.1)">+1</text>
<path d="M484.9,609.7 H497.9 V635.8 H494.45 V643.8 H488.35 V635.8 H484.9 Z" fill="#82cbdc" stroke="#33596a" stroke-width="0.6"/>
<text x="493.85" y="622.75" font-size="6.8" text-anchor="middle" font-weight="normal" fill="#2a2a2a" transform="rotate(-90 493.85 622.75)" stroke="#2a2a2a" stroke-width="0.12">gp41.1</text>
<path d="M517.6,595.8 V565.82 A5.72,5.72 0 0 1 523.32,560.1 H524.88 A5.72,5.72 0 0 1 530.6,565.82 V595.8 Z" fill="#5fa87a" stroke="#2d5c40" stroke-width="0.6"/>
<text x="526.58" y="578.75" font-size="6.9" text-anchor="middle" font-weight="normal" fill="#1d3326" transform="rotate(-90 526.58 578.75)" stroke="#1d3326" stroke-width="0.12">Split GFP</text>
<circle cx="514.6" cy="592.5" r="3.2" fill="#4f9068" stroke="#1d3f2b" stroke-width="0.8"/>
<text x="514.6" y="593.9" font-size="4" text-anchor="middle" font-weight="normal" fill="#12281b">D</text>
<text x="510.2" y="591" font-size="5" text-anchor="middle" font-weight="normal" fill="#111" transform="rotate(-90 510.2 591)">173</text>
<circle cx="523.1" cy="606.1" r="3" fill="#fff" stroke="#4a5cc0" stroke-width="0.9"/>
<text x="523.1" y="607.45" font-size="3.75" text-anchor="middle" font-weight="normal" fill="#4a5cc0">S</text>
<text x="528.9" y="606.1" font-size="3" text-anchor="middle" font-weight="normal" fill="#333" transform="rotate(-90 528.9 606.1)">+1</text>
<circle cx="523.1" cy="599.4" r="3" fill="#fff" stroke="#4a5cc0" stroke-width="0.9"/>
<text x="523.1" y="600.75" font-size="3.75" text-anchor="middle" font-weight="normal" fill="#4a5cc0">E</text>
<text x="528.9" y="599.4" font-size="3" text-anchor="middle" font-weight="normal" fill="#333" transform="rotate(-90 528.9 599.4)">+2</text>
<path d="M517.6,609.7 H530.6 V635.8 H527.15 V643.8 H521.05 V635.8 H517.6 Z" fill="#82cbdc" stroke="#33596a" stroke-width="0.6"/>
<text x="526.55" y="622.75" font-size="6.8" text-anchor="middle" font-weight="normal" fill="#2a2a2a" transform="rotate(-90 526.55 622.75)" stroke="#2a2a2a" stroke-width="0.12">gp41.1</text>
<path d="M549.8,589.1 V559.12 A5.72,5.72 0 0 1 555.52,553.4 H557.08 A5.72,5.72 0 0 1 562.8,559.12 V589.1 Z" fill="#5fa87a" stroke="#2d5c40" stroke-width="0.6"/>
<text x="558.78" y="572.05" font-size="6.9" text-anchor="middle" font-weight="normal" fill="#1d3326" transform="rotate(-90 558.78 572.05)" stroke="#1d3326" stroke-width="0.12">Split GFP</text>
<circle cx="546.8" cy="585.8" r="3.2" fill="#4f9068" stroke="#1d3f2b" stroke-width="0.8"/>
<text x="546.8" y="587.2" font-size="4" text-anchor="middle" font-weight="normal" fill="#12281b">D</text>
<text x="542.4" y="584.3" font-size="5" text-anchor="middle" font-weight="normal" fill="#111" transform="rotate(-90 542.4 584.3)">173</text>
<circle cx="555.3" cy="606.1" r="3" fill="#fff" stroke="#4a5cc0" stroke-width="0.9"/>
<text x="555.3" y="607.45" font-size="3.75" text-anchor="middle" font-weight="normal" fill="#4a5cc0">S</text>
<text x="561.1" y="606.1" font-size="3" text-anchor="middle" font-weight="normal" fill="#333" transform="rotate(-90 561.1 606.1)">+1</text>
<circle cx="555.3" cy="599.4" r="3" fill="#fff" stroke="#4a5cc0" stroke-width="0.9"/>
<text x="555.3" y="600.75" font-size="3.75" text-anchor="middle" font-weight="normal" fill="#4a5cc0">E</text>
<text x="561.1" y="599.4" font-size="3" text-anchor="middle" font-weight="normal" fill="#333" transform="rotate(-90 561.1 599.4)">+2</text>
<circle cx="555.3" cy="592.7" r="3" fill="#fff" stroke="#4a5cc0" stroke-width="0.9"/>
<text x="555.3" y="594.05" font-size="3.75" text-anchor="middle" font-weight="normal" fill="#4a5cc0">K</text>
<text x="561.1" y="592.7" font-size="3" text-anchor="middle" font-weight="normal" fill="#333" transform="rotate(-90 561.1 592.7)">+3</text>
<path d="M549.8,609.7 H562.8 V635.8 H559.35 V643.8 H553.25 V635.8 H549.8 Z" fill="#82cbdc" stroke="#33596a" stroke-width="0.6"/>
<text x="558.75" y="622.75" font-size="6.8" text-anchor="middle" font-weight="normal" fill="#2a2a2a" transform="rotate(-90 558.75 622.75)" stroke="#2a2a2a" stroke-width="0.12">gp41.1</text>
<path d="M401.7,656.55 H374.75 A6.65,6.65 0 0 0 374.75,669.85 H401.7 Z" fill="#5fa87a" stroke="#2d5c40" stroke-width="0.6"/>
<text x="385.7" y="665.43" font-size="6.2" text-anchor="middle" font-weight="normal" fill="#1d3326" stroke="#1d3326" stroke-width="0.11">Split GFP</text>
<circle cx="398.7" cy="653.55" r="3.3" fill="#4f9068" stroke="#1d3f2b" stroke-width="0.8"/>
<text x="398.7" y="655.05" font-size="4" text-anchor="middle" font-weight="normal" fill="#12281b">E</text>
<text x="399" y="649.95" font-size="5" text-anchor="middle" font-weight="normal" fill="#111">172</text>
<path d="M401.7,656.55 H437 V660.2 H428 V666.2 H437 V669.85 H401.7 Z" fill="#82cbdc" stroke="#33596a" stroke-width="0.6"/>
<text x="414.85" y="665.36" font-size="6" text-anchor="middle" font-weight="normal" fill="#2a2a2a" stroke="#2a2a2a" stroke-width="0.11">gp41.1</text>
<path d="M394.35,683.75 H367.4 A6.65,6.65 0 0 0 367.4,697.05 H394.35 Z" fill="#5fa87a" stroke="#2d5c40" stroke-width="0.6"/>
<text x="378.35" y="692.63" font-size="6.2" text-anchor="middle" font-weight="normal" fill="#1d3326" stroke="#1d3326" stroke-width="0.11">Split GFP</text>
<circle cx="391.35" cy="680.75" r="3.3" fill="#4f9068" stroke="#1d3f2b" stroke-width="0.8"/>
<text x="391.35" y="682.25" font-size="4" text-anchor="middle" font-weight="normal" fill="#12281b">E</text>
<text x="391.65" y="677.15" font-size="5" text-anchor="middle" font-weight="normal" fill="#111">172</text>
<circle cx="397.55" cy="690.4" r="2.8" fill="#fff" stroke="#4a5cc0" stroke-width="0.9"/>
<text x="397.55" y="691.66" font-size="3.5" text-anchor="middle" font-weight="normal" fill="#4a5cc0">Y</text>
<text x="397.55" y="697.65" font-size="3" text-anchor="middle" font-weight="normal" fill="#333">-1</text>
<path d="M400.5,683.75 H437 V687.4 H428 V693.4 H437 V697.05 H400.5 Z" fill="#82cbdc" stroke="#33596a" stroke-width="0.6"/>
<text x="414.25" y="692.56" font-size="6" text-anchor="middle" font-weight="normal" fill="#2a2a2a" stroke="#2a2a2a" stroke-width="0.11">gp41.1</text>
<path d="M387.95,712.15 H361 A6.65,6.65 0 0 0 361,725.45 H387.95 Z" fill="#5fa87a" stroke="#2d5c40" stroke-width="0.6"/>
<text x="371.95" y="721.03" font-size="6.2" text-anchor="middle" font-weight="normal" fill="#1d3326" stroke="#1d3326" stroke-width="0.11">Split GFP</text>
<circle cx="384.95" cy="709.15" r="3.3" fill="#4f9068" stroke="#1d3f2b" stroke-width="0.8"/>
<text x="384.95" y="710.65" font-size="4" text-anchor="middle" font-weight="normal" fill="#12281b">E</text>
<text x="385.25" y="705.55" font-size="5" text-anchor="middle" font-weight="normal" fill="#111">172</text>
<circle cx="397.55" cy="718.8" r="2.8" fill="#fff" stroke="#4a5cc0" stroke-width="0.9"/>
<text x="397.55" y="720.06" font-size="3.5" text-anchor="middle" font-weight="normal" fill="#4a5cc0">Y</text>
<text x="397.55" y="726.05" font-size="3" text-anchor="middle" font-weight="normal" fill="#333">-1</text>
<circle cx="391.15" cy="718.8" r="2.8" fill="#fff" stroke="#4a5cc0" stroke-width="0.9"/>
<text x="391.15" y="720.06" font-size="3.5" text-anchor="middle" font-weight="normal" fill="#4a5cc0">G</text>
<text x="391.15" y="726.05" font-size="3" text-anchor="middle" font-weight="normal" fill="#333">-2</text>
<path d="M400.5,712.15 H437 V715.8 H428 V721.8 H437 V725.45 H400.5 Z" fill="#82cbdc" stroke="#33596a" stroke-width="0.6"/>
<text x="414.25" y="720.96" font-size="6" text-anchor="middle" font-weight="normal" fill="#2a2a2a" stroke="#2a2a2a" stroke-width="0.11">gp41.1</text>
<path d="M381.55,740.25 H354.6 A6.65,6.65 0 0 0 354.6,753.55 H381.55 Z" fill="#5fa87a" stroke="#2d5c40" stroke-width="0.6"/>
<text x="365.55" y="749.13" font-size="6.2" text-anchor="middle" font-weight="normal" fill="#1d3326" stroke="#1d3326" stroke-width="0.11">Split GFP</text>
<circle cx="378.55" cy="737.25" r="3.3" fill="#4f9068" stroke="#1d3f2b" stroke-width="0.8"/>
<text x="378.55" y="738.75" font-size="4" text-anchor="middle" font-weight="normal" fill="#12281b">E</text>
<text x="378.85" y="733.65" font-size="5" text-anchor="middle" font-weight="normal" fill="#111">172</text>
<circle cx="397.55" cy="746.9" r="2.8" fill="#fff" stroke="#4a5cc0" stroke-width="0.9"/>
<text x="397.55" y="748.16" font-size="3.5" text-anchor="middle" font-weight="normal" fill="#4a5cc0">Y</text>
<text x="397.55" y="754.15" font-size="3" text-anchor="middle" font-weight="normal" fill="#333">-1</text>
<circle cx="391.15" cy="746.9" r="2.8" fill="#fff" stroke="#4a5cc0" stroke-width="0.9"/>
<text x="391.15" y="748.16" font-size="3.5" text-anchor="middle" font-weight="normal" fill="#4a5cc0">G</text>
<text x="391.15" y="754.15" font-size="3" text-anchor="middle" font-weight="normal" fill="#333">-2</text>
<circle cx="384.75" cy="746.9" r="2.8" fill="#fff" stroke="#4a5cc0" stroke-width="0.9"/>
<text x="384.75" y="748.16" font-size="3.5" text-anchor="middle" font-weight="normal" fill="#4a5cc0">S</text>
<text x="384.75" y="754.15" font-size="3" text-anchor="middle" font-weight="normal" fill="#333">-3</text>
<path d="M400.5,740.25 H437 V743.9 H428 V749.9 H437 V753.55 H400.5 Z" fill="#82cbdc" stroke="#33596a" stroke-width="0.6"/>
<text x="414.25" y="749.06" font-size="6" text-anchor="middle" font-weight="normal" fill="#2a2a2a" stroke="#2a2a2a" stroke-width="0.11">gp41.1</text>
<rect x="443.6" y="647.6" width="32.45" height="27.8" fill="#bdc0c4"/>
<rect x="475.95" y="647.6" width="32.45" height="27.8" fill="#b6bfbe"/>
<rect x="508.3" y="647.6" width="32.45" height="27.8" fill="#9cbbab"/>
<rect x="540.65" y="647.6" width="32.45" height="27.8" fill="#a9bdb5"/>
<rect x="443.6" y="675.3" width="32.45" height="27.8" fill="#bdc0c4"/>
<rect x="475.95" y="675.3" width="32.45" height="27.8" fill="#b4bfbd"/>
<rect x="508.3" y="675.3" width="32.45" height="27.8" fill="#aebeb9"/>
<rect x="540.65" y="675.3" width="32.45" height="27.8" fill="#b2bebc"/>
<rect x="443.6" y="703" width="32.45" height="27.8" fill="#a9bdb5"/>
<rect x="475.95" y="703" width="32.45" height="27.8" fill="#7db794"/>
<rect x="508.3" y="703" width="32.45" height="27.8" fill="#98bba8"/>
<rect x="540.65" y="703" width="32.45" height="27.8" fill="#98bba8"/>
<rect x="443.6" y="730.7" width="32.45" height="27.8" fill="#98bba8"/>
<rect x="475.95" y="730.7" width="32.45" height="27.8" fill="#8db9a0"/>
<rect x="508.3" y="730.7" width="32.45" height="27.8" fill="#86b89b"/>
<rect x="540.65" y="730.7" width="32.45" height="27.8" fill="#84b899"/>
<line x1="443.6" y1="675.3" x2="573" y2="675.3" stroke="#0c1a10" stroke-width="1.1"/>
<line x1="443.6" y1="703" x2="573" y2="703" stroke="#0c1a10" stroke-width="1.1"/>
<line x1="443.6" y1="730.7" x2="573" y2="730.7" stroke="#0c1a10" stroke-width="1.1"/>
<line x1="475.95" y1="647.6" x2="475.95" y2="758.4" stroke="#0c1a10" stroke-width="1.1"/>
<line x1="508.3" y1="647.6" x2="508.3" y2="758.4" stroke="#0c1a10" stroke-width="1.1"/>
<line x1="540.65" y1="647.6" x2="540.65" y2="758.4" stroke="#0c1a10" stroke-width="1.1"/>
<rect x="443.6" y="647.6" width="129.4" height="110.8" fill="none" stroke="#0c1a10" stroke-width="1.5"/>
<text x="459.78" y="663.95" font-size="8.9" text-anchor="middle" font-weight="normal" fill="#10261a" stroke="#10261a" stroke-width="0.16">0</text>
<text x="492.12" y="663.95" font-size="8.9" text-anchor="middle" font-weight="normal" fill="#10261a" stroke="#10261a" stroke-width="0.16">4±2</text>
<text x="524.48" y="663.95" font-size="8.9" text-anchor="middle" font-weight="normal" fill="#10261a" stroke="#10261a" stroke-width="0.16">18±2</text>
<text x="556.83" y="663.95" font-size="8.9" text-anchor="middle" font-weight="normal" fill="#10261a" stroke="#10261a" stroke-width="0.16">11±2</text>
<text x="459.78" y="691.65" font-size="8.9" text-anchor="middle" font-weight="normal" fill="#10261a" stroke="#10261a" stroke-width="0.16">0</text>
<text x="492.12" y="691.65" font-size="8.9" text-anchor="middle" font-weight="normal" fill="#10261a" stroke="#10261a" stroke-width="0.16">5±1</text>
<text x="524.48" y="691.65" font-size="8.9" text-anchor="middle" font-weight="normal" fill="#10261a" stroke="#10261a" stroke-width="0.16">8±2</text>
<text x="556.83" y="691.65" font-size="8.9" text-anchor="middle" font-weight="normal" fill="#10261a" stroke="#10261a" stroke-width="0.16">6±1</text>
<text x="459.78" y="719.35" font-size="8.9" text-anchor="middle" font-weight="normal" fill="#10261a" stroke="#10261a" stroke-width="0.16">11±4</text>
<text x="492.12" y="719.35" font-size="8.9" text-anchor="middle" font-weight="normal" fill="#10261a" stroke="#10261a" stroke-width="0.16">35±7</text>
<text x="524.48" y="719.35" font-size="8.9" text-anchor="middle" font-weight="normal" fill="#10261a" stroke="#10261a" stroke-width="0.16">20±4</text>
<text x="556.83" y="719.35" font-size="8.9" text-anchor="middle" font-weight="normal" fill="#10261a" stroke="#10261a" stroke-width="0.16">20±3</text>
<text x="459.78" y="747.05" font-size="8.9" text-anchor="middle" font-weight="normal" fill="#10261a" stroke="#10261a" stroke-width="0.16">20±7</text>
<text x="492.12" y="747.05" font-size="8.9" text-anchor="middle" font-weight="normal" fill="#10261a" stroke="#10261a" stroke-width="0.16">26±5</text>
<text x="524.48" y="747.05" font-size="8.9" text-anchor="middle" font-weight="normal" fill="#10261a" stroke="#10261a" stroke-width="0.16">30±2</text>
<text x="556.83" y="747.05" font-size="8.9" text-anchor="middle" font-weight="normal" fill="#10261a" stroke="#10261a" stroke-width="0.16">31±11</text>
<path d="M192.15,819.3 V789.32 A5.72,5.72 0 0 1 197.87,783.6 H199.43 A5.72,5.72 0 0 1 205.15,789.32 V819.3 Z" fill="#5fa87a" stroke="#2d5c40" stroke-width="0.6"/>
<text x="201.13" y="802.25" font-size="6.9" text-anchor="middle" font-weight="normal" fill="#1d3326" transform="rotate(-90 201.13 802.25)" stroke="#1d3326" stroke-width="0.12">Split GFP</text>
<circle cx="189.15" cy="816" r="3.2" fill="#4f9068" stroke="#1d3f2b" stroke-width="0.8"/>
<text x="189.15" y="817.4" font-size="4" text-anchor="middle" font-weight="normal" fill="#12281b">D</text>
<text x="184.75" y="814.5" font-size="5" text-anchor="middle" font-weight="normal" fill="#111" transform="rotate(-90 184.75 814.5)">173</text>
<path d="M192.15,819.3 H205.15 V846.9 H201.05 A4,4 0 1 1 196.25,846.9 H192.15 Z" fill="#f0bd68" stroke="#5f4a22" stroke-width="0.6"/>
<text x="200.81" y="833.1" font-size="6" text-anchor="middle" font-weight="normal" fill="#2a2a2a" transform="rotate(-90 200.81 833.1)" stroke="#2a2a2a" stroke-width="0.11">IMPDH</text>
<path d="M225.3,812.1 V782.12 A5.72,5.72 0 0 1 231.02,776.4 H232.58 A5.72,5.72 0 0 1 238.3,782.12 V812.1 Z" fill="#5fa87a" stroke="#2d5c40" stroke-width="0.6"/>
<text x="234.28" y="795.05" font-size="6.9" text-anchor="middle" font-weight="normal" fill="#1d3326" transform="rotate(-90 234.28 795.05)" stroke="#1d3326" stroke-width="0.12">Split GFP</text>
<circle cx="222.3" cy="808.8" r="3.2" fill="#4f9068" stroke="#1d3f2b" stroke-width="0.8"/>
<text x="222.3" y="810.2" font-size="4" text-anchor="middle" font-weight="normal" fill="#12281b">D</text>
<text x="217.9" y="807.3" font-size="5" text-anchor="middle" font-weight="normal" fill="#111" transform="rotate(-90 217.9 807.3)">173</text>
<circle cx="230.8" cy="815.7" r="3" fill="#fff" stroke="#9a6a28" stroke-width="0.9"/>
<text x="230.8" y="817.05" font-size="3.75" text-anchor="middle" font-weight="normal" fill="#9a6a28">S</text>
<text x="236.6" y="815.7" font-size="3" text-anchor="middle" font-weight="normal" fill="#333" transform="rotate(-90 236.6 815.7)">+1</text>
<path d="M225.3,819.3 H238.3 V846.9 H234.2 A4,4 0 1 1 229.4,846.9 H225.3 Z" fill="#f0bd68" stroke="#5f4a22" stroke-width="0.6"/>
<text x="233.96" y="833.1" font-size="6" text-anchor="middle" font-weight="normal" fill="#2a2a2a" transform="rotate(-90 233.96 833.1)" stroke="#2a2a2a" stroke-width="0.11">IMPDH</text>
<path d="M258.15,805.4 V775.42 A5.72,5.72 0 0 1 263.87,769.7 H265.43 A5.72,5.72 0 0 1 271.15,775.42 V805.4 Z" fill="#5fa87a" stroke="#2d5c40" stroke-width="0.6"/>
<text x="267.13" y="788.35" font-size="6.9" text-anchor="middle" font-weight="normal" fill="#1d3326" transform="rotate(-90 267.13 788.35)" stroke="#1d3326" stroke-width="0.12">Split GFP</text>
<circle cx="255.15" cy="802.1" r="3.2" fill="#4f9068" stroke="#1d3f2b" stroke-width="0.8"/>
<text x="255.15" y="803.5" font-size="4" text-anchor="middle" font-weight="normal" fill="#12281b">D</text>
<text x="250.75" y="800.6" font-size="5" text-anchor="middle" font-weight="normal" fill="#111" transform="rotate(-90 250.75 800.6)">173</text>
<circle cx="263.65" cy="815.7" r="3" fill="#fff" stroke="#9a6a28" stroke-width="0.9"/>
<text x="263.65" y="817.05" font-size="3.75" text-anchor="middle" font-weight="normal" fill="#9a6a28">S</text>
<text x="269.45" y="815.7" font-size="3" text-anchor="middle" font-weight="normal" fill="#333" transform="rotate(-90 269.45 815.7)">+1</text>
<circle cx="263.65" cy="809" r="3" fill="#fff" stroke="#9a6a28" stroke-width="0.9"/>
<text x="263.65" y="810.35" font-size="3.75" text-anchor="middle" font-weight="normal" fill="#9a6a28">I</text>
<text x="269.45" y="809" font-size="3" text-anchor="middle" font-weight="normal" fill="#333" transform="rotate(-90 269.45 809)">+2</text>
<path d="M258.15,819.3 H271.15 V846.9 H267.05 A4,4 0 1 1 262.25,846.9 H258.15 Z" fill="#f0bd68" stroke="#5f4a22" stroke-width="0.6"/>
<text x="266.81" y="833.1" font-size="6" text-anchor="middle" font-weight="normal" fill="#2a2a2a" transform="rotate(-90 266.81 833.1)" stroke="#2a2a2a" stroke-width="0.11">IMPDH</text>
<path d="M291.35,798.7 V768.72 A5.72,5.72 0 0 1 297.07,763 H298.63 A5.72,5.72 0 0 1 304.35,768.72 V798.7 Z" fill="#5fa87a" stroke="#2d5c40" stroke-width="0.6"/>
<text x="300.33" y="781.65" font-size="6.9" text-anchor="middle" font-weight="normal" fill="#1d3326" transform="rotate(-90 300.33 781.65)" stroke="#1d3326" stroke-width="0.12">Split GFP</text>
<circle cx="288.35" cy="795.4" r="3.2" fill="#4f9068" stroke="#1d3f2b" stroke-width="0.8"/>
<text x="288.35" y="796.8" font-size="4" text-anchor="middle" font-weight="normal" fill="#12281b">D</text>
<text x="283.95" y="793.9" font-size="5" text-anchor="middle" font-weight="normal" fill="#111" transform="rotate(-90 283.95 793.9)">173</text>
<circle cx="296.85" cy="815.7" r="3" fill="#fff" stroke="#9a6a28" stroke-width="0.9"/>
<text x="296.85" y="817.05" font-size="3.75" text-anchor="middle" font-weight="normal" fill="#9a6a28">S</text>
<text x="302.65" y="815.7" font-size="3" text-anchor="middle" font-weight="normal" fill="#333" transform="rotate(-90 302.65 815.7)">+1</text>
<circle cx="296.85" cy="809" r="3" fill="#fff" stroke="#9a6a28" stroke-width="0.9"/>
<text x="296.85" y="810.35" font-size="3.75" text-anchor="middle" font-weight="normal" fill="#9a6a28">I</text>
<text x="302.65" y="809" font-size="3" text-anchor="middle" font-weight="normal" fill="#333" transform="rotate(-90 302.65 809)">+2</text>
<circle cx="296.85" cy="802.3" r="3" fill="#fff" stroke="#9a6a28" stroke-width="0.9"/>
<text x="296.85" y="803.65" font-size="3.75" text-anchor="middle" font-weight="normal" fill="#9a6a28">C</text>
<text x="302.65" y="802.3" font-size="3" text-anchor="middle" font-weight="normal" fill="#333" transform="rotate(-90 302.65 802.3)">+3</text>
<path d="M291.35,819.3 H304.35 V846.9 H300.25 A4,4 0 1 1 295.45,846.9 H291.35 Z" fill="#f0bd68" stroke="#5f4a22" stroke-width="0.6"/>
<text x="300.01" y="833.1" font-size="6" text-anchor="middle" font-weight="normal" fill="#2a2a2a" transform="rotate(-90 300.01 833.1)" stroke="#2a2a2a" stroke-width="0.11">IMPDH</text>
<path d="M144.7,862.85 H117.75 A6.65,6.65 0 0 0 117.75,876.15 H144.7 Z" fill="#5fa87a" stroke="#2d5c40" stroke-width="0.6"/>
<text x="128.7" y="871.73" font-size="6.2" text-anchor="middle" font-weight="normal" fill="#1d3326" stroke="#1d3326" stroke-width="0.11">Split GFP</text>
<circle cx="141.7" cy="859.85" r="3.3" fill="#4f9068" stroke="#1d3f2b" stroke-width="0.8"/>
<text x="141.7" y="861.35" font-size="4" text-anchor="middle" font-weight="normal" fill="#12281b">E</text>
<text x="142" y="856.25" font-size="5" text-anchor="middle" font-weight="normal" fill="#111">172</text>
<path d="M144.7,862.85 H180 V866.9 A4,4 0 1 0 180,872.1 V876.15 H144.7 Z" fill="#f0bd68" stroke="#5f4a22" stroke-width="0.6"/>
<text x="158.15" y="871.66" font-size="6" text-anchor="middle" font-weight="normal" fill="#2a2a2a" stroke="#2a2a2a" stroke-width="0.11">IMPDH</text>
<path d="M139.8,891.05 H112.85 A6.65,6.65 0 0 0 112.85,904.35 H139.8 Z" fill="#5fa87a" stroke="#2d5c40" stroke-width="0.6"/>
<text x="123.8" y="899.93" font-size="6.2" text-anchor="middle" font-weight="normal" fill="#1d3326" stroke="#1d3326" stroke-width="0.11">Split GFP</text>
<circle cx="136.8" cy="888.05" r="3.3" fill="#4f9068" stroke="#1d3f2b" stroke-width="0.8"/>
<text x="136.8" y="889.55" font-size="4" text-anchor="middle" font-weight="normal" fill="#12281b">E</text>
<text x="137.1" y="884.45" font-size="5" text-anchor="middle" font-weight="normal" fill="#111">172</text>
<circle cx="142.5" cy="897.7" r="2.8" fill="#fff" stroke="#9a6a28" stroke-width="0.9"/>
<text x="142.5" y="898.96" font-size="3.5" text-anchor="middle" font-weight="normal" fill="#9a6a28">G</text>
<text x="142.5" y="904.95" font-size="3" text-anchor="middle" font-weight="normal" fill="#333">-1</text>
<path d="M145.3,891.05 H180 V895.1 A4,4 0 1 0 180,900.3 V904.35 H145.3 Z" fill="#f0bd68" stroke="#5f4a22" stroke-width="0.6"/>
<text x="158.45" y="899.86" font-size="6" text-anchor="middle" font-weight="normal" fill="#2a2a2a" stroke="#2a2a2a" stroke-width="0.11">IMPDH</text>
<path d="M133.4,918.65 H106.45 A6.65,6.65 0 0 0 106.45,931.95 H133.4 Z" fill="#5fa87a" stroke="#2d5c40" stroke-width="0.6"/>
<text x="117.4" y="927.53" font-size="6.2" text-anchor="middle" font-weight="normal" fill="#1d3326" stroke="#1d3326" stroke-width="0.11">Split GFP</text>
<circle cx="130.4" cy="915.65" r="3.3" fill="#4f9068" stroke="#1d3f2b" stroke-width="0.8"/>
<text x="130.4" y="917.15" font-size="4" text-anchor="middle" font-weight="normal" fill="#12281b">E</text>
<text x="130.7" y="912.05" font-size="5" text-anchor="middle" font-weight="normal" fill="#111">172</text>
<circle cx="142.5" cy="925.3" r="2.8" fill="#fff" stroke="#9a6a28" stroke-width="0.9"/>
<text x="142.5" y="926.56" font-size="3.5" text-anchor="middle" font-weight="normal" fill="#9a6a28">G</text>
<text x="142.5" y="932.55" font-size="3" text-anchor="middle" font-weight="normal" fill="#333">-1</text>
<circle cx="136.1" cy="925.3" r="2.8" fill="#fff" stroke="#9a6a28" stroke-width="0.9"/>
<text x="136.1" y="926.56" font-size="3.5" text-anchor="middle" font-weight="normal" fill="#9a6a28">G</text>
<text x="136.1" y="932.55" font-size="3" text-anchor="middle" font-weight="normal" fill="#333">-2</text>
<path d="M145.3,918.65 H180 V922.7 A4,4 0 1 0 180,927.9 V931.95 H145.3 Z" fill="#f0bd68" stroke="#5f4a22" stroke-width="0.6"/>
<text x="158.45" y="927.46" font-size="6" text-anchor="middle" font-weight="normal" fill="#2a2a2a" stroke="#2a2a2a" stroke-width="0.11">IMPDH</text>
<path d="M127,947.25 H100.05 A6.65,6.65 0 0 0 100.05,960.55 H127 Z" fill="#5fa87a" stroke="#2d5c40" stroke-width="0.6"/>
<text x="111" y="956.13" font-size="6.2" text-anchor="middle" font-weight="normal" fill="#1d3326" stroke="#1d3326" stroke-width="0.11">Split GFP</text>
<circle cx="124" cy="944.25" r="3.3" fill="#4f9068" stroke="#1d3f2b" stroke-width="0.8"/>
<text x="124" y="945.75" font-size="4" text-anchor="middle" font-weight="normal" fill="#12281b">E</text>
<text x="124.3" y="940.65" font-size="5" text-anchor="middle" font-weight="normal" fill="#111">172</text>
<circle cx="142.5" cy="953.9" r="2.8" fill="#fff" stroke="#9a6a28" stroke-width="0.9"/>
<text x="142.5" y="955.16" font-size="3.5" text-anchor="middle" font-weight="normal" fill="#9a6a28">G</text>
<text x="142.5" y="961.15" font-size="3" text-anchor="middle" font-weight="normal" fill="#333">-1</text>
<circle cx="136.1" cy="953.9" r="2.8" fill="#fff" stroke="#9a6a28" stroke-width="0.9"/>
<text x="136.1" y="955.16" font-size="3.5" text-anchor="middle" font-weight="normal" fill="#9a6a28">G</text>
<text x="136.1" y="961.15" font-size="3" text-anchor="middle" font-weight="normal" fill="#333">-2</text>
<circle cx="129.7" cy="953.9" r="2.8" fill="#fff" stroke="#9a6a28" stroke-width="0.9"/>
<text x="129.7" y="955.16" font-size="3.5" text-anchor="middle" font-weight="normal" fill="#9a6a28">G</text>
<text x="129.7" y="961.15" font-size="3" text-anchor="middle" font-weight="normal" fill="#333">-3</text>
<path d="M145.3,947.25 H180 V951.3 A4,4 0 1 0 180,956.5 V960.55 H145.3 Z" fill="#f0bd68" stroke="#5f4a22" stroke-width="0.6"/>
<text x="158.45" y="956.06" font-size="6" text-anchor="middle" font-weight="normal" fill="#2a2a2a" stroke="#2a2a2a" stroke-width="0.11">IMPDH</text>
<rect x="183.4" y="857.2" width="32.58" height="27.65" fill="#bdc0c4"/>
<rect x="215.88" y="857.2" width="32.58" height="27.65" fill="#bdc0c4"/>
<rect x="248.35" y="857.2" width="32.58" height="27.65" fill="#bdc0c4"/>
<rect x="280.83" y="857.2" width="32.58" height="27.65" fill="#bdc0c4"/>
<rect x="183.4" y="884.75" width="32.58" height="27.65" fill="#bbc0c3"/>
<rect x="215.88" y="884.75" width="32.58" height="27.65" fill="#53b174"/>
<rect x="248.35" y="884.75" width="32.58" height="27.65" fill="#5ab279"/>
<rect x="280.83" y="884.75" width="32.58" height="27.65" fill="#a9bdb5"/>
<rect x="183.4" y="912.3" width="32.58" height="27.65" fill="#a2bcaf"/>
<rect x="215.88" y="912.3" width="32.58" height="27.65" fill="#7fb795"/>
<rect x="248.35" y="912.3" width="32.58" height="27.65" fill="#77b690"/>
<rect x="280.83" y="912.3" width="32.58" height="27.65" fill="#a0bcae"/>
<rect x="183.4" y="939.85" width="32.58" height="27.65" fill="#55b175"/>
<rect x="215.88" y="939.85" width="32.58" height="27.65" fill="#76b68e"/>
<rect x="248.35" y="939.85" width="32.58" height="27.65" fill="#a5bdb2"/>
<rect x="280.83" y="939.85" width="32.58" height="27.65" fill="#adbeb8"/>
<line x1="183.4" y1="884.75" x2="313.3" y2="884.75" stroke="#0c1a10" stroke-width="1.1"/>
<line x1="183.4" y1="912.3" x2="313.3" y2="912.3" stroke="#0c1a10" stroke-width="1.1"/>
<line x1="183.4" y1="939.85" x2="313.3" y2="939.85" stroke="#0c1a10" stroke-width="1.1"/>
<line x1="215.88" y1="857.2" x2="215.88" y2="967.4" stroke="#0c1a10" stroke-width="1.1"/>
<line x1="248.35" y1="857.2" x2="248.35" y2="967.4" stroke="#0c1a10" stroke-width="1.1"/>
<line x1="280.83" y1="857.2" x2="280.83" y2="967.4" stroke="#0c1a10" stroke-width="1.1"/>
<rect x="183.4" y="857.2" width="129.9" height="110.2" fill="none" stroke="#0c1a10" stroke-width="1.5"/>
<text x="199.64" y="873.48" font-size="8.9" text-anchor="middle" font-weight="normal" fill="#10261a" stroke="#10261a" stroke-width="0.16">0</text>
<text x="232.11" y="873.48" font-size="8.9" text-anchor="middle" font-weight="normal" fill="#10261a" stroke="#10261a" stroke-width="0.16">0</text>
<text x="264.59" y="873.48" font-size="8.9" text-anchor="middle" font-weight="normal" fill="#10261a" stroke="#10261a" stroke-width="0.16">0</text>
<text x="297.06" y="873.48" font-size="8.9" text-anchor="middle" font-weight="normal" fill="#10261a" stroke="#10261a" stroke-width="0.16">0</text>
<text x="199.64" y="901.03" font-size="8.9" text-anchor="middle" font-weight="normal" fill="#10261a" stroke="#10261a" stroke-width="0.16">1±0</text>
<text x="232.11" y="901.03" font-size="8.9" text-anchor="middle" font-weight="normal" fill="#10261a" stroke="#10261a" stroke-width="0.16">58±15</text>
<text x="264.59" y="901.03" font-size="8.9" text-anchor="middle" font-weight="normal" fill="#10261a" stroke="#10261a" stroke-width="0.16">54±4</text>
<text x="297.06" y="901.03" font-size="8.9" text-anchor="middle" font-weight="normal" fill="#10261a" stroke="#10261a" stroke-width="0.16">11±5</text>
<text x="199.64" y="928.58" font-size="8.9" text-anchor="middle" font-weight="normal" fill="#10261a" stroke="#10261a" stroke-width="0.16">15±7</text>
<text x="232.11" y="928.58" font-size="8.9" text-anchor="middle" font-weight="normal" fill="#10261a" stroke="#10261a" stroke-width="0.16">34±18</text>
<text x="264.59" y="928.58" font-size="8.9" text-anchor="middle" font-weight="normal" fill="#10261a" stroke="#10261a" stroke-width="0.16">38±10</text>
<text x="297.06" y="928.58" font-size="8.9" text-anchor="middle" font-weight="normal" fill="#10261a" stroke="#10261a" stroke-width="0.16">16±3</text>
<text x="199.64" y="956.13" font-size="8.9" text-anchor="middle" font-weight="normal" fill="#10261a" stroke="#10261a" stroke-width="0.16">57±7</text>
<text x="232.11" y="956.13" font-size="8.9" text-anchor="middle" font-weight="normal" fill="#10261a" stroke="#10261a" stroke-width="0.16">39±12</text>
<text x="264.59" y="956.13" font-size="8.9" text-anchor="middle" font-weight="normal" fill="#10261a" stroke="#10261a" stroke-width="0.16">13±8</text>
<text x="297.06" y="956.13" font-size="8.9" text-anchor="middle" font-weight="normal" fill="#10261a" stroke="#10261a" stroke-width="0.16">9±4</text>
<path d="M452.6,823.8 V793.82 A5.72,5.72 0 0 1 458.32,788.1 H459.88 A5.72,5.72 0 0 1 465.6,793.82 V823.8 Z" fill="#5fa87a" stroke="#2d5c40" stroke-width="0.6"/>
<text x="461.58" y="806.75" font-size="6.9" text-anchor="middle" font-weight="normal" fill="#1d3326" transform="rotate(-90 461.58 806.75)" stroke="#1d3326" stroke-width="0.12">Split GFP</text>
<circle cx="449.6" cy="820.5" r="3.2" fill="#4f9068" stroke="#1d3f2b" stroke-width="0.8"/>
<text x="449.6" y="821.9" font-size="4" text-anchor="middle" font-weight="normal" fill="#12281b">D</text>
<text x="445.2" y="819" font-size="5" text-anchor="middle" font-weight="normal" fill="#111" transform="rotate(-90 445.2 819)">173</text>
<path d="M452.6,823.8 H465.6 V848.9 L462.35,855.7 L459.1,848.3 L455.85,855.7 L452.6,848.9 Z" fill="#cbb0d8" stroke="#4d3e5a" stroke-width="0.6"/>
<text x="461.4" y="836.35" font-size="6.4" text-anchor="middle" font-weight="normal" fill="#2a2a2a" transform="rotate(-90 461.4 836.35)" stroke="#2a2a2a" stroke-width="0.12">Nrdj-1</text>
<path d="M484.9,816.6 V786.62 A5.72,5.72 0 0 1 490.62,780.9 H492.18 A5.72,5.72 0 0 1 497.9,786.62 V816.6 Z" fill="#5fa87a" stroke="#2d5c40" stroke-width="0.6"/>
<text x="493.88" y="799.55" font-size="6.9" text-anchor="middle" font-weight="normal" fill="#1d3326" transform="rotate(-90 493.88 799.55)" stroke="#1d3326" stroke-width="0.12">Split GFP</text>
<circle cx="481.9" cy="813.3" r="3.2" fill="#4f9068" stroke="#1d3f2b" stroke-width="0.8"/>
<text x="481.9" y="814.7" font-size="4" text-anchor="middle" font-weight="normal" fill="#12281b">D</text>
<text x="477.5" y="811.8" font-size="5" text-anchor="middle" font-weight="normal" fill="#111" transform="rotate(-90 477.5 811.8)">173</text>
<circle cx="490.4" cy="820.2" r="3" fill="#fff" stroke="#7b2fa0" stroke-width="0.9"/>
<text x="490.4" y="821.55" font-size="3.75" text-anchor="middle" font-weight="normal" fill="#7b2fa0">S</text>
<text x="496.2" y="820.2" font-size="3" text-anchor="middle" font-weight="normal" fill="#333" transform="rotate(-90 496.2 820.2)">+1</text>
<path d="M484.9,823.8 H497.9 V848.9 L494.65,855.7 L491.4,848.3 L488.15,855.7 L484.9,848.9 Z" fill="#cbb0d8" stroke="#4d3e5a" stroke-width="0.6"/>
<text x="493.7" y="836.35" font-size="6.4" text-anchor="middle" font-weight="normal" fill="#2a2a2a" transform="rotate(-90 493.7 836.35)" stroke="#2a2a2a" stroke-width="0.12">Nrdj-1</text>
<path d="M517.1,809.9 V779.92 A5.72,5.72 0 0 1 522.82,774.2 H524.38 A5.72,5.72 0 0 1 530.1,779.92 V809.9 Z" fill="#5fa87a" stroke="#2d5c40" stroke-width="0.6"/>
<text x="526.08" y="792.85" font-size="6.9" text-anchor="middle" font-weight="normal" fill="#1d3326" transform="rotate(-90 526.08 792.85)" stroke="#1d3326" stroke-width="0.12">Split GFP</text>
<circle cx="514.1" cy="806.6" r="3.2" fill="#4f9068" stroke="#1d3f2b" stroke-width="0.8"/>
<text x="514.1" y="808" font-size="4" text-anchor="middle" font-weight="normal" fill="#12281b">D</text>
<text x="509.7" y="805.1" font-size="5" text-anchor="middle" font-weight="normal" fill="#111" transform="rotate(-90 509.7 805.1)">173</text>
<circle cx="522.6" cy="820.2" r="3" fill="#fff" stroke="#7b2fa0" stroke-width="0.9"/>
<text x="522.6" y="821.55" font-size="3.75" text-anchor="middle" font-weight="normal" fill="#7b2fa0">S</text>
<text x="528.4" y="820.2" font-size="3" text-anchor="middle" font-weight="normal" fill="#333" transform="rotate(-90 528.4 820.2)">+1</text>
<circle cx="522.6" cy="813.5" r="3" fill="#fff" stroke="#7b2fa0" stroke-width="0.9"/>
<text x="522.6" y="814.85" font-size="3.75" text-anchor="middle" font-weight="normal" fill="#7b2fa0">E</text>
<text x="528.4" y="813.5" font-size="3" text-anchor="middle" font-weight="normal" fill="#333" transform="rotate(-90 528.4 813.5)">+2</text>
<path d="M517.1,823.8 H530.1 V848.9 L526.85,855.7 L523.6,848.3 L520.35,855.7 L517.1,848.9 Z" fill="#cbb0d8" stroke="#4d3e5a" stroke-width="0.6"/>
<text x="525.9" y="836.35" font-size="6.4" text-anchor="middle" font-weight="normal" fill="#2a2a2a" transform="rotate(-90 525.9 836.35)" stroke="#2a2a2a" stroke-width="0.12">Nrdj-1</text>
<path d="M550,803.2 V773.22 A5.72,5.72 0 0 1 555.72,767.5 H557.28 A5.72,5.72 0 0 1 563,773.22 V803.2 Z" fill="#5fa87a" stroke="#2d5c40" stroke-width="0.6"/>
<text x="558.98" y="786.15" font-size="6.9" text-anchor="middle" font-weight="normal" fill="#1d3326" transform="rotate(-90 558.98 786.15)" stroke="#1d3326" stroke-width="0.12">Split GFP</text>
<circle cx="547" cy="799.9" r="3.2" fill="#4f9068" stroke="#1d3f2b" stroke-width="0.8"/>
<text x="547" y="801.3" font-size="4" text-anchor="middle" font-weight="normal" fill="#12281b">D</text>
<text x="542.6" y="798.4" font-size="5" text-anchor="middle" font-weight="normal" fill="#111" transform="rotate(-90 542.6 798.4)">173</text>
<circle cx="555.5" cy="820.2" r="3" fill="#fff" stroke="#7b2fa0" stroke-width="0.9"/>
<text x="555.5" y="821.55" font-size="3.75" text-anchor="middle" font-weight="normal" fill="#7b2fa0">S</text>
<text x="561.3" y="820.2" font-size="3" text-anchor="middle" font-weight="normal" fill="#333" transform="rotate(-90 561.3 820.2)">+1</text>
<circle cx="555.5" cy="813.5" r="3" fill="#fff" stroke="#7b2fa0" stroke-width="0.9"/>
<text x="555.5" y="814.85" font-size="3.75" text-anchor="middle" font-weight="normal" fill="#7b2fa0">E</text>
<text x="561.3" y="813.5" font-size="3" text-anchor="middle" font-weight="normal" fill="#333" transform="rotate(-90 561.3 813.5)">+2</text>
<circle cx="555.5" cy="806.8" r="3" fill="#fff" stroke="#7b2fa0" stroke-width="0.9"/>
<text x="555.5" y="808.15" font-size="3.75" text-anchor="middle" font-weight="normal" fill="#7b2fa0">I</text>
<text x="561.3" y="806.8" font-size="3" text-anchor="middle" font-weight="normal" fill="#333" transform="rotate(-90 561.3 806.8)">+3</text>
<path d="M550,823.8 H563 V848.9 L559.75,855.7 L556.5,848.3 L553.25,855.7 L550,848.9 Z" fill="#cbb0d8" stroke="#4d3e5a" stroke-width="0.6"/>
<text x="558.8" y="836.35" font-size="6.4" text-anchor="middle" font-weight="normal" fill="#2a2a2a" transform="rotate(-90 558.8 836.35)" stroke="#2a2a2a" stroke-width="0.12">Nrdj-1</text>
<path d="M407.8,864.35 H380.85 A6.65,6.65 0 0 0 380.85,877.65 H407.8 Z" fill="#5fa87a" stroke="#2d5c40" stroke-width="0.6"/>
<text x="391.8" y="873.23" font-size="6.2" text-anchor="middle" font-weight="normal" fill="#1d3326" stroke="#1d3326" stroke-width="0.11">Split GFP</text>
<circle cx="404.8" cy="861.35" r="3.3" fill="#4f9068" stroke="#1d3f2b" stroke-width="0.8"/>
<text x="404.8" y="862.85" font-size="4" text-anchor="middle" font-weight="normal" fill="#12281b">E</text>
<text x="405.1" y="857.75" font-size="5" text-anchor="middle" font-weight="normal" fill="#111">172</text>
<path d="M407.8,864.35 H439.4 L433.8,867.67 L438.8,871 L433.8,874.33 L439.4,877.65 H407.8 Z" fill="#cbb0d8" stroke="#4d3e5a" stroke-width="0.6"/>
<text x="420.2" y="873.16" font-size="6" text-anchor="middle" font-weight="normal" fill="#2a2a2a" stroke="#2a2a2a" stroke-width="0.11">Nrdj-1</text>
<path d="M401.6,895.35 H374.65 A6.65,6.65 0 0 0 374.65,908.65 H401.6 Z" fill="#5fa87a" stroke="#2d5c40" stroke-width="0.6"/>
<text x="385.6" y="904.23" font-size="6.2" text-anchor="middle" font-weight="normal" fill="#1d3326" stroke="#1d3326" stroke-width="0.11">Split GFP</text>
<circle cx="398.6" cy="892.35" r="3.3" fill="#4f9068" stroke="#1d3f2b" stroke-width="0.8"/>
<text x="398.6" y="893.85" font-size="4" text-anchor="middle" font-weight="normal" fill="#12281b">E</text>
<text x="398.9" y="888.75" font-size="5" text-anchor="middle" font-weight="normal" fill="#111">172</text>
<circle cx="404.6" cy="902" r="2.8" fill="#fff" stroke="#7b2fa0" stroke-width="0.9"/>
<text x="404.6" y="903.26" font-size="3.5" text-anchor="middle" font-weight="normal" fill="#7b2fa0">C</text>
<text x="404.6" y="909.25" font-size="3" text-anchor="middle" font-weight="normal" fill="#333">-1</text>
<path d="M407.8,895.35 H439.4 L433.8,898.67 L438.8,902 L433.8,905.33 L439.4,908.65 H407.8 Z" fill="#cbb0d8" stroke="#4d3e5a" stroke-width="0.6"/>
<text x="420.2" y="904.16" font-size="6" text-anchor="middle" font-weight="normal" fill="#2a2a2a" stroke="#2a2a2a" stroke-width="0.11">Nrdj-1</text>
<path d="M395.5,920.85 H368.55 A6.65,6.65 0 0 0 368.55,934.15 H395.5 Z" fill="#5fa87a" stroke="#2d5c40" stroke-width="0.6"/>
<text x="379.5" y="929.73" font-size="6.2" text-anchor="middle" font-weight="normal" fill="#1d3326" stroke="#1d3326" stroke-width="0.11">Split GFP</text>
<circle cx="392.5" cy="917.85" r="3.3" fill="#4f9068" stroke="#1d3f2b" stroke-width="0.8"/>
<text x="392.5" y="919.35" font-size="4" text-anchor="middle" font-weight="normal" fill="#12281b">E</text>
<text x="392.8" y="914.25" font-size="5" text-anchor="middle" font-weight="normal" fill="#111">172</text>
<circle cx="404.6" cy="927.5" r="2.8" fill="#fff" stroke="#7b2fa0" stroke-width="0.9"/>
<text x="404.6" y="928.76" font-size="3.5" text-anchor="middle" font-weight="normal" fill="#7b2fa0">C</text>
<text x="404.6" y="934.75" font-size="3" text-anchor="middle" font-weight="normal" fill="#333">-1</text>
<circle cx="398.5" cy="927.5" r="2.8" fill="#fff" stroke="#7b2fa0" stroke-width="0.9"/>
<text x="398.5" y="928.76" font-size="3.5" text-anchor="middle" font-weight="normal" fill="#7b2fa0">P</text>
<text x="398.5" y="934.75" font-size="3" text-anchor="middle" font-weight="normal" fill="#333">-2</text>
<path d="M407.8,920.85 H439.4 L433.8,924.17 L438.8,927.5 L433.8,930.83 L439.4,934.15 H407.8 Z" fill="#cbb0d8" stroke="#4d3e5a" stroke-width="0.6"/>
<text x="420.2" y="929.66" font-size="6" text-anchor="middle" font-weight="normal" fill="#2a2a2a" stroke="#2a2a2a" stroke-width="0.11">Nrdj-1</text>
<path d="M389.4,948.55 H362.45 A6.65,6.65 0 0 0 362.45,961.85 H389.4 Z" fill="#5fa87a" stroke="#2d5c40" stroke-width="0.6"/>
<text x="373.4" y="957.43" font-size="6.2" text-anchor="middle" font-weight="normal" fill="#1d3326" stroke="#1d3326" stroke-width="0.11">Split GFP</text>
<circle cx="386.4" cy="945.55" r="3.3" fill="#4f9068" stroke="#1d3f2b" stroke-width="0.8"/>
<text x="386.4" y="947.05" font-size="4" text-anchor="middle" font-weight="normal" fill="#12281b">E</text>
<text x="386.7" y="941.95" font-size="5" text-anchor="middle" font-weight="normal" fill="#111">172</text>
<circle cx="404.6" cy="955.2" r="2.8" fill="#fff" stroke="#7b2fa0" stroke-width="0.9"/>
<text x="404.6" y="956.46" font-size="3.5" text-anchor="middle" font-weight="normal" fill="#7b2fa0">C</text>
<text x="404.6" y="962.45" font-size="3" text-anchor="middle" font-weight="normal" fill="#333">-1</text>
<circle cx="398.5" cy="955.2" r="2.8" fill="#fff" stroke="#7b2fa0" stroke-width="0.9"/>
<text x="398.5" y="956.46" font-size="3.5" text-anchor="middle" font-weight="normal" fill="#7b2fa0">P</text>
<text x="398.5" y="962.45" font-size="3" text-anchor="middle" font-weight="normal" fill="#333">-2</text>
<circle cx="392.4" cy="955.2" r="2.8" fill="#fff" stroke="#7b2fa0" stroke-width="0.9"/>
<text x="392.4" y="956.46" font-size="3.5" text-anchor="middle" font-weight="normal" fill="#7b2fa0">N</text>
<text x="392.4" y="962.45" font-size="3" text-anchor="middle" font-weight="normal" fill="#333">-3</text>
<path d="M407.8,948.55 H439.4 L433.8,951.88 L438.8,955.2 L433.8,958.53 L439.4,961.85 H407.8 Z" fill="#cbb0d8" stroke="#4d3e5a" stroke-width="0.6"/>
<text x="420.2" y="957.36" font-size="6" text-anchor="middle" font-weight="normal" fill="#2a2a2a" stroke="#2a2a2a" stroke-width="0.11">Nrdj-1</text>
<rect x="443.1" y="858.4" width="32.57" height="27.95" fill="#bdc0c4"/>
<rect x="475.58" y="858.4" width="32.57" height="27.95" fill="#b6bfbe"/>
<rect x="508.05" y="858.4" width="32.57" height="27.95" fill="#b6bfbe"/>
<rect x="540.52" y="858.4" width="32.57" height="27.95" fill="#bbc0c3"/>
<rect x="443.1" y="886.25" width="32.57" height="27.95" fill="#bdc0c4"/>
<rect x="475.58" y="886.25" width="32.57" height="27.95" fill="#a7bdb3"/>
<rect x="508.05" y="886.25" width="32.57" height="27.95" fill="#aebeb9"/>
<rect x="540.52" y="886.25" width="32.57" height="27.95" fill="#b2bebc"/>
<rect x="443.1" y="914.1" width="32.57" height="27.95" fill="#b6bfbe"/>
<rect x="475.58" y="914.1" width="32.57" height="27.95" fill="#a9bdb5"/>
<rect x="508.05" y="914.1" width="32.57" height="27.95" fill="#a9bdb5"/>
<rect x="540.52" y="914.1" width="32.57" height="27.95" fill="#b8bfc0"/>
<rect x="443.1" y="941.95" width="32.57" height="27.95" fill="#abbdb6"/>
<rect x="475.58" y="941.95" width="32.57" height="27.95" fill="#b6bfbe"/>
<rect x="508.05" y="941.95" width="32.57" height="27.95" fill="#a9bdb5"/>
<rect x="540.52" y="941.95" width="32.57" height="27.95" fill="#a9bdb5"/>
<line x1="443.1" y1="886.25" x2="573" y2="886.25" stroke="#0c1a10" stroke-width="1.1"/>
<line x1="443.1" y1="914.1" x2="573" y2="914.1" stroke="#0c1a10" stroke-width="1.1"/>
<line x1="443.1" y1="941.95" x2="573" y2="941.95" stroke="#0c1a10" stroke-width="1.1"/>
<line x1="475.58" y1="858.4" x2="475.58" y2="969.8" stroke="#0c1a10" stroke-width="1.1"/>
<line x1="508.05" y1="858.4" x2="508.05" y2="969.8" stroke="#0c1a10" stroke-width="1.1"/>
<line x1="540.52" y1="858.4" x2="540.52" y2="969.8" stroke="#0c1a10" stroke-width="1.1"/>
<rect x="443.1" y="858.4" width="129.9" height="111.4" fill="none" stroke="#0c1a10" stroke-width="1.5"/>
<text x="459.34" y="874.83" font-size="8.9" text-anchor="middle" font-weight="normal" fill="#10261a" stroke="#10261a" stroke-width="0.16">0</text>
<text x="491.81" y="874.83" font-size="8.9" text-anchor="middle" font-weight="normal" fill="#10261a" stroke="#10261a" stroke-width="0.16">4±0</text>
<text x="524.29" y="874.83" font-size="8.9" text-anchor="middle" font-weight="normal" fill="#10261a" stroke="#10261a" stroke-width="0.16">4±0</text>
<text x="556.76" y="874.83" font-size="8.9" text-anchor="middle" font-weight="normal" fill="#10261a" stroke="#10261a" stroke-width="0.16">1±1</text>
<text x="459.34" y="902.68" font-size="8.9" text-anchor="middle" font-weight="normal" fill="#10261a" stroke="#10261a" stroke-width="0.16">0</text>
<text x="491.81" y="902.68" font-size="8.9" text-anchor="middle" font-weight="normal" fill="#10261a" stroke="#10261a" stroke-width="0.16">12±2</text>
<text x="524.29" y="902.68" font-size="8.9" text-anchor="middle" font-weight="normal" fill="#10261a" stroke="#10261a" stroke-width="0.16">8±1</text>
<text x="556.76" y="902.68" font-size="8.9" text-anchor="middle" font-weight="normal" fill="#10261a" stroke="#10261a" stroke-width="0.16">6±1</text>
<text x="459.34" y="930.53" font-size="8.9" text-anchor="middle" font-weight="normal" fill="#10261a" stroke="#10261a" stroke-width="0.16">4±1</text>
<text x="491.81" y="930.53" font-size="8.9" text-anchor="middle" font-weight="normal" fill="#10261a" stroke="#10261a" stroke-width="0.16">11±1</text>
<text x="524.29" y="930.53" font-size="8.9" text-anchor="middle" font-weight="normal" fill="#10261a" stroke="#10261a" stroke-width="0.16">11±5</text>
<text x="556.76" y="930.53" font-size="8.9" text-anchor="middle" font-weight="normal" fill="#10261a" stroke="#10261a" stroke-width="0.16">3±1</text>
<text x="459.34" y="958.38" font-size="8.9" text-anchor="middle" font-weight="normal" fill="#10261a" stroke="#10261a" stroke-width="0.16">10±5</text>
<text x="491.81" y="958.38" font-size="8.9" text-anchor="middle" font-weight="normal" fill="#10261a" stroke="#10261a" stroke-width="0.16">4±2</text>
<text x="524.29" y="958.38" font-size="8.9" text-anchor="middle" font-weight="normal" fill="#10261a" stroke="#10261a" stroke-width="0.16">11±5</text>
<text x="556.76" y="958.38" font-size="8.9" text-anchor="middle" font-weight="normal" fill="#10261a" stroke="#10261a" stroke-width="0.16">11±3</text></g>
</svg>
</body></html>
